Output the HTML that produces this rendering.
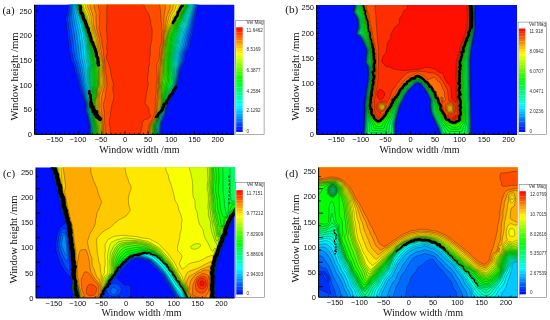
<!DOCTYPE html>
<html lang="en"><head><meta charset="utf-8"><title>Velocity magnitude contours</title>
<style>html,body{margin:0;padding:0;background:#fff}svg{display:block}</style></head>
<body>
<svg width="550" height="320" viewBox="0 0 550 320">
<rect width="550" height="320" fill="#fff"/>
<!-- panel a -->
<clipPath id="cpa"><rect x="34.5" y="4.7" width="199.8" height="129.7"/></clipPath>
<g clip-path="url(#cpa)">
<rect x="33.5" y="3.7" width="201.8" height="131.7" fill="#000fff"/>
<g stroke="#000" stroke-opacity="0.7" stroke-width="0.42" stroke-linejoin="round">
<path fill="#002eff" d="M68,1.7 199.4,1.7 199.2,4.2 197.5,8.8 195,20.5 194.2,25.7 193.5,28.6 192.8,32.7 191.1,38.2 190.2,44.7 188.7,48.7 186.5,52.6 186.1,53.7 185.5,56.9 185.3,60.2 184.9,61.7 181.5,68 181,69.3 180.4,72.7 179.5,76.2 179.2,78.7 177.7,84.7 175.4,90.7 172.5,95.5 171.3,99.2 170.2,101.2 168.5,103.3 168,104.2 166.5,110.9 165.8,115.2 165,116.8 164.2,119.2 162.5,122 162,123.6 161.7,130.7 161,134.6 160.8,137.2 89.9,137.2 89.3,134.7 89.1,133.2 89,127.2 88.3,124.2 87.5,118.4 87,116.2 85.2,112.7 84.9,111.2 84.8,109.2 85.1,105.7 85,103.7 84.5,102.1 83.2,99.2 82,95 78.8,86.2 77.5,78.6 74.8,71.2 73.5,65.3 72.9,63.7 71.8,61.7 70.9,59.7 70.4,55.2 69.2,51.2 68.6,43.2 67.6,38.7 67.5,33.2 66.5,28.7 66.2,23.2 65.7,19.2 65.9,17.2 67,13.9 67.4,11.7 67.7,1.7Z"/>
<path fill="#004dff" d="M69.5,1.7 198.1,1.7 197.9,4.2 196.2,8.7 193.5,20.8 192.7,25.7 191.3,31.7 189.5,37.7 188.4,44.7 187.1,48.2 185,52.2 184,56.2 183.6,60.2 182.3,63.7 180,68.8 178.7,75.2 178.2,78.7 176.9,84.2 174.7,90.2 171.9,95.2 170.8,98.7 169.7,100.7 167.5,103.6 164.9,114.7 164,116.4 163.3,118.7 161.5,122.2 161.1,124.2 160.7,131.2 160,134.8 159.8,137.2 90.7,137.2 89.9,132.7 89.8,127.7 89,121.7 87.5,115.1 86.4,112.7 86,111.2 85.9,109.2 86,105.2 85.8,103.2 84.2,98.7 81.5,88.9 80.4,85.7 79.1,78.2 76.9,71.2 76.1,67.2 75.3,64.2 73.2,59.2 72.6,54.7 71.4,50.7 71,43.7 69.9,38.2 69.7,33.2 68.6,27.7 67.8,19.2 67.9,17.7 69,12.2 69.1,1.7Z"/>
<path fill="#006cff" d="M70.5,1.7 197.1,1.7 197,4.2 195.4,8.7 193.5,17.2 192.3,21.2 191.5,25.7 188.2,37.2 186.8,44.7 185.8,47.7 183.8,51.7 182.8,56.2 182.3,60.2 181.2,64.2 179.3,68.7 177.6,78.7 176.4,84.2 174.2,90.2 171.5,95.2 170.8,97.7 170.2,99.2 167.1,103.7 166,107.9 165.2,112.2 164.2,114.7 163.4,116.2 162.7,118.7 161,122.3 160.6,124.2 160.1,131.2 159.4,135.2 159.2,137.2 91.1,137.2 90.4,133.2 90.2,127.2 89.4,121.7 88,115.2 86.6,111.2 86.5,105.2 86.3,102.7 84.7,98.2 82.7,88.7 81.5,84.7 81,82.2 80.5,77.7 78.7,71.2 77.9,66.7 76.7,62.2 75.3,58.7 74.8,54.2 73.7,50.2 73.4,44.2 72.4,38.7 72.1,34.7 70.9,28.2 69.8,19.2 70.4,11.7 70.2,7.7 70.3,1.7Z"/>
<path fill="#008bff" d="M71.5,1.7 196.2,1.7 196.1,4.2 194.6,8.7 192.6,16.7 191.4,20.7 190.5,25.2 187.9,32.7 186,40.2 185.3,44.7 184.5,47.2 182.5,51.7 181.6,56.2 181.3,59.7 180.8,61.7 180.5,63.7 178.6,69.2 177.2,78.7 176,84.2 173.8,90.2 171.1,95.2 170.7,97.2 170.1,98.7 169.3,100.2 167,103.4 166,106.7 164.9,112.2 163,115.8 162.2,118.7 160.7,122.2 160.3,124.2 159.6,131.7 158.7,137.2 91.4,137.2 90.6,132.2 90.5,126.7 89.7,121.7 88.9,118.2 88.1,114.2 87.4,112.2 87.1,110.7 86.7,102.7 85.2,97.7 83.8,88.2 82.4,82.7 82,77.7 81.1,73.2 80.5,71.2 80.2,67.7 78.6,61.7 77.5,58.7 76.9,53.2 76.1,50.2 75.8,44.2 74.7,38.2 74.5,34.7 73.2,28.2 71.8,19.2 71.9,16.2 71.4,7.2 71.4,1.7Z"/>
<path fill="#00aaff" d="M72.5,1.7 195.3,1.7 195.4,3.7 195.2,4.7 193.9,8.2 191.7,16.7 190.3,20.7 189.3,25.2 186.5,32.2 186,34.7 184.4,40.2 183.8,44.2 183.4,46.2 181.4,51.2 180.3,56.2 180.1,59.2 179.7,61.2 179.7,63.7 178,69.2 176.8,78.2 175.6,84.2 173.7,89.7 170.9,95.2 170.4,97.2 169.8,98.7 169,100.2 166.9,103.2 165.6,107.2 164.8,111.7 164.4,112.7 162.5,115.7 161.8,118.7 160.5,121.7 160,123.7 159.2,131.7 158.3,137.2 91.6,137.2 91,132.2 90.8,126.2 90,121.2 89.1,118.2 88.5,114.1 87.6,110.7 87.1,102.7 85.6,96.7 85.4,92.2 85,88.2 83.6,82.2 83.5,77.7 82.4,71.2 82.1,67.7 80.4,60.7 79.6,58.2 79.2,53.2 78.5,49.7 78.1,43.7 77.1,38.2 76.9,34.7 76,31.1 73.9,19.7 73.8,16.2 73.3,13.7 72.5,7.7Z"/>
<path fill="#00c9ff" d="M74,1.7 194.3,1.7 194.5,3.7 194.4,4.7 193.1,8.2 190.9,16.2 189.3,20.2 188.3,24.7 185.1,31.7 184.6,34.7 182.8,40.2 181.9,46.2 180.3,50.7 179,56.7 178.7,61.2 178.9,63.2 178.9,64.2 177.4,69.2 176.5,77.7 175.3,84.2 173.1,90.2 170.6,95.2 170.2,97.2 169.6,98.7 166.6,103.2 165.4,106.7 164.5,111.9 162,115.7 161.3,118.7 159.8,123.2 159.1,127.7 158.7,132.2 157.9,137.2 91.9,137.2 91.2,132.2 91,125.7 90.3,121.2 89.3,117.7 88.8,113.7 87.9,109.2 87.5,102.2 86.3,97.2 86.2,95.7 86.4,92.2 86.2,88.2 85.9,86.2 84.9,81.7 84.9,77.2 84.2,71.2 84.1,67.7 81.8,58.2 81.5,52.7 80.8,49.2 80.6,44.2 79.4,38.2 79.3,34.7 78.1,30.2 77.4,26.2 76,19.7 75.6,16.2 74.8,13.2 73.7,7.7 73.6,1.7Z"/>
<path fill="#00e8ff" d="M75,1.7 193.4,1.7 193.7,3.7 193.6,4.7 192.3,8.2 190.1,15.7 188.4,19.7 187.3,24.2 183.9,30.7 183.1,34.7 181.2,40.2 180.5,45.7 179.1,50.2 177.8,56.2 177.7,60.7 178.1,63.2 178.1,64.2 176.7,69.2 176.1,77.7 175,84.2 173,89.6 170.3,95.2 170,97 169.5,98.3 166.4,103.2 165.2,106.7 164.3,111.7 161.5,115.7 160.8,119.2 159.9,121.7 159.4,123.7 158.7,127.7 158.3,132.2 157.6,137.2 92.1,137.2 91.6,133.7 91.2,125.2 90.6,121.2 89.5,117.6 89.1,113.2 88.3,108.7 87.8,101.7 86.8,97.2 86.8,95.7 87.3,91.7 87.4,88.2 87.1,85.7 86.1,81.2 86.3,77.2 86.1,73.7 86.2,69.2 86,67.3 84.9,63.2 84,58.2 83.7,52.7 83.2,49.2 83,44.2 82.7,42.2 82,39.7 81.7,34.7 80.2,29.7 79.7,26.2 78.1,20.2 77.5,16.2 76.2,12.7 74.9,7.7 74.7,5.2 74.7,1.7Z"/>
<path fill="#00fff7" d="M75.5,1.7 192.5,1.7 192.8,3.7 192.6,5.2 191.4,8.2 189.3,15.2 187.3,19.7 186.3,23.7 185.5,25.4 183,29.2 182.6,30.2 181.8,34.7 180.5,37.7 179.9,39.7 179.2,45.7 178.1,49.7 176.7,56.2 176.6,60.2 177.2,64.2 176.1,69.2 175.6,77.7 174.7,84.2 171,93.3 170,95.2 169.6,97.2 169,98.7 166.3,103.2 165,106.7 164.1,111.7 161.7,114.7 161,116.2 160.4,119.2 159.2,122.7 158.4,127.2 158,132.2 157.3,137.2 92.4,137.2 91.9,133.7 91.5,125.2 90.9,121.2 89.7,117.2 89.6,113.2 88.6,108.7 88.1,104.2 88.1,101.2 87.4,97.2 87.4,95.7 88.1,91.7 88.3,88.7 88.1,85.2 87.3,80.7 87.5,77.7 87.4,73.7 87.7,67.7 87.5,66.2 86.4,62.2 85.9,58.2 85.7,52.7 85.2,48.7 85,43.2 83.9,39.2 83.7,34.2 82.2,29.7 81.5,25.7 79,17 77.2,12.2 75.7,7.2 75.4,4.7Z"/>
<path fill="#00ffd8" d="M76,1.7 191.7,1.7 191.9,4.2 191.7,5.2 190.7,7.7 188.1,15.2 186.4,19.2 185.3,23.2 181.9,29.2 180.8,34.2 179.5,37.2 178.9,39.2 178.1,45.7 175.7,56.2 175.6,60.7 176.1,63.2 176.1,64.7 175.3,69.2 175.2,77.2 174.5,83.8 170.5,93.7 169.9,94.7 169,97.9 166.3,102.7 164.9,106.2 163.8,111.7 161.4,114.7 160.5,116.7 160,119.2 158.8,123.2 157.9,127.2 157.5,132.7 157,137.2 92.7,137.2 92.2,133.7 91.8,124.7 91.2,121.2 90,117.2 90,113.2 88.8,108.2 88.4,104.2 88.4,101.2 87.9,97.7 87.9,95.7 88.8,92.2 89.1,89.7 89,85.2 88.1,80.7 88.3,77.7 88.2,73.7 88.6,67.2 87.5,62.2 87,58.7 86.8,52.7 86.2,48.2 86,42.7 85.1,39.2 84.7,34.2 83.1,29.2 82.5,25.7 79.1,15.2 77.7,11.7 76.1,6.2 75.8,4.2 75.8,1.7Z"/>
<path fill="#00ffb9" d="M76.5,1.7 191,1.7 191,4.2 190.8,5.2 185.7,18.2 184.3,22.7 181.5,27.7 180.9,29.2 179.9,33.7 178.5,37.1 178,38.7 177.4,43.7 174.8,56.7 174.7,60.7 175,64.2 174.5,68.7 174.7,76.7 174.2,83.7 169.5,94.7 168.5,98 166.3,102.2 164.6,106.2 163.8,110.7 163.5,111.7 161.1,114.7 160.2,116.7 159.6,119.7 158.2,123.7 157.4,127.2 157.2,132.7 156.8,137.2 93,137.2 92.4,133.7 92,124.2 91.5,121.2 90.4,117.7 90.4,113.2 89.2,108.7 88.7,104.2 88.8,101.2 88.3,96.7 89.5,91.7 89.7,89.7 89.6,85.2 88.8,80.7 88.8,74.7 89.2,66.7 87.8,58.2 87.6,52.2 86.8,47.2 86.8,42.7 85.9,38.7 85.5,34.2 83.8,29.2 83.1,25.2 78.6,12.7 76.4,5.7 76.2,4.2 76.2,1.7Z"/>
<path fill="#00ff9b" d="M76.5,1.7 190.3,1.7 190.2,3.7 189.8,5.2 186.7,12.7 183.3,22.2 180.7,26.7 179.1,33.2 177.3,37.7 176.6,42.7 173.9,56.7 173.7,61.2 174,64.7 173.7,68.2 173.7,72.2 174.1,76.7 174,83.2 173.5,84.7 170.9,89.7 168.5,96.6 164.4,106.2 163.4,111.2 162.8,112.2 160.8,114.7 159.8,116.7 159.2,119.7 157.6,124.2 156.9,127.2 156.8,132.7 156.5,137.2 93.4,137.2 92.8,133.7 92.3,123.7 90.9,118.2 90.8,116.7 90.8,113.2 89.5,108.7 89,104.2 89.1,101.2 88.8,96.7 90.2,91.2 90.4,85.7 89.6,81.2 89.4,75.2 89.8,65.2 88.7,58.2 88.7,55.2 88.4,51.7 87.4,47.2 87.5,42.7 86.7,38.7 86.4,35.7 86,33.6 84.6,29.2 83.5,24.5 82,20.2 80.2,16.2 76.8,5.7 76.5,4.2Z"/>
<path fill="#00ff7c" d="M77,1.7 189.6,1.7 189.1,4.7 185.6,12.7 182.6,21.2 181.6,23.2 179.7,26.2 178.4,32.2 176.4,37.2 175.8,42.2 174.9,45.7 174.4,49.7 173.2,55.7 172.7,60.7 172.9,64.2 172.7,67.7 173,72.2 173.5,77.3 173.5,83.2 173,84.7 170.2,89.7 169,93.7 166.2,100.7 165.1,104.2 164.1,106.2 163,111.2 160.5,114.7 159.7,116.2 158.9,119.7 157.1,124.2 156.3,127.7 156.5,132.3 156.2,137.2 93.8,137.2 93.1,133.7 92.7,123.7 91.3,118.2 91.3,113.2 89.8,108.7 89.3,104.2 89.5,101.2 89.3,97.2 89.6,95.7 90.9,91.2 91,85.7 90.3,81.2 90,75.7 90.2,72.2 90.1,69.2 90.6,65.7 90.6,64.2 89.5,58.2 89.5,55.2 89.1,51.2 88.1,47.2 88.2,42.7 86.9,35.2 85.1,29.2 84,24.3 82.5,20.2 80.5,16.2 78,7.7 77,5.2 76.7,3.7 76.7,1.7Z"/>
<path fill="#00ff5d" d="M77.5,1.7 189,1.7 188.4,4.7 184.9,12.2 182.2,19.7 180.8,22.7 178.9,25.7 177.8,30.7 175.3,37.2 174.9,41.2 173.9,45.2 173.5,49.2 172.3,55.2 171.7,61.2 171.7,67.7 172.8,80.2 172.6,83.2 172,84.9 169.7,88.7 168.5,93.2 166,99.9 165,103.7 163.8,106.2 162.6,111.2 159.4,116.2 158.6,119.7 156.6,124.2 155.9,127.7 156.1,131.7 155.9,137.2 94.3,137.2 93.5,133.7 93.2,123.7 91.7,117.7 91.7,113.2 90.3,108.7 89.7,104.2 89.9,97.2 91.6,91.2 91.8,85.2 91.2,81.2 90.8,75.7 91,72.2 90.9,68.7 91.4,65.7 91.4,64.2 90.3,58.2 90.3,55.2 89.9,51.7 89.5,49.7 88.7,47.2 88.7,42.7 87.3,34.7 85.3,28.2 84,22.9 83,20.2 80.7,15.7 78.5,8 77.2,4.7 77,1.7Z"/>
<path fill="#00ff3e" d="M77.5,1.7 188.4,1.7 188.1,3.7 187.6,5.2 184.4,11.7 182.2,17.7 181,20.4 179.9,22.7 178.1,25.7 177,30.1 174.3,36.7 173.7,41.2 172.8,45.2 172.5,48.7 171.4,55.2 170.6,61.7 170.9,72.7 171.5,78.2 171.5,80.7 171.1,83.2 170.7,84.7 168.7,88.2 167.7,92.7 165.8,98.2 164.8,103.2 163.6,105.7 162.4,110.7 161.7,112.2 159.1,116.2 158.3,119.7 156,124.7 155.5,127.7 155.8,132.2 155.5,137.2 94.9,137.2 94.1,133.7 93.7,123.7 92.3,118.2 92.2,113.2 90.7,108.2 90.2,104.2 90.6,97.7 92.3,91.7 92.8,85.2 92.2,81.2 91.8,75.7 92,72.2 91.8,68.7 92.3,65.2 92.2,63.2 91.1,58.2 91,55.2 90.4,50.7 89.3,46.7 89.2,42.2 87.6,34.7 85.6,28.2 85,25.2 84,21.7 83.2,19.7 81,15.7 79,8.5 77.5,4.7 77.3,1.7Z"/>
<path fill="#00ff1f" d="M78,1.7 187.7,1.7 187.5,3.7 186.9,5.7 184,11.2 182,16.4 179.5,21.7 177.4,25.2 176.3,29.2 173.8,34.7 173.2,36.7 172.8,39.7 171.9,43.7 171.4,48.7 169.5,61.7 169.7,73.2 170.1,77.7 169.7,82.7 169.4,84.2 167.6,87.7 166.9,92.2 165.2,97.7 164.5,102.7 163.2,105.7 162.4,109.7 161.3,112.2 158.8,116.2 158.2,119.2 155.8,123.7 155.5,124.7 155.1,127.2 155.4,132.2 155,137.2 95.5,137.2 94.7,133.7 94.3,123.7 92.8,118.2 92.6,113.2 91.4,108.2 90.9,104.2 91.4,97.7 92.8,92.7 93.2,87.7 93.8,84.7 93.3,81.2 92.9,76.2 93.1,72.2 92.8,68.7 93.1,65.2 93,62.7 91.9,58.2 91.7,55.2 91.1,50.7 89.9,46.7 89.5,41.7 87.9,34.7 85.9,28.2 84.3,21.7 83.5,19.7 81.1,15.2 79.5,9.2 77.8,4.7 77.6,3.7 77.6,1.7Z"/>
<path fill="#00ff00" d="M78,1.7 187.1,1.7 187,3.7 186.3,5.7 183.8,10.2 181,16.9 178.6,21.7 176.9,24.7 175.5,28.7 172.9,34.2 172.1,36.2 170.9,43.2 169.2,57.7 168.4,61.7 168.5,73.2 168.8,77.2 168.3,82.7 168,83.7 166.5,87.2 165.9,92.2 164.8,95.7 164.5,97.3 164,102.7 162.9,105.7 162.2,109.2 161,112.2 158.7,115.7 158,119 155.4,123.7 155,124.7 154.7,127.2 155,132.7 154.5,137.2 96.1,137.2 95.4,133.7 95.3,130.2 94.8,123.7 93.3,118.2 93,113.2 92,107.7 91.6,104.2 92.2,98.2 93.5,93.2 94,88.1 94.7,84.7 94,76.2 94.1,72.7 93.8,68.7 94,65.2 93.8,62.7 92.6,57.7 92.4,55.2 91.7,50.7 90.6,46.7 90,41.7 88.1,34.2 86.1,27.7 84.5,21.1 83.9,19.7 81.8,16.2 81.2,14.7 79.9,9.2 78,4.2 77.9,1.7Z"/>
<path fill="#1fff00" d="M78.5,1.7 186.5,1.7 186.4,3.7 186,5.2 183.4,9.7 181,15.4 176.3,24.2 174.7,28.2 171.7,34.2 171,36.2 169.8,42.7 168.2,57.7 167.3,61.7 167.4,69.7 167.2,73.7 167.5,77.7 166.8,82.7 165.3,87.2 165.1,91.7 164,95.7 163.7,97.2 163.6,102.2 162.6,105.2 162,108.7 160.9,111.7 158.4,115.7 158,118.2 157.6,119.2 154.7,124.2 154.3,127.2 154.6,132.7 153.9,137.2 96.7,137.2 96.1,133.7 96,129.7 95.4,123.7 93.7,117.7 93.3,111.2 92.3,104.2 92.7,99.7 94,95.2 94.8,88.2 95.7,84.7 95.2,79.2 95.2,72.7 94.6,62.2 93.3,57.7 93,54.7 92.2,50.2 91.2,46.7 90.3,41.2 89.1,37.7 87.3,30.7 86.3,27.7 84.8,21.2 84,19.2 81.9,15.7 81.3,14.2 80.2,9.2 78.4,4.2 78.2,1.7Z"/>
<path fill="#3eff00" d="M78.5,1.7 185.9,1.7 185.8,3.7 185.5,5.2 182.5,10.2 180.5,15 178.3,18.7 175.7,23.7 174,27.5 171,33 170,35.7 168.6,42.7 167.3,57.2 166.2,61.7 166.3,69.7 166,73.7 166.2,77.2 165.3,82.7 164.2,86.7 164.1,91.7 163,96.7 163,102.2 162.2,105.2 161.8,108.2 160.7,111.2 159.8,113.2 158.2,115.7 157.6,118.7 154.3,124.2 153.9,127.2 154.2,132.7 153.3,137.2 97.3,137.2 96.8,133.7 96.7,129.7 96,123.7 94.4,118.7 94.2,117.2 93.6,109.2 93,104.2 93.4,100.2 94.8,95.7 95.6,88.2 96.6,85.2 96.8,84.2 96.3,78.7 96.2,72.2 95.4,62.2 95,60.2 94,57.2 92.8,49.7 91.7,46.2 90.7,41.2 89.5,37.7 87.8,31.2 86.5,27.3 85.2,21.2 84.4,19.2 82.5,16.2 81.6,14.2 80.6,9.7 78.8,4.2Z"/>
<path fill="#5dff00" d="M79,1.7 185.3,1.7 185.3,3.7 184.8,5.2 182,9.7 179.9,14.7 177.7,18.2 173.5,26.5 171,30.7 169,35.2 167.6,42.2 166.4,56.7 165.1,61.7 165.2,68.7 164.8,73.7 164.9,76.7 164.1,80.2 163.8,82.7 163,86.7 163.1,91.7 162.5,95.2 162.3,97.2 162.6,100.7 162.6,102.2 161.8,105.2 161.4,108.2 160.2,111.7 157.9,115.7 157.7,117.7 157.4,118.7 153.9,124.2 153.6,127.2 153.8,132.7 152.8,137.2 97.8,137.2 97.4,133.2 97.3,129.7 96.6,123.7 96.3,122.2 95,118.7 94.7,117.2 94.2,109.2 93.7,104.2 94.2,99.7 95.6,95.7 96.2,88.7 97.4,85.2 97.6,84.2 97.2,78.7 97.2,72.7 96.2,61.7 95.7,59.7 94.8,57.2 93.1,48.7 91.7,44.2 91,40.7 89.7,37.2 88.1,31.2 86.9,27.7 85.5,21.2 84.8,19.2 82.5,15.5 81.9,14.2 80.8,9.2 79.1,4.2 78.9,2.2 78.9,1.7Z"/>
<path fill="#7cff00" d="M79.5,1.7 184.6,1.7 184.6,3.7 184.4,4.7 181.4,9.7 179.5,14.2 177,17.8 173.4,25.2 170,30.8 169,32.9 168.1,35.7 166.7,43.2 166.5,46.7 165.9,50.2 165.7,56.2 164.3,61.7 164.3,68.7 163.9,73.2 163.8,76.7 162.7,80.7 162.6,83.2 162.1,87.2 162.3,91.7 161.8,97.2 162.1,100.7 162,102.7 160.9,108.7 159.7,112.2 157.7,115.7 157.4,118.2 155.6,121.2 154.1,123.2 153.5,124.2 153.2,126.7 153.4,132.7 152.3,137.2 98.4,137.2 98,133.2 98,129.7 97.2,123.7 96.9,122.2 95.6,118.7 95.2,116.7 94.3,104.2 94.7,99.7 96,96.2 96.3,91.7 96.6,89.2 97.9,85.7 98.2,84.2 97.9,78.7 98,74.7 97.8,69.7 97,62.2 96.5,60 95.3,56.7 93.6,48.2 92.1,43.7 91.4,40.7 90,37 88.3,30.7 87.1,27.2 85.7,20.7 84.7,18.2 82.5,14.6 82,13.1 81.4,9.7 79.5,4.2 79.3,1.7Z"/>
<path fill="#9bff00" d="M80,1.7 183.9,1.7 183.8,3.7 183.5,4.7 180.7,9.7 178.7,14.2 176.2,17.7 174.9,20.7 173.2,24.2 169.5,30.4 168.5,32.7 167.5,35.7 166.1,43.2 165.9,46.7 165.3,50.2 164.9,56.7 163.8,61.2 163.6,64.7 163.7,68.7 163.1,76.2 161.9,80.7 161.9,83.2 161.5,87.2 161.7,91.7 161.3,97.2 161.7,101.7 160.9,107.2 159.6,111.7 157.5,115.7 157.4,117.2 157.1,118.2 155.5,120.9 153.7,123.2 153.2,124.2 152.8,126.7 153,132.7 151.8,137.2 98.9,137.2 98.6,129.2 97.8,123.2 96.3,118.7 95.9,116.7 95.3,112.2 94.8,104.2 95,100.2 96.4,96.2 96.8,90.2 97.3,88.2 98.2,86.2 98.6,84.2 98.3,78.7 98.5,75.7 98.5,69.2 97.6,62.2 97,59.7 95.8,56.7 95.1,52.7 94,47.8 92.6,43.7 91.9,40.7 90.5,37 88.8,30.7 87.5,27 86.1,20.7 85.2,18.2 83,14.4 82.5,13 81.8,9.7 80,4.2 79.7,1.7Z"/>
<path fill="#b9ff00" d="M80.5,1.7 183.1,1.7 182.7,4.2 179.7,10.2 178.5,13.2 177.6,14.7 175.6,17.2 174.5,20.2 173,23.3 169,30.3 167.1,35.7 165.6,43.2 165.5,46.2 164.7,50.2 164.3,56.7 163.3,61.2 163.1,64.7 163.2,68.7 162.6,75.2 162.3,76.7 161.3,80.7 161.3,83.7 160.9,89.2 161.1,94.2 161,98.2 161.2,102.2 160.6,107.2 159.3,111.7 157.2,115.7 157,117.9 155.4,120.7 153.4,123.2 152.9,124.2 152.4,126.7 152.5,133.2 151.4,137.2 99.3,137.2 99.2,134.2 99.3,130.2 98.6,123.7 98.3,122.2 96.9,118.2 95.9,112.2 95.4,106.2 95.3,101.2 95.6,99.2 96.7,96.2 97,94.2 97,91.7 97.3,89.7 97.7,88.2 98.5,86.6 98.8,84.7 98.7,78.7 98.9,75.7 98.8,72.2 99.1,69.2 98.9,67.2 98.1,61.7 96.2,56.7 95.5,52.2 94.5,47.7 93,43.4 90.1,33.2 88,26.7 85.8,18.2 83.3,13.2 81.8,8.2 80.7,5.2 80.3,2.7 80.2,1.7Z"/>
<path fill="#d8ff00" d="M81,1.7 182.2,1.7 182,3.2 181.4,5.2 178,12.7 177,14.3 175,16.7 174,19.7 173,21.9 168.5,30.3 166.6,35.7 165.2,43.2 164.9,46.7 164.1,50.7 163.8,56.7 163,60.7 162.7,64.2 162.8,68.7 162.2,74.2 161.7,76.7 160.9,79.2 160.7,80.7 160.8,83.7 160.4,89.7 160.8,94.2 160.6,98.2 160.8,102.2 160.6,104.7 159.5,110.3 158.8,112.2 157.2,115.2 156.9,117.7 155.1,120.7 153,123.4 152.5,124.7 152.1,126.7 152,133.2 151,137.2 99.8,137.2 99.7,134.2 100,130.7 99.5,126.7 99.3,123.7 99,122.2 97.8,118.7 97.2,114.7 96.3,111.2 95.8,106.7 95.7,101.2 95.9,99.2 97.1,96.2 97.5,90.2 97.9,88.7 98.9,86.7 99.1,85.7 99.2,83.7 99.1,79.2 99.3,75.7 99.2,72.2 99.6,69.2 99.5,67.2 98.6,61.7 96.6,56.2 95.9,51.7 94.8,47.2 92.1,38.7 90.9,33.7 87.3,22.2 86.2,17.7 83.5,11.8 81.2,5.2 80.8,3.2 80.8,1.7Z"/>
<path fill="#f7ff00" d="M81.5,1.7 181.2,1.7 180.5,5.2 179.5,7.7 177,13 174.3,16.2 173.2,19.7 172.5,21.5 168,30.2 166.2,35.7 165.5,40.4 164.9,43.2 164.6,46.2 163.5,51.7 163.3,56.7 162.2,64.7 162.3,68.7 161.7,73.7 160.1,80.7 160.4,85.2 159.9,90.2 160.4,94.7 160.3,104.7 159.1,110.7 157,115.2 156.6,117.7 155,120.5 152.8,123.2 152,125.2 151.6,127.2 151.6,133.2 150.6,137.2 100.3,137.2 100.2,134.7 100.5,130.7 100.1,126.7 99.9,123.2 98.7,119.2 97.9,114.7 96.7,110.7 96.3,107.2 96.3,103.2 96,100.7 96.4,98.7 97.4,96.2 97.8,90.2 98.3,88.7 99.1,87.2 99.4,86.2 99.6,83.7 99.5,79.2 99.7,75.7 99.6,72.7 100.2,69.2 100.1,67.2 99,61.2 97.1,56.2 96.4,51.7 95.6,48.2 92.7,38.7 91.6,33.7 87.7,21.7 86.6,16.7 84,11.1 81.9,5.2 81.5,3.7Z"/>
<path fill="#ffe800" d="M83,1.7 179.7,1.7 179.1,5.2 178,8.1 176,12.4 173.3,15.7 172,20.2 167.6,29.7 165.7,35.7 165.1,40.2 164.5,43.2 164.2,46.2 163.4,49.7 163,52.7 162.8,56.7 161.8,64.7 161.8,68.2 161.3,73.2 159.7,80.7 160,85.2 159.4,90.7 160,95.7 159.7,99.7 159.7,105.2 158.6,110.7 156.7,115.2 156.4,117.7 155,120.2 152.5,123.2 151.6,125.2 151.2,127.7 151.1,133.2 150.2,137.2 100.9,137.2 100.8,134.7 101.1,130.7 100.6,123.2 99.3,118.7 98.5,114.2 97.2,110.2 96.8,107.2 96.9,103.2 96.5,100.2 96.9,98.2 97.7,96.7 98,94.2 98,91.8 98.3,90.2 99.7,87.2 99.9,86.2 100,83.7 100,78.6 100.2,75.7 100.1,72.7 100.8,69.2 100.7,66.7 99.7,61.2 97.8,56.2 96.2,48.2 93.5,39 92.4,33.2 88.5,21.7 87.3,15.7 84.5,9.8 82.8,4.7 82.6,2.7 82.7,1.7Z"/>
<path fill="#ffc900" d="M85,1.7 176.5,1.7 176.4,4.7 175.4,8.2 174.2,11.2 172.6,13.2 171.3,15.7 170.1,20.2 168.6,24.2 167.8,27.2 167,29.3 164.9,36.2 164.7,40.2 164.1,43.2 163.8,46.2 162.9,50.2 162.5,53.2 160.7,73.2 159.3,80.7 159.7,85.2 159.5,87.7 159,90.7 159.5,95.7 159.1,100.7 159.1,105.2 158.2,110.2 156.3,115.7 156.3,117.2 156.1,117.7 154.5,120.4 152.2,123.2 151.2,125.2 150.7,128.7 150.5,133.7 149.8,137.2 101.5,137.2 101.6,130.7 101.2,123.7 100.8,121.7 99.8,118.2 99.1,114.2 97.6,109.7 97.4,107.7 97.5,103.2 97.2,100.2 97.3,98.7 98.1,96.7 98.8,90.7 100.3,87.2 100.9,84.2 100.9,73.2 101.6,69.2 101.4,65.7 100.5,60.7 98.3,54.7 96.9,47.7 93.6,33.7 90,22.2 89.4,17.7 89,15.7 88.3,13.7 85.9,8.2 85,4.2 84.9,1.7Z"/>
<path fill="#ffaa00" d="M87.5,1.7 173.2,1.7 173.4,4.7 172.6,8.7 172.3,9.7 169.8,14.2 169.1,16.2 167.2,23.7 166.7,27.2 164.2,36.2 164.1,40.7 163.4,46.2 162.5,50.2 160.1,73.2 158.9,80.7 159.3,85.7 159.1,87.7 158.6,90.2 158.5,91.7 158.9,96.2 158.3,101.2 158.3,105.2 157.6,108.7 157.6,110.2 156,115.7 156,116.9 155.7,117.7 154.5,119.9 151.9,123.2 150.9,125.2 150.2,128.7 150,133.7 149.4,137.2 102.3,137.2 101.9,124.2 99.6,113.7 98.2,109.7 98.3,103.2 98,99.2 99.4,91.7 101.4,86.7 102.2,83.7 102.3,79.7 101.8,73.7 102.4,69.7 102.1,63.7 101.3,60.2 98.8,52.7 97.3,45.7 96.2,38.7 94.6,33.2 93.2,29.2 91.8,23.7 91.4,21.7 91.3,18.2 90.8,15.7 90.1,13.2 87.9,7.7 87.4,4.2 87.3,1.7Z"/>
<path fill="#ff8b00" d="M90,1.7 169.6,1.7 170.2,5.2 170,8.2 166.7,16.7 165.8,23.2 165.6,27.2 165.2,29.7 163.6,35.7 163.6,41.7 162.9,46.2 162.1,49.7 161.2,57.2 161.1,60.2 159.7,69.2 159.5,73.2 158.6,80.7 158.8,86.2 158.6,88.2 158,91.2 158.2,96.7 157.5,101.2 157.6,104.7 156.9,108.7 156.9,110.2 156.2,114.2 155.6,115.7 155.5,117.2 154,120 151.1,123.7 150.5,125.2 149.7,129.2 149.4,133.2 148.9,137.2 103.1,137.2 103.1,134.7 102.6,130.2 102.6,124.7 100.3,113.2 99.3,110.2 99.1,108.7 99.3,103.2 99.1,98.7 99.5,95.7 100.5,92 103.3,85.2 103.6,83.7 103.6,78.7 102.8,73.7 103.1,69.7 103,63.7 101.9,58.7 100,52.9 99,48.8 98.3,45.2 97.6,38.2 94.5,28.9 93.5,24.7 93.2,22.2 93.2,17.7 92.2,13.2 90.3,7.7 90,5.2Z"/>
<path fill="#ff6c00" d="M94,1.7 164.8,1.7 165.3,4.2 165.4,8.2 164.2,14.7 163.9,19.2 164.1,30.7 162.9,35.7 163.1,41.7 161.5,49.2 160.7,56.7 160.6,60.2 159.3,64.2 158.6,68.7 158.6,73.7 158.1,80.7 158,88 157.5,90.7 157.4,96.7 156.7,101.2 156.8,104.7 156.3,108.2 156.3,110.2 155.6,114.2 154.5,117.7 153.5,119.7 150.9,123.2 150.1,124.7 149.1,129.2 148.1,137.2 104.3,137.2 103.4,130.7 103.5,125.2 102,115.2 101.9,112.7 101.1,109.2 100.9,106.7 101,104.2 101.6,97.7 102.7,92.2 104.7,86.2 105,83.7 104.7,77.2 103.8,72.7 103.8,63.7 102.9,58.7 101.7,53.7 100.2,46.2 99.3,38.7 96.4,28.2 95.9,17.7 96.1,14.7 95.6,12.2 94,7.2 93.8,1.7Z"/>
<path fill="#ff4d00" d="M98.5,1.7 158.2,1.7 159.5,3.2 159.9,7.2 160.5,10.7 161.1,20.7 161.7,24.7 161.6,27.7 162.3,31.2 161.5,36.2 161.8,41.2 160,47.7 159.1,59.7 159,60.2 157.2,63.2 156.9,64.7 156.7,69.7 157.3,77.2 157,80.6 156.2,85.2 156.3,91.2 155.2,100.7 155.5,104.2 155.1,107.7 155.1,110.7 154.5,113.7 152.5,119 149.2,124.2 147.7,130.7 146.5,137.2 106,137.2 105,131.2 105,125.2 104.3,120.7 104.2,115.2 104.4,112.2 103.5,106.7 103.4,104.7 103.5,103.7 105.4,96.7 105.6,92.7 106.8,87.2 107,82.7 106.3,75.7 105.1,71.7 105.1,65.7 104.3,58.7 103.7,55.7 103.3,50.2 102.4,46.2 101.7,39.7 100.5,35.1 100.1,32.2 99.2,28.7 99.1,27.7 99.8,23.2 99.3,18.2 99.8,15.2 99.9,13.2 99.8,11.7 98.8,8.7 98.3,6.7 98.2,1.7Z"/>
<path fill="#ff2e00" d="M107.5,1.7 143.9,1.7 143.8,4.2 143.9,5.2 146,10.2 148.6,13.7 150.6,20.2 150.9,24.7 152,28.7 152.2,30.2 152,38.2 151.5,41.7 150.3,47.2 150.3,54.7 149.2,60.2 149.6,62.7 149.6,63.7 148.5,67.7 148.5,71.2 147.7,76.7 147.7,79.2 148.3,83.7 147.4,89.2 146.4,93.2 145.8,98.7 145,102.7 145.2,103.7 145.5,104.2 147.5,106.4 148.3,107.7 148.9,109.7 149,112.7 150.6,115.2 150.7,115.7 150.3,116.7 149,118 147.5,118.8 144.5,119.8 143.5,120.5 143,121.2 142.4,123.2 142.1,126.7 141.3,129.2 140.5,133.7 139.6,137.2 111.4,137.2 111.2,134.7 110.4,131.2 110.2,127.7 109.3,124.7 109.4,120.2 109.5,119.2 110.4,116.7 110.5,112.7 111.4,108.7 111.8,104.7 113.3,100.2 114.1,95.2 113,90.9 112.8,89.2 112.8,87.7 113.4,84.7 113.4,83.7 111.8,78.2 109.8,66.7 107,60.2 106.5,58.2 106.6,56.7 107.3,51.7 106.7,47.7 106.7,46.2 107.4,42.2 107,37.7 107,34.2 106.4,29.2 106.2,26.7 106.9,21.2 106.8,10.2 107.2,1.7Z"/>
</g>
<path d="M79.5,4.0 80.1,5.4 80.6,7.1 80.3,8.8 80.4,10.2 80.9,12.6 82.3,13.6 83.0,15.3 83.2,17.4 83.8,19.6 84.4,19.9 85.5,21.8 85.5,22.4 86.6,25.5 87.1,27.2 88.1,28.4 88.4,29.7 88.5,32.0 89.4,32.7 89.9,34.7 90.1,36.6 90.8,37.4 91.2,40.3 91.6,41.3 93.0,43.1 92.9,44.3 94.1,46.3 94.1,46.9 95.2,49.2 95.3,50.0 95.8,51.6 96.3,52.5 96.4,54.3 96.4,55.9 97.2,57.0 97.8,58.0 98.0,60.2 98.3,62.1 97.9,62.7 98.5,65.0" fill="none" stroke="#000" stroke-width="3.2" stroke-linejoin="round" stroke-linecap="round"/>
<path d="M89.3,91.0 89.1,92.8 89.3,93.4 90.9,95.6 90.3,97.2 91.0,98.9 91.1,100.1 90.4,102.8 91.3,104.0" fill="none" stroke="#000" stroke-width="2.6" stroke-linejoin="round" stroke-linecap="round"/>
<path d="M91.3,104.0 91.4,106.4 92.8,107.3 93.2,109.1 93.8,110.4 93.5,111.6 96.3,112.2 95.7,114.3 97.1,115.4 96.7,116.6 98.1,117.2 100.0,119.0" fill="none" stroke="#000" stroke-width="4.3" stroke-linejoin="round" stroke-linecap="round"/>
<path d="M183.0,4.0 182.6,5.8 181.1,6.7 180.3,8.3 179.6,9.7 179.1,11.0 177.8,12.3 177.8,14.2 177.2,16.0 175.9,17.3 174.7,19.4 175.0,19.9 173.3,21.7 173.0,23.0" fill="none" stroke="#000" stroke-width="2.8" stroke-linejoin="round" stroke-linecap="round"/>
<path d="M176.0,87.0 175.0,88.6 174.0,89.5 173.4,90.3 173.0,91.4 172.8,92.8 172.0,93.8 170.6,94.9 169.1,96.7 169.1,97.3 168.5,98.7 167.3,100.4 166.7,100.8 166.4,103.0 164.8,103.6 163.7,104.8 163.9,106.5 162.5,107.8 162.9,109.1 161.3,111.0 160.9,111.8 159.8,112.4 158.5,113.8 157.9,115.1 157.2,116.1 156.0,117.0" fill="none" stroke="#000" stroke-width="2.8" stroke-linejoin="round" stroke-linecap="round"/>
</g>
<path d="M34.5,4.7V134.4H234.3" fill="none" stroke="#000" stroke-width="1"/>
<path d="M36.9,134.4v-1.6M41.6,134.4v-1.6M46.2,134.4v-1.6M50.8,134.4v-1.6M55.5,134.4v-3.2M60.1,134.4v-1.6M64.7,134.4v-1.6M69.4,134.4v-1.6M74.0,134.4v-1.6M78.7,134.4v-3.2M83.3,134.4v-1.6M87.9,134.4v-1.6M92.6,134.4v-1.6M97.2,134.4v-1.6M101.8,134.4v-3.2M106.5,134.4v-1.6M111.1,134.4v-1.6M115.7,134.4v-1.6M120.4,134.4v-1.6M125.0,134.4v-3.2M129.6,134.4v-1.6M134.3,134.4v-1.6M138.9,134.4v-1.6M143.5,134.4v-1.6M148.2,134.4v-3.2M152.8,134.4v-1.6M157.4,134.4v-1.6M162.1,134.4v-1.6M166.7,134.4v-1.6M171.3,134.4v-3.2M176.0,134.4v-1.6M180.6,134.4v-1.6M185.3,134.4v-1.6M189.9,134.4v-1.6M194.5,134.4v-3.2M199.2,134.4v-1.6M203.8,134.4v-1.6M208.4,134.4v-1.6M213.1,134.4v-1.6M217.7,134.4v-3.2M222.3,134.4v-1.6M227.0,134.4v-1.6M231.6,134.4v-1.6M34.5,129.5h1.8M34.5,124.5h1.8M34.5,119.6h1.8M34.5,114.6h1.8M34.5,109.7h3.6M34.5,104.8h1.8M34.5,99.8h1.8M34.5,94.9h1.8M34.5,89.9h1.8M34.5,85.0h3.6M34.5,80.1h1.8M34.5,75.1h1.8M34.5,70.2h1.8M34.5,65.2h1.8M34.5,60.3h3.6M34.5,55.4h1.8M34.5,50.4h1.8M34.5,45.5h1.8M34.5,40.5h1.8M34.5,35.6h3.6M34.5,30.7h1.8M34.5,25.7h1.8M34.5,20.8h1.8M34.5,15.8h1.8M34.5,10.9h3.6M34.5,6.0h1.8" stroke="#000" stroke-width="0.8" fill="none"/>
<g font-family="Liberation Sans, Arial, sans-serif" font-size="7.5" fill="#111">
<text x="54.7" y="142.3" text-anchor="middle">−150</text>
<text x="77.9" y="142.3" text-anchor="middle">−100</text>
<text x="101.0" y="142.3" text-anchor="middle">−50</text>
<text x="125.0" y="142.3" text-anchor="middle">0</text>
<text x="148.2" y="142.3" text-anchor="middle">50</text>
<text x="171.3" y="142.3" text-anchor="middle">100</text>
<text x="194.5" y="142.3" text-anchor="middle">150</text>
<text x="217.7" y="142.3" text-anchor="middle">200</text>
<text x="31.9" y="137.1" text-anchor="end">0</text>
<text x="31.9" y="112.4" text-anchor="end">50</text>
<text x="31.9" y="87.7" text-anchor="end">100</text>
<text x="31.9" y="63.0" text-anchor="end">150</text>
<text x="31.9" y="38.3" text-anchor="end">200</text>
<text x="31.9" y="13.6" text-anchor="end">250</text>
</g>
<g font-family="Liberation Serif, Times New Roman, serif" fill="#111">
<text transform="translate(139.4,152.5) scale(1,1.06)" font-size="10.0" text-anchor="middle">Window width /mm</text>
<text transform="translate(17.9,76.5) rotate(-90) scale(1,1.0)" font-size="10.7" text-anchor="middle">Window height /mm</text>
<text x="2.5" y="14" font-size="10.8">(a)</text>
</g>
<rect x="235.7" y="20.5" width="28.4" height="113.9" fill="#fff" stroke="#777" stroke-width="0.6"/>
<rect x="236.2" y="27.30" width="6.5" height="2.76" fill="#ff0d00"/>
<rect x="236.2" y="29.91" width="6.5" height="2.76" fill="#ff2600"/>
<rect x="236.2" y="32.52" width="6.5" height="2.76" fill="#ff4000"/>
<rect x="236.2" y="35.14" width="6.5" height="2.76" fill="#ff5900"/>
<rect x="236.2" y="37.75" width="6.5" height="2.76" fill="#ff7300"/>
<rect x="236.2" y="40.36" width="6.5" height="2.76" fill="#ff8c00"/>
<rect x="236.2" y="42.98" width="6.5" height="2.76" fill="#ffa600"/>
<rect x="236.2" y="45.59" width="6.5" height="2.76" fill="#ffbf00"/>
<rect x="236.2" y="48.20" width="6.5" height="2.76" fill="#ffd900"/>
<rect x="236.2" y="50.81" width="6.5" height="2.76" fill="#fff200"/>
<rect x="236.2" y="53.43" width="6.5" height="2.76" fill="#f2ff00"/>
<rect x="236.2" y="56.04" width="6.5" height="2.76" fill="#d9ff00"/>
<rect x="236.2" y="58.65" width="6.5" height="2.76" fill="#bfff00"/>
<rect x="236.2" y="61.26" width="6.5" height="2.76" fill="#a6ff00"/>
<rect x="236.2" y="63.88" width="6.5" height="2.76" fill="#8cff00"/>
<rect x="236.2" y="66.49" width="6.5" height="2.76" fill="#73ff00"/>
<rect x="236.2" y="69.10" width="6.5" height="2.76" fill="#59ff00"/>
<rect x="236.2" y="71.71" width="6.5" height="2.76" fill="#40ff00"/>
<rect x="236.2" y="74.33" width="6.5" height="2.76" fill="#26ff00"/>
<rect x="236.2" y="76.94" width="6.5" height="2.76" fill="#0dff00"/>
<rect x="236.2" y="79.55" width="6.5" height="2.76" fill="#00ff0d"/>
<rect x="236.2" y="82.16" width="6.5" height="2.76" fill="#00ff26"/>
<rect x="236.2" y="84.78" width="6.5" height="2.76" fill="#00ff40"/>
<rect x="236.2" y="87.39" width="6.5" height="2.76" fill="#00ff59"/>
<rect x="236.2" y="90.00" width="6.5" height="2.76" fill="#00ff73"/>
<rect x="236.2" y="92.61" width="6.5" height="2.76" fill="#00ff8c"/>
<rect x="236.2" y="95.23" width="6.5" height="2.76" fill="#00ffa6"/>
<rect x="236.2" y="97.84" width="6.5" height="2.76" fill="#00ffbf"/>
<rect x="236.2" y="100.45" width="6.5" height="2.76" fill="#00ffd9"/>
<rect x="236.2" y="103.06" width="6.5" height="2.76" fill="#00fff2"/>
<rect x="236.2" y="105.68" width="6.5" height="2.76" fill="#00f2ff"/>
<rect x="236.2" y="108.29" width="6.5" height="2.76" fill="#00d9ff"/>
<rect x="236.2" y="110.90" width="6.5" height="2.76" fill="#00bfff"/>
<rect x="236.2" y="113.51" width="6.5" height="2.76" fill="#00a6ff"/>
<rect x="236.2" y="116.12" width="6.5" height="2.76" fill="#008cff"/>
<rect x="236.2" y="118.74" width="6.5" height="2.76" fill="#0073ff"/>
<rect x="236.2" y="121.35" width="6.5" height="2.76" fill="#0059ff"/>
<rect x="236.2" y="123.96" width="6.5" height="2.76" fill="#0040ff"/>
<rect x="236.2" y="126.58" width="6.5" height="2.76" fill="#0026ff"/>
<rect x="236.2" y="129.19" width="6.5" height="2.76" fill="#000dff"/>
<g font-family="Liberation Sans, Arial, sans-serif" font-size="4.6" fill="#333">
<text x="263.5" y="24.1" text-anchor="end" font-size="4.7">Vel Mag</text>
<text x="246.6" y="31.9">11.6462</text>
<text x="246.6" y="51.4">8.5169</text>
<text x="246.6" y="72.0">6.3877</text>
<text x="246.6" y="92.5">4.2584</text>
<text x="246.6" y="112.1">2.1292</text>
<text x="246.6" y="132.5">0</text>
</g>
<!-- panel b -->
<clipPath id="cpb"><rect x="316.6" y="5" width="200.4" height="129.4"/></clipPath>
<g clip-path="url(#cpb)">
<rect x="315.6" y="4" width="202.4" height="131.4" fill="#000fff"/>
<g stroke="#000" stroke-opacity="0.7" stroke-width="0.42" stroke-linejoin="round">
<path fill="#002eff" d="M355.1,2 475.5,2 475.4,28.5 474.4,35.5 473.6,39 471.6,50.1 470.6,59.5 470.8,77.5 470.7,83.5 471.6,120.5 471.1,137 440.3,137 439.6,134 438.1,129.1 433.7,120 430.8,113.5 430.4,112 429.5,105.5 429.8,100 429.6,98.9 427.1,94.2 424.1,89.2 422.6,87.1 420.3,84.5 418.5,83.5 417.6,83.3 416.7,83.5 414.5,85 410.1,89.4 407.6,92.5 406.1,94.8 403.3,100.5 400.6,105.3 397.1,117.4 396.1,122.3 395.7,126 396,137 362.9,137 364.1,118 364.4,110 364.3,103.5 365.8,91.5 367.1,83.9 367.9,74.5 367.6,68.3 367.1,66.1 365.3,63 365.1,62 365.5,57 366.2,51.5 366.1,49.7 363.1,42.8 360.6,38 359.8,37 356.7,34.5 356.1,33.5 356,33 356.2,32 357.6,28.3 357.7,27.5 357.1,19.6 356.6,18.2 353.3,13 353,12 353.4,10 354.6,5.9 354.9,4 354.9,2Z"/>
<path fill="#004dff" d="M355.6,2 475,2 474.9,29 474,35 473.1,39 471.1,50.3 470.1,60 470.4,96 470.9,104 471.2,120.5 470.7,137 440.7,137 439.6,132.3 438.1,127.8 434.7,121 431.4,113.5 430.9,112 430,105.5 430.3,100 430.1,98.9 427.1,93.3 423.1,86.9 421.1,84.5 418.6,83 417.6,82.7 416.6,83 414.1,84.7 409.8,89 406.6,93 404.6,96.6 402.8,100.5 400.1,105.2 396.6,117.5 395.6,122.4 395.2,126 395.5,137 363.4,137 364.5,118.5 364.8,110 364.7,103.5 366.3,91 367.8,82 368.4,74.5 368.1,68.6 367.8,66.5 365.8,63 365.5,62 366,56.5 366.7,51.5 366.6,49.7 363.6,42.7 360.6,37.2 357.1,34.2 356.6,33.5 356.5,33 356.7,32 358.1,28.3 358.2,27.5 357.6,19.8 357.1,18.1 353.8,13 353.5,12 353.9,10 355.2,5.5 355.3,2Z"/>
<path fill="#006cff" d="M356.1,2 474.7,2 474.7,28.5 473.9,34.5 472.9,38.5 470.6,51.8 469.8,60.5 470.1,96.4 470.6,104 470.7,115.5 470.9,120.5 470.4,137 441,137 440.1,133.1 438.6,128.3 434.8,120.5 431.3,112.5 430.8,110.5 430.3,106 430.3,104 430.6,100 430.2,98.5 427.6,93.6 424.6,88.6 423.1,86.5 420.9,84 418.1,82.5 417.6,82.4 416.1,83 413.9,84.5 409.6,88.8 406.6,92.5 405.1,95 402.5,100.5 399.6,105.5 396.1,118.3 395.1,123.7 395,126 395.2,137 363.7,137 364.7,121 365.1,110.5 365,103.5 365.6,99.5 366.4,92.5 368.1,82.1 368.7,75 368.6,72.3 368.1,66.5 366.4,63.5 365.8,62 366.3,56 367.1,51.1 367,50 364.1,43.1 361.1,37.4 360.1,36.2 357.3,34 356.9,33 358.5,27.5 357.8,19.5 357.6,18.5 357.1,17.5 354.5,13.5 353.8,12 353.9,11 355.6,5 355.6,2Z"/>
<path fill="#008bff" d="M356.1,2 474.5,2 474.4,29 473.7,34 472.6,38.9 470.6,50.2 469.6,60 469.9,96.5 470.4,104 470.5,115.5 470.7,120.5 470.1,137 441.2,137 440.1,132.3 438.7,128 435.3,121 431.4,112 430.5,105.5 430.8,100 430.6,98.8 425.1,89 422.6,85.5 421.1,83.9 418.6,82.5 417.6,82.2 416.5,82.5 414.1,84 409.6,88.5 406.3,92.5 404.5,95.5 402.2,100.5 399.6,105 396,118 394.9,123.5 394.7,126 394.9,137 363.9,137 365,119 365.3,110 365.2,103.5 366.1,97.7 366.8,91 368.3,82 368.9,74.5 368.6,68.3 368.5,67 368.2,66 366.4,63 366.1,62 366.5,56.5 367.3,51.5 367.3,50.5 367.1,49.6 364.1,42.6 361.1,37 360.2,36 357.7,34 357.1,33 357.3,32 358.6,28.5 358.7,27.5 358.1,19.6 357.6,18 354.4,13 354.1,12 354.3,10.5 355.7,5.5 355.8,2Z"/>
<path fill="#00aaff" d="M356.1,2 474.3,2 474.2,18 474.3,28.5 473.4,34.5 472.5,38.5 470.4,50 469.4,60 469.6,77.5 469.5,83 469.7,88.5 469.7,96.5 470.2,104.5 470.2,115.5 470.5,120.5 469.9,137 441.4,137 440.5,133 439.1,128.5 435.3,120.5 431.6,112 430.7,105.5 431,100 430.7,98.5 425.1,88.6 423.1,85.8 421.1,83.6 418.6,82.3 417.6,82 416.2,82.5 413.8,84 409.3,88.5 406.1,92.5 404.1,95.9 402,100.5 399.4,105 395.6,118.6 394.7,123.5 394.5,126 394.7,137 364.1,137 364.7,130 365.2,119 365.5,110 365.4,103.5 366.1,99 366.9,91.5 368.6,82 369.1,74.5 368.8,68 368.4,66 366.6,63 366.3,62 366.7,56.5 367.5,51 367.3,49.5 364.1,42.1 361.3,37 360.5,36 358,34 357.4,33 357.5,32 358.6,29 358.9,27.5 358.3,19.5 357.6,17.5 354.7,13 354.3,12 354.5,10.5 356,5Z"/>
<path fill="#00c9ff" d="M356.6,2 474.2,2 474,18 474.1,29 473.3,34.5 472.3,38.5 470.2,50.5 469.2,60.5 469.5,77.5 469.3,83 469.5,88.5 469.5,96.5 470,104 470,115.5 470.3,120.5 469.8,137 441.6,137 440.6,132.7 439.1,128 435.5,120.5 431.8,112 431.4,110 430.9,105.5 431.2,100 430.9,98.5 425.1,88.2 423.1,85.5 421.2,83.5 418.6,82.1 417.6,81.8 416.1,82.3 413.6,84 409.1,88.5 406.1,92.2 404.1,95.5 402,100 399.1,105 395.6,118 394.5,123.5 394.4,126 394.5,137 364.3,137 364.9,129.5 365.4,119 365.4,114.5 365.7,110 365.6,103.5 366.3,99 367.2,91 368.7,82.5 368.9,78 369.3,74.5 369.2,72.5 368.8,66.5 366.8,63 366.5,62 366.9,56.5 367.7,51.5 367.6,50 364.6,42.7 361.5,37 360.6,35.8 358.1,33.8 357.6,33 357.7,32 359,28.5 359.1,27.5 358.5,19.5 357.8,17.5 354.9,13 354.5,12 354.7,10.5 356.1,5.5 356.2,2Z"/>
<path fill="#00e8ff" d="M356.6,2 474,2 473.8,18 473.9,29 473.1,34.4 472.1,38.5 470,50.5 469,60 469,68.5 469.3,77.5 469.1,83 469.4,88.5 469.3,96.5 469.8,104 469.9,115.5 470.1,120.5 469.6,137 441.7,137 440.7,132.5 439.3,128 435.9,121 431.9,112 431.5,110 431.1,105.5 431.4,100 431.1,98.5 425.2,88 423.3,85.5 421.5,83.5 418.6,81.9 417.6,81.6 416.6,81.9 413.6,83.7 408.8,88.5 406,92 404.1,95.1 401.8,100 398.9,105 395.4,118 394.3,123.5 394.2,126 394.3,137 364.4,137 365,129.5 365.6,119 365.6,114.5 365.8,110 365.7,104 366.6,98 367.3,91 369,82 369.1,78 369.5,74 369.2,68 368.8,66 367,63 366.7,62 367,56.5 367.9,51.5 367.9,50.5 367.7,49.5 364.7,42.5 361.6,36.8 360.6,35.6 358.1,33.5 357.8,33 357.9,32 359.2,28.5 359.3,27.5 358.7,19.5 358,17.5 355.1,13 354.7,12 354.8,10.5 356.3,5.5 356.4,2Z"/>
<path fill="#00fff7" d="M356.6,2 473.9,2 473.6,22 473.8,29 472.9,34.5 471.9,38.5 469.8,50.5 468.8,60 468.8,68.5 469.1,77.5 468.9,83 469.2,88.5 469.1,96.5 469.7,104 469.7,116 470,121 469.6,126.5 469.6,133.1 469.4,137 441.9,137 440.8,132 439.3,127.5 436.1,120.9 432.1,111.9 431.6,109.2 431.3,105.5 431.6,100 431.3,98.5 425.4,88 423.2,85 422.1,83.8 421.1,83 418.6,81.7 417.6,81.4 416.6,81.7 413.6,83.5 408.6,88.5 405.8,92 403.4,96 401.6,100.1 398.9,104.5 395.3,117.5 394.2,123 394,125.5 394.2,132.5 394.1,137 364.6,137 365.2,129.5 365.8,119 365.7,114.5 366,110 365.8,104 366.8,98 367.5,91 369.1,82 369.3,78 369.6,74 369.3,68 369,66 367.3,63 366.9,62 367.2,56.5 368.1,51.5 368.1,50.5 367.9,49.5 364.9,42.5 361.6,36.5 360.6,35.3 358.4,33.5 358,33 358.1,32.1 359.4,28.5 359.5,27.5 358.8,19.5 358.2,17.5 355.1,12.6 354.8,11.5 356.5,5.5Z"/>
<path fill="#00ffd8" d="M357.1,2 473.7,2 473.5,22 473.6,29 472.7,34.5 471.7,38.5 469.5,51 468.6,60.5 468.9,77.5 468.7,83 469,88.5 468.8,96.5 469.5,104.5 469.5,116 469.8,121 469.4,127 469.4,133 469.2,137 442.1,137 441.3,133 439.7,128 433.6,115 432.2,111.5 431.4,105.5 431.8,100 431.5,98.5 425.3,87.5 423.8,85.5 421.6,83.1 418.6,81.5 417.6,81.2 416.1,81.8 413.3,83.5 408.6,88.2 405.5,92 403.4,95.5 401.1,100.5 398.7,104.5 395,118 393.9,123.5 393.9,137 364.8,137 365,134 365.5,129.5 365.9,119 365.9,114.5 366.2,110 366,104 366.9,98.5 367.6,91.5 369.3,82 369.4,78 369.8,74 369.5,68 369.2,66 367.2,62.5 367,61.5 367.4,56 368.3,51.5 368.3,50.5 368,49.5 364.9,42 361.9,36.5 361.1,35.5 358.7,33.5 358.3,33 358.4,32 359.4,29 359.7,27.5 359,19.5 358.4,17.5 355.3,12.5 355,11.5 356.7,5.5 356.7,2Z"/>
<path fill="#00ffb9" d="M357.1,2 473.6,2 473.3,22 473.5,29 472.6,34.4 471.5,38.5 469.4,50.5 468.3,60 468.4,68.5 468.7,77.5 468.5,83 468.8,88.5 468.6,96.5 469.3,104 469.2,116 469.6,121 469.2,126.5 469.2,133.5 468.9,137 442.3,137 441.4,132.5 439.8,127.5 432.6,112 432.1,110 431.7,105.5 432,100 431.7,98.5 425.5,87.5 424,85.5 422.6,83.8 421.6,82.9 418.6,81.3 417.6,81 416.6,81.3 414.1,82.7 413.1,83.4 408.5,88 405.2,92 402.9,96 401.1,100.2 398.4,104.5 394.9,117.5 393.7,123 393.6,125.5 393.8,132.5 393.7,137 365.1,137 365.1,134.5 365.7,129.5 366.2,119 366.1,114.5 366.4,110 366.1,104 367.1,98 367.9,91 369.5,82.5 369.6,78 370,74 369.7,68 369.4,66 367.6,62.7 367.3,61.5 367.6,56.3 368.5,51.5 368.5,50.5 368.3,49.5 365.4,42.5 362.1,36.5 361.4,35.5 359.1,33.5 358.6,32.9 358.6,32.2 359.8,28.5 359.9,27.5 359.3,19.5 358.6,17.5 357.2,15 355.6,12.5 355.3,11.5 355.6,9.9 356.9,5.5 356.9,2Z"/>
<path fill="#00ff9b" d="M357.6,2 473.5,2 473.2,22 473.3,29 472.4,34.5 471.3,38.5 470.6,43 469.2,50 468.1,60.5 468.1,68.5 468.5,77.5 468.2,83 468.5,88.5 468.3,96.5 469,104.5 469,116 469.3,121 468.9,127 468.9,133 468.6,137 442.6,137 441.4,131.5 439.9,127 434.1,114.9 432.6,111.2 431.9,105 432.2,100 432,98.5 425.7,87.5 424.3,85.5 422.6,83.5 421.6,82.7 418.6,81.1 417.6,80.8 416.1,81.3 413.1,83.1 408.2,88 405.3,91.5 402.9,95.5 400.6,100.6 398.2,104.5 394.4,118.5 393.4,123.5 393.5,132.5 393.3,137 365.4,137 365.5,134 366,129.5 366.4,119 366.3,114.5 366.5,110 366.3,104 367.3,98 368.1,90.7 369.7,82.5 369.8,78 370.2,74 370,68 369.6,66 367.8,62.5 367.5,61.5 367.8,56.5 368.7,51.5 368.7,50.5 368.5,49.5 365.4,42 362.4,36.5 361.6,35.4 359.1,33 359,32.5 359.9,29 360.1,27.5 359.5,19.5 358.9,17.5 355.9,12.5 355.6,11.5 357.1,5.5 357.1,2Z"/>
<path fill="#00ff7c" d="M357.6,2 473.3,2 473.3,12.5 473,22 473.1,29 472.1,34.7 471,38.5 468.8,50.5 467.7,60 467.7,68.5 468.2,77.5 467.9,83 468.2,88.5 467.9,96.5 468.7,104 468.6,116.5 468.9,121 468.5,127 468.4,133 468.1,137 443,137 442,132 440.3,127 438.1,122.6 433.1,111.6 432.6,109.2 432.3,105 432.5,100 432.3,98.5 426,87.5 424.2,85 422.1,82.8 418.6,80.9 417.6,80.6 416.6,80.8 413.1,82.8 408.1,87.8 405,91.5 402.8,95 400.6,100 397.8,104.5 396.6,109.3 394.2,117.5 392.9,123.5 393,132.5 392.8,137 366.4,137 366.1,136.4 365.9,134.5 366.5,129.5 366.8,119 366.6,115 366.8,110 366.5,104 367.4,99 368.1,92 370,82.5 370,78 370.5,74 370.2,68 369.9,66 368.2,62.5 367.9,61.5 368.1,56.5 369,52 368.9,50 365.5,41.5 362.5,36 359.8,32.5 359.9,31 360.5,27.5 359.9,19.5 359.3,17.5 356.4,12.5 356.1,11.5 356.3,10 357.5,5.5 357.5,2Z"/>
<path fill="#00ff5d" d="M358.1,2 473.2,2 473.1,13 472.8,22 472.9,29 472,34 470.8,38 468.3,50.5 467.2,60 467.1,68.5 467.5,77.5 467.2,83 467.5,88.5 467.2,96.5 468,104.5 467.9,116.5 468.2,121.5 468,124 467.3,128 467,133.5 466.7,135 466.3,135.5 465.6,135.8 464.6,135.9 447.1,136.2 445.6,136.2 444.6,135.7 444,134.5 443.3,132 442.3,130 441.3,127 438.6,122 433.6,111 433.1,108.2 432.8,105 432.9,99.5 432.4,98 426.3,87.5 424.9,85.5 422.1,82.5 418.6,80.6 417.6,80.3 416.1,80.7 413.1,82.4 407.5,88 403.8,92.5 401.9,96 400.1,100 397.5,104 396.1,109.2 393.3,118 392,123 391.3,134 391.1,135 390.7,135.5 389.1,135.7 369.6,134.5 368.1,134.3 367.5,134 367.2,133 367.6,129 367.6,125.5 367.3,122.5 367.3,118.5 366.9,114.5 367,110 366.8,104 367.7,98.5 368.6,90.9 370.3,82.5 370.3,78 370.7,74 370.4,66.5 368.7,62.5 368.4,61 368.5,56.5 369.3,52.5 369.3,50.5 368.9,49 366.4,42.5 362.9,35.5 361.9,34 360.9,31 360.8,30 361.1,28.5 361.1,27 360.3,19 359.9,17.5 357.3,12.5 356.9,11 357,9.5 357.9,5.5 357.9,2Z"/>
<path fill="#00ff3e" d="M358.6,2 473,2 472.9,13 472.6,22 472.7,29 471.6,34.4 470.5,38 467.7,50.5 466.2,60.5 466,68.5 466.4,78 466,84 466.4,89 466.1,96.5 466.9,104.5 466.7,117 466.9,121.5 466.5,124.5 465.7,126.5 465.1,129 464.7,132.5 464.1,133.4 462.6,133.7 448.1,133.9 447.1,133.8 446.1,133 445.5,132 445,130.5 443.6,128.6 442.6,126 440.2,122.5 434.9,111 434.2,108.5 433.7,105 433.5,99.5 433,98 426.4,87 425.3,85.5 422.1,82.2 418.6,80.2 417.6,79.9 416.6,80.1 412.6,82.3 407.8,87 404.3,91 401.8,95 399.6,99.7 397.1,103.5 395.1,109.6 390.3,122.5 389.2,127.5 388.9,132 388.5,133 387.6,133.3 386.1,133.3 371.1,132.4 369.6,132 369.2,131 369.5,128 369.3,125 368.5,122 368.2,119 367.4,114.5 367.1,105.5 367.1,104 367.8,100 368.8,92 370.7,82 370.6,78 371.1,73.5 370.8,67 370.6,65.5 369.4,62.5 369.1,61 369,58.5 369.1,56 369.7,52.5 369.8,50.5 367.5,43.5 363.2,34 362.1,30.5 362.1,28 361.5,21.5 361,18 358.4,12 358,10 358.7,5.5Z"/>
<path fill="#00ff1f" d="M359.6,2 472.8,2 472.8,13.5 472.4,22 472.5,29 471.5,33.5 468.2,45 466.9,50.5 465,62 464.9,69 465.1,78 464.8,84 465.1,89 465,97.5 465.6,104.5 465.5,121.5 465.2,123.5 464,125.5 463.1,127.5 462.6,130.4 462.1,131.2 460.6,131.5 449.1,131.5 448.1,131 447.3,130 446.6,128.7 445.1,127.6 443.8,125 441.4,122 438,115 436.1,110.5 435.5,108.5 434.8,105 434.3,99.5 433.6,98 430.1,92 426.9,87 425.3,85 422.1,81.9 418.6,79.8 417.6,79.5 416.6,79.7 413.1,81.5 412.1,82.2 407.6,86.5 403.6,91 402.9,92 399.1,99.1 396.1,104 394.5,108.5 392.1,114.5 391,116.5 387.1,126 386.8,127 386.6,129.7 386.3,130.5 385.6,131 384.1,131 373.1,130.3 372.1,130.2 371.6,129.8 371.3,129 371.4,127 370.9,124 369.8,121.5 369.2,118.5 368,114.5 367.5,106.5 367.6,103.5 368.6,96 371,82 371,78 371.4,73 371.2,67 371.1,65.5 370.4,63.5 370,61.5 369.7,57.5 369.8,55.5 370.3,52.5 370.2,50.5 368.7,45 365.6,37 363.4,30.5 363.3,28 361.8,17.5 359.5,11.5 359.1,10 359.5,5.5 359.4,2Z"/>
<path fill="#00ff00" d="M360.6,2 472.7,2 472.6,14 472.2,22 472.3,29 471.1,33.5 467.1,46 465.4,53.5 463.8,62.5 463.7,65 463.8,78.5 463.5,84.5 463.8,89 463.8,97.5 464.3,104 464.4,108.5 464.4,114 464.2,117 464.1,121.5 463.8,123 461,126.5 460.4,128.5 460.1,128.9 458.6,129.3 451.1,129.3 449.6,128.6 448.1,127 446.9,126.5 446.3,126 445.1,124 442.6,121.4 439.2,114.5 436.4,107.5 435.7,104.5 435.3,101 434.8,99 430.8,92 427,86.5 424.8,84 421.6,81.2 418.6,79.4 417.6,79 417.1,79 416.1,79.4 412.6,81.2 411.6,82 407.6,85.7 402.8,91 395.8,103 393.5,108.5 391,114 389.7,116 387.6,120.2 384.6,125.5 384.1,128 383.6,128.5 382.1,128.7 375.1,128.2 374.1,128.1 373.6,127.6 373.3,125.5 372.6,123.5 371.1,121 368.8,114.5 367.9,107 368,104 368.8,97 371.5,81.5 371.5,77.5 371.8,72 371.6,65.5 371,63 370.5,58 370.5,56 370.9,52.5 370.8,51 369.4,45 366.5,36.5 364.7,30.5 362.7,17 360.3,10 360.2,2Z"/>
<path fill="#1fff00" d="M361.1,2 472.5,2 472.4,13.5 472.1,22 472.1,29 471.6,31 468.8,39.5 466.5,45.5 464.5,53.5 463.1,60 462.6,63.4 462.5,78.5 462.3,84.5 462.6,89 462.6,97.5 463,104 463.2,114 462.7,121 462.5,122 462.1,122.5 459.2,125 458.1,126.7 457.1,127.1 454.1,127.1 452.6,127 451.6,126.6 450.1,125.7 448.1,124.9 447.6,124.5 446.3,123 443.6,120.5 440.8,115 437.9,108 436.8,104.5 436.1,101 435.5,99 431.5,92 427.1,86 425.6,84.3 421.6,80.8 418.6,79 417.6,78.6 417.1,78.6 416.1,79 411.5,81.5 407.6,85 402.5,90.5 395.1,102.9 392.5,108.5 389.8,113.5 388.4,115.5 385.7,120 382.5,124 381.6,126 380.6,126.3 377.6,126.2 376.2,126 375.6,125.5 374.1,122.5 372.2,120 369.7,115 369.2,113.5 368.3,108.5 368.3,106.5 369.2,97 370.4,91.5 371.8,81.5 372.2,72 372.1,65.5 371.2,57 371.4,52 370.1,45 368.4,39.5 366,30.5 364.2,20.5 363.6,16.5 361.4,9.5 361,4.5Z"/>
<path fill="#3eff00" d="M362.1,2 472.3,2 472.3,14 471.9,22 471.8,29 471.3,31 468.3,39.5 466.1,45 463.6,54.3 462.1,60.8 461.6,64 461.3,85 462.2,114 461.6,120.5 461.1,121.5 460.6,122 456.1,124.7 455.1,124.9 454.1,124.9 449.1,123.5 444.8,120 443.8,118.5 441.9,115 438.7,107.5 437.8,105 436.6,100.5 436.1,99 431.6,91.3 425.8,84 421.6,80.3 418.6,78.6 417.6,78.2 416.2,78.5 411.5,81 407.1,84.9 402.3,90 399.4,95 395.1,101.8 392,108 389.9,111.5 384.2,119.5 382.6,121.2 379.6,123.6 379.1,123.9 378.1,123.9 376.6,122.9 373.2,119.5 370.9,116 369.9,114 368.9,110 368.6,107.5 369.4,97.5 370.7,92 371.3,87 372.2,81.5 372.6,71.5 372.4,65.5 371.7,56.5 371.8,52 370.6,45 368.9,39 365,20.5 364.4,16.5 362.2,9 361.8,6.5 361.6,4 361.6,2Z"/>
<path fill="#5dff00" d="M362.1,2 472.1,2 472.1,14.5 471.7,22 471.6,29 468.3,38.5 465.6,45.3 463.1,54.5 461.6,60.7 461.1,63.9 460.8,75 460.9,80.5 460.8,85.5 461.7,114 461,120 460.6,120.9 460.1,121.4 456.1,123.6 455.1,123.9 454.1,123.9 449.6,122.8 448.6,122.2 445.2,119.5 443.3,116.5 441.8,113.5 438.4,105 436.6,99.3 432.1,91.4 426.1,83.9 421.6,80 418.6,78.2 417.6,77.8 416.5,78 412.5,80 411.1,80.9 406.9,84.5 402.1,89.7 399,95 395.1,101 389.9,110.5 383.8,119 382.9,120 380.1,122 379.1,122.4 378.1,122.4 376.6,121.8 373.9,119.5 371.7,116.5 370.3,114 369.3,110 368.9,107.5 369.7,97 371.1,91.6 371.7,86.5 372.5,81.5 372.9,71.5 372.6,61 372.2,56.5 372.2,52 371.1,45.3 369.4,39 367.6,29.7 365.5,20.5 365,16.5 362.5,7.5 362.1,4.5Z"/>
<path fill="#7cff00" d="M362.6,2 471.9,2 471.7,7 471.9,14.5 471.5,22 471.4,29 467.8,39 466.1,43 465.1,45.9 461.6,59.2 460.9,63 460.4,74.5 460.6,81 460.4,86 461.3,114 460.6,120 460.4,120.5 459.6,121.3 456.1,123.1 455.1,123.4 454.1,123.4 449.6,122.3 445.6,119.4 444.3,117.5 442.4,114 438.8,105 437.6,101 436.6,98.6 432.1,90.8 426.1,83.5 422.1,80 418.6,77.9 417.6,77.5 417.1,77.5 416.1,77.9 411.1,80.5 406.6,84.4 401.8,89.5 398.9,94.5 394.6,101.3 389.7,110 383.4,119 382.6,119.8 380.1,121.6 379.1,121.9 378.1,121.9 376.6,121.2 374,119 371.8,116 370.7,114 369.7,110.5 369.2,107.5 369.9,97.5 371.4,91.5 371.9,87 372.8,81.5 373.2,71.5 372.9,61 372.5,56 372.5,52 371.3,45 369.8,39.5 368.1,30.1 365.8,20.5 365.3,16 362.8,7.5 362.4,5 362.3,2.5 362.3,2Z"/>
<path fill="#9bff00" d="M362.6,2 471.6,2 471.5,7 471.7,15 471.3,22 471.2,29 467.7,38.5 465.1,45 462.6,54 460.6,62.8 460.1,74.5 460.3,81 460.1,86 460.6,105.5 461,113.5 460.4,119.5 460.1,120.2 459.6,120.8 456.1,122.8 455.1,123.1 454.1,123.1 450.6,122.3 449.6,121.9 445.7,119 443.7,116 442.5,113.5 438.9,104.5 437.1,99 432.5,91 427.6,84.8 426.1,83.2 422.1,79.6 418.6,77.6 417.6,77.2 416.3,77.5 412.1,79.5 410.6,80.5 406.5,84 401.6,89.4 398.3,95 394.6,100.7 389.4,110 382.5,119.5 380.1,121.2 378.6,121.6 377.1,121.2 374.3,119 372.5,116.5 371,114 369.8,110 369.4,107.5 370.1,97.5 371.6,91.5 372.2,86.5 373,81.5 373.4,71.5 372.8,52 371.6,44.9 370,39 368.6,31 366.3,21 365.6,16.1 363,7 362.7,5Z"/>
<path fill="#b9ff00" d="M363.1,2 471.4,2 471.3,7 471.5,15 471.1,22 470.9,29 467.3,39 464.7,45.5 462.4,54 460.4,62.5 460.1,66.5 459.8,75.5 460.1,81 459.9,86.5 460.4,105.5 460.8,113.5 460.1,119.5 459.6,120.4 459.1,120.9 455.6,122.7 454.1,122.8 450.1,121.9 446,119 444.3,116.5 442.8,113.5 439.4,105 438.1,101 437.1,98.5 432.6,90.7 427.6,84.4 426.1,82.8 422.4,79.5 418.6,77.3 417.6,76.9 416.1,77.3 411.6,79.5 410.6,80.2 406.1,84 401.6,89 400.6,90.5 398.3,94.5 394.1,101.1 389.4,109.5 382.2,119.5 379.6,121.2 378.1,121.3 377.4,121 375.1,119.4 374.2,118.5 372.4,116 371.1,113.5 370,109.5 369.7,107.5 370.3,97.5 372,91 372.4,87 373.2,81.5 373.7,71.5 373,52 371.9,45 370.4,39.5 368.8,30.5 366.4,20.5 365.9,16 363.3,7 362.8,2.5 362.8,2Z"/>
<path fill="#d8ff00" d="M363.1,2 471.2,2 471.3,15.5 470.9,21.5 470.7,29 464.4,45.5 460.9,59 460.1,63.4 459.7,70 459.6,76 459.9,81 459.7,86.5 460.1,105.5 460.5,113.5 459.9,119 459.6,120 459.1,120.5 455.6,122.4 454.1,122.5 450.1,121.6 446.1,118.7 444.6,116.5 443,113.5 439.4,104.5 437.6,99 432.7,90.5 427.5,84 425.6,82 422.6,79.4 418.6,77 417.6,76.7 416.6,76.9 411.6,79.2 410.6,79.9 406.1,83.7 401.3,89 397.8,95 394.1,100.6 390.3,107.5 388.4,110.5 382.1,119.4 380.1,120.7 378.6,121.1 377.6,120.8 375.1,119.1 374.5,118.5 372.4,115.5 371.3,113.5 370.3,109.5 369.9,107 370.6,97.5 372.2,91 372.6,87 373.5,81.5 373.9,71.5 373.2,52 372.1,45 370.5,39 369.8,35.5 369,30.5 366.8,21 366.1,16 363.5,7 363,3Z"/>
<path fill="#f7ff00" d="M363.6,2 471,2 470.9,7 471,15.5 470.7,21.5 470.7,26.5 470.5,29 464.2,45.5 461.9,54 460,62.5 459.4,69.5 459.3,75.5 459.7,81 459.5,88 459.8,97 459.9,105.5 460.3,113.5 459.6,119 459.1,120.1 455.6,122.1 454.1,122.2 450.1,121.3 446.2,118.5 444.5,116 443,113 439.6,104.2 437.6,98.5 433,90.5 427.6,83.7 425.9,82 422.6,79 418.6,76.8 417.6,76.4 416.6,76.6 411.6,78.9 410.6,79.6 405.9,83.5 401.1,88.9 396.6,96.4 393.9,100.5 388.1,110.5 382.1,119.1 381.1,119.9 379.6,120.6 378.6,120.8 377.6,120.5 374.8,118.5 372.6,115.5 371.6,113.5 370.5,109.5 370.1,107 370.8,97 372.4,91 372.8,87 373.7,81.5 374.2,71 373.5,52 372.2,44.5 370.2,36.5 369.3,30.5 367,21 366.4,16 363.8,7 363.2,2Z"/>
<path fill="#ffe800" d="M363.6,2 470.8,2 470.8,16 470.4,21.5 470.4,26.5 470.2,29 464,45.5 460.4,59 459.8,62.5 459.2,69.5 459,76 459.5,81 459.2,88.5 459.6,97 459.6,106 460.1,113.5 459.4,119 459.1,119.7 458.6,120.2 455.6,121.8 454.1,122 451.6,121.5 450.1,121 446.6,118.5 444.6,115.7 443.1,112.7 437.9,98.5 432.9,90 427.6,83.3 423.6,79.5 422.1,78.4 418.6,76.5 417.6,76.2 416.6,76.4 410.6,79.2 405.6,83.4 401.1,88.5 399.8,90.5 396.6,96 393.9,100 387.8,110.5 381.9,119 379.6,120.4 378.6,120.6 378.1,120.4 375.1,118.5 372.9,115.5 371.9,113.5 370.7,109 370.4,107 371,97 372.7,91 373.1,87 373.9,81.5 374.4,71 373.7,52 372.5,44.5 370.5,36.5 369.5,30.5 367.6,22.5 366.6,16 364,7 363.4,2.5 363.4,2Z"/>
<path fill="#ffc900" d="M364.1,2 470.5,2 470.4,7 470.6,15.5 470.2,21.5 470.1,28.5 469.6,30.2 467.8,34.5 463.7,45.5 460.2,59 459.7,61.5 459.3,64.5 458.9,69.5 458.8,76 459.3,81 459,88.5 459.3,97 459.4,106 459.8,113.5 459.1,119 458.4,120 455.6,121.5 454.6,121.7 453.6,121.6 450.6,120.9 446.6,118.2 444.6,115.2 443.1,112.1 438.1,98.5 434.4,92 432.8,89.5 427.6,83 423.6,79.1 422.6,78.4 418.6,76.2 417.6,75.9 416.6,76.1 411.6,78.3 410.1,79.3 405.6,83 400.8,88.5 396.1,96.4 393.3,100.5 387.5,110.5 381.6,119 379.6,120.1 378.6,120.3 375.6,118.7 375.1,118.2 373.1,115.3 372.1,113.4 371.1,109.8 370.6,107 371.2,97.5 371.6,95.5 372.9,91 374.2,81 374.7,71 373.9,52 372.7,44.5 370.6,36.1 369.8,30.5 367.6,21.2 366.9,16 364.2,6.5 363.6,2ZM381.7,106.5 381.2,107 381.2,107.5 381.4,108 382.1,108.3 382.6,108.1 382.9,107.5 382.9,107 382.5,106.5ZM449.2,108 449,109 449.3,109.5 449.6,109.8 450.1,109.9 450.6,109.6 450.9,109 450.9,108.5 450.6,107.8 450.1,107.5 449.6,107.6Z"/>
<path fill="#ffaa00" d="M364.1,2 470.2,2 470.3,16 469.7,29 467.5,34.5 463.5,45.5 459.9,59 459.3,62 458.7,69 458.5,76 459.1,81.5 458.7,89 459.1,97 459.1,106.5 459.5,113.5 458.9,118.5 458.6,119.3 458.1,119.8 455.1,121.4 453.6,121.4 451.6,121 450.3,120.5 446.6,117.8 444.6,114.7 443.1,111.6 438.4,98.5 433.5,90 428,83 423.9,79 423.1,78.3 418.6,75.9 417.6,75.6 416.6,75.8 414.2,77 411.1,78.2 410.1,78.9 405.2,83 400.9,88 399.5,90 395.6,96.7 393.3,100 387.1,110.7 384.3,114.5 381.6,118.7 381.1,119.1 379.6,119.8 378.6,119.9 375.8,118.5 375.3,118 373.5,115.5 372.4,113.5 371.6,110.6 370.9,107 371.5,97 373.2,91 374.5,81.5 375,71 374.2,52 373,44.5 371.1,37 370,30 368.1,22.3 367.2,16 364.6,7.1 363.9,2.5 363.9,2ZM381,105.5 380.4,106 380.1,107 380.3,108 380.5,108.5 381.6,109.2 382.1,109.3 383.1,109 383.6,108.5 384.1,107.5 384,106.5 383.8,106 383.3,105.5 382.6,105.2 381.6,105.2ZM448.8,106.5 448.1,107.5 448,108.5 448.1,109.5 448.6,110.4 449.1,110.8 449.6,111 450.6,111 451.3,110.5 451.9,109.5 452,108.5 451.8,107.5 451.2,106.5 450.6,106.2 449.6,106.1Z"/>
<path fill="#ff8b00" d="M364.6,2 469.9,2 470,16 469.5,28.5 469.1,30 467.4,34 463.9,43.5 462.9,46.5 459.3,60.5 458.4,68 458.2,76.5 458.8,81.5 458.4,89.5 458.8,97.5 458.8,106.5 459.2,113.5 458.6,118.3 458.4,119 457.9,119.5 455.1,121 453.3,121 450.6,120.3 447.6,118.3 446.8,117.5 444.6,114.2 443.1,111 441.9,107 438.7,98.5 433.8,90 428,82.5 424.1,78.6 423.1,77.9 419.1,75.7 417.6,75.2 416.6,75.4 410.6,78.1 405.6,82.1 403.8,84 399.4,89.5 395.6,96.1 392.9,100 387.1,110.2 383.9,114.5 381.4,118.5 380.6,119 379.1,119.5 378.6,119.5 375.6,118 373.6,115.1 372.6,113 371.2,107 371.8,97.5 372.1,95.8 373.5,91 374.7,82 374.9,79.5 375.3,71 374.5,52 373.4,44.5 371.1,35.5 370.4,30 368.6,23.2 367.5,15.5 365,7.5 364.2,2ZM380.7,104.5 379.9,105 379.3,106 379.1,107 379.3,108 379.9,109 380.6,109.6 381.6,110.1 382.6,110 383.6,109.5 384.5,108.5 384.9,107 384.8,106 384.2,105 383.1,104.4 382.1,104.2ZM449.9,105 448.6,105.4 447.8,106 447.3,107 447,108.5 447.3,110 447.8,111 448.6,111.7 450.1,112.1 451.1,111.8 452.2,111 452.8,110 452.9,108.5 452.6,107.1 452.1,105.9 451.1,105.1Z"/>
<path fill="#ff6c00" d="M365.1,2 469.6,2 469.5,7.5 469.6,16.5 469.1,28.5 462.8,45.5 459.4,58.5 458.7,62 458,69 457.8,76 458.5,81.5 458.1,89.5 458.5,98 458.4,106.5 458.8,113.5 458.1,118.4 457.2,119.5 455.1,120.6 454.1,120.7 452.7,120.5 450.6,119.8 447.1,117.3 445.1,114.4 443.6,111.5 441.8,105.5 440.6,102.6 439.2,98.5 435.3,91.5 433.3,88.5 428.2,82 424.6,78.3 423.1,77.2 418.6,74.8 417.6,74.5 416.6,74.8 414.2,76 411.1,77.2 410.1,77.8 405.1,81.8 403.5,83.5 399.8,88 398.7,89.5 395.1,95.9 392.2,100 388.6,107 386.6,110.4 383.4,114.5 381.1,118.2 380.6,118.6 379.1,119 376.2,118 375.7,117.5 374.1,115.1 373.1,113.1 372.1,109.3 371.7,106.5 372.2,98 372.6,95.7 373.9,91 375,83.5 375.4,79 375.7,70.5 375,52 373.9,44.5 371.6,35.5 370.9,30 369.1,23.2 368,15.5 365.6,7.8 364.7,2ZM380.9,103.5 379.6,104.1 378.7,105 378.3,106.5 378.3,107.5 378.9,109 379.6,109.8 381.1,110.7 382.1,110.8 384,110 384.9,109 385.5,107.5 385.5,106 385.1,104.8 384.1,103.9 382.6,103.3ZM449.4,104 448.1,104.4 446.9,105.5 446.3,107 446.2,108.5 446.7,110.5 447.6,112 449.1,112.8 450.6,112.8 452.1,112.4 452.9,111.5 453.5,110 453.6,108.5 453,106 452.1,104.5 451.1,104Z"/>
<path fill="#ff4d00" d="M366.1,2 469.1,2 468.9,8 469.1,17 468.6,28.5 462.3,45.5 458.4,60.5 458.1,62 457.5,69 457.4,76 458,82 457.6,89.5 458.1,98 457.9,106.5 458.3,114 457.6,118 456.6,119.3 454.6,120.2 452.7,120 451.1,119.5 447.6,117 445.6,114.3 444.1,111.6 443.1,108.9 442.4,104.5 441.8,102.5 442.1,101.6 442.2,102 443.1,102.1 445.1,100.4 445.7,99.5 445.6,99 444.8,97.5 444.6,96.5 444.7,93 444.5,92 442.6,88.5 441.3,84.5 440.6,83.2 437.9,81 435.7,78.5 434.6,77.6 434.1,77.4 433.1,77.6 429.2,79 428.6,79.8 428.1,79.9 427.1,79 426.1,77.5 425.1,76.6 419.1,73.4 417.6,72.9 416.6,73.1 410.1,76.2 405.6,79.6 403.6,81.5 400.2,85.5 398.3,87.5 397.3,89 393.6,95.5 391,99.5 389,104 388.1,106.9 385.1,111.8 382,115 380.8,117.5 380.1,118.1 379.1,118.2 377.6,118 376.4,117.5 374.6,114.5 373.6,112.3 372.8,109 372.5,106.5 373.1,98.2 374.9,90 375.9,82.5 376.5,67.5 376.3,62 376.4,58.5 376.1,55 376.1,51.5 375,45 373.6,40 371.8,30 370,22.5 369.3,16.5 368.8,14.5 367.1,10.4 366.6,8.2 365.9,2ZM381.2,102.5 379.6,103.1 378.4,104 377.7,105.5 377.5,107 377.9,108.5 378.8,110 380.6,111.3 382.1,111.5 383.1,111.3 384.1,110.7 385.5,109.5 386.2,108 386.3,106.5 385.9,104.5 384.6,103 383.1,102.4ZM448.1,103 447.1,103.6 446.2,104.5 445.4,106 445.2,108 446,111 446.8,112.5 448.1,113.4 450.1,113.8 452.1,113.5 453.1,112.8 454,111 454.3,109 453.6,105.5 452.6,103.7 451.6,103 450.1,102.6ZM441.1,97 441.8,97 442.5,97.5 443.2,99 442.9,100.5 442.1,101.5 441.6,101.2 441.4,100.5 440.9,97.5Z"/>
<path fill="#ff2e00" d="M379.1,2.5 379.5,2 468.5,2 468.2,8 468.3,19 467.8,28.5 461.8,45 460.4,50 459.1,55.6 457.6,60.5 457.3,62 456.9,68.5 456.8,76 457.3,82.5 457,89.5 457.1,93.5 457.5,98.5 456.9,108.5 457.3,110 457.5,114 457,117.5 456.6,118.3 455.9,119 455.1,119.4 454.1,119.6 451.7,119 448.8,117 448.3,116.5 447.7,115.5 447.6,115 448.1,114.7 450.1,115 451.1,114.9 452.6,114.5 453.6,114 454.4,113 455,111.5 455.1,110 455.6,108.5 455.5,107 455.2,106 454.3,104.5 452.6,102.2 451.1,101.3 449.1,100.8 448.5,100.5 448.8,99 448,96.5 447.9,93 447.2,89.5 443.3,82 441,79 439.8,77 438.6,76 434.1,73.1 433.1,72.9 430.1,73 425.6,71.8 423.1,71.8 420.1,71.3 417.1,71.1 409.6,72 407.8,72.5 406.1,73.5 404.6,75.3 402.6,77.1 400.9,79 399.2,81.5 396.8,84 394.8,87.5 392.1,90.9 390.2,97 389.4,98.5 387.5,101 387.1,102.5 386.6,102.9 384.6,101.5 382.6,101.2 379.6,101.9 378.5,102.5 377.4,103.5 376.8,104.5 376.3,106.5 376.4,107.5 376.9,109 377.4,110 378.6,111.3 381.3,113 380.2,114.5 379.6,116.8 379.1,117 378.1,117 377.4,116.5 375.6,113.6 374.6,111.2 374.1,108.8 374,107 374.5,99.5 375.8,91.5 377.2,86 378.3,76.5 377.9,71.5 378.5,67 378.4,62 378.6,58.5 378.4,55.5 378.7,51.5 378.1,44.5 377.4,39.5 377,32.5 376,21 375.9,15.5 374.9,7.5 375,6 375.3,5 375.8,4.5Z"/>
<path fill="#ff0f00" d="M408.1,2 467.6,2 467.2,8 467.3,19.5 466.7,28.5 465.1,33.5 463.8,36.5 462.6,40.4 461.3,43.5 459.9,48 458.1,55.8 456.3,61.5 455.9,77.5 456.3,83.5 456.1,93.5 456.5,98.5 456.1,102.1 455.6,102.9 455.1,102.6 452.3,99.5 451.5,98 451.4,94 450.8,90.5 451.2,88 450.9,87 450.1,85.8 448.2,84 447.4,82.5 445.5,80 444.6,78.3 443.5,75 442.6,73.7 441.6,72.9 438.1,71.7 435.6,69.3 431.6,68.2 426.1,67.2 425.1,67.4 422.6,68.3 417.6,69.6 413.1,69.5 410.1,70 404.1,70.5 401.6,70.3 393.2,69 389.1,66.7 386.1,66.7 385.6,66.3 383.6,63.5 381.9,62 381.7,61 383.1,56.6 384.1,54.9 385.8,53 386.2,52 387.2,44.5 387.6,43 388.3,41.5 390.6,38.5 390.8,37.5 390.7,35 391,34 392.8,31 393.6,29 394.1,28 395.6,26.6 398.1,25 398.9,24 399.4,22.5 399.4,19.5 399.6,18.5 400.2,17.5 402.3,15 403,12.5 403.6,11.4 404.4,10.5 406.1,9.4 406.9,8.5 407.3,7.5 407.9,2ZM379.1,89.9 379.6,89.6 380.6,89.6 382.1,90.2 384.1,92.1 384.8,93.5 384.7,95 384.1,96.3 382.3,99 381.1,99.6 380.1,99.5 379.6,99.3 378.6,98.5 377.6,97 377.1,95.5 376.9,94 377.3,92.5 378.1,90.9ZM455.6,114.9 455.8,115 456.1,115.5 456.1,116 456,117 455.6,118 454.8,118.5 454.1,118.6 452.7,118 452.6,117.5 454.6,116Z"/>
</g>
<path d="M363.0,1.0 362.7,2.5 363.5,4.4 363.5,6.6 364.3,8.3 364.3,10.4 365.5,11.0 365.2,13.3 365.3,14.6 366.0,15.7 366.2,17.0 366.5,18.5 367.9,21.6 367.8,22.8 368.1,24.8 368.4,26.4 368.0,27.8 368.5,28.9 368.5,31.2 369.8,32.1 370.4,34.9 369.8,35.8 370.4,38.0 370.6,38.8 371.3,40.0 371.7,42.9 372.0,44.0" fill="none" stroke="#000" stroke-width="1.6" stroke-linejoin="round" stroke-linecap="round"/>
<path d="M372.0,44.0 372.4,45.2 372.5,47.2 373.5,49.5 373.4,50.1 373.2,51.9 374.2,53.8 373.6,55.0 374.1,57.1 373.8,58.7 374.7,60.3 374.8,62.6 374.0,64.1 373.9,65.0 373.9,66.6 374.2,68.7 374.3,70.7 372.6,72.1 373.1,73.7 373.4,75.4 374.4,76.2 373.8,78.6 372.7,80.6 373.5,81.8 372.9,85.1 372.8,84.5 372.3,86.8 372.3,88.6 371.8,90.6 371.8,91.4 371.3,93.4 371.8,95.4 370.9,96.8 370.9,99.3 370.2,100.2 370.7,101.3 370.3,103.6 369.9,105.5 370.5,107.5 370.3,108.7 371.8,109.8 371.2,112.3 371.6,113.8 372.3,115.1 373.6,115.9 373.8,117.2 374.3,118.5 375.3,119.8 377.9,121.3 379.1,121.1 380.3,120.3 380.7,120.6 381.4,119.3 383.1,117.9 383.5,116.9 384.5,116.0 386.2,113.6 386.3,112.9 386.7,111.4 388.0,110.7 388.0,109.4 389.7,108.0 389.8,107.9 391.5,105.2 391.0,104.8 391.8,103.2 392.8,102.3 392.7,99.7 394.0,99.9 395.3,97.3 396.4,97.1 396.9,95.4 398.0,94.7 398.7,93.1 399.4,91.4 399.8,90.4 400.9,88.9 402.4,88.1 403.4,86.1 404.3,85.4 404.6,84.2 406.5,83.9 407.1,81.9 408.8,81.0 410.9,79.5 410.7,78.9 413.0,78.3 414.8,78.4 415.8,76.5 416.7,76.1 419.3,76.6 420.8,77.5 422.3,78.4 422.5,78.7 423.4,79.3 425.4,81.6 427.3,82.4 427.4,83.0 429.1,85.1 429.5,86.6 431.1,86.8 432.3,89.1 432.6,90.1 434.4,92.3 435.2,92.4 434.9,94.6 435.5,95.2 435.8,97.7 437.7,98.5 438.0,99.4 438.3,101.3 438.7,103.1 439.3,103.6 440.6,105.4 440.7,106.8 440.1,108.7 441.1,110.5 441.7,110.7 443.1,113.2 443.8,113.8 444.9,115.1 445.0,116.8 445.8,118.9 447.0,119.8 449.0,119.7 449.5,121.3 451.4,122.0 452.5,122.5 455.3,122.4 455.9,121.7 457.8,121.1 459.5,120.3 459.6,119.1 459.0,116.5 460.5,114.8 460.8,113.5 460.5,111.9 460.1,110.7 460.2,108.8 461.1,107.3 459.6,106.1 460.4,104.6 460.7,101.8 460.4,101.0 459.8,98.9 458.4,96.7 460.5,94.4 459.4,93.6 459.8,92.5 458.7,90.0 459.9,87.7 459.5,87.5 460.1,85.2 458.3,83.3 459.7,81.5 459.5,81.4 459.4,77.9 459.6,76.5 459.4,75.0 459.9,73.5 459.1,71.7 459.9,69.9 460.3,68.8 459.4,67.0 460.8,66.0 459.9,64.0 459.7,61.3 460.6,60.5 461.0,58.8 461.3,57.0 461.8,56.0 462.0,54.4 461.6,52.1 463.5,51.8 463.4,49.5 463.1,48.2 464.4,45.8 464.8,45.2 465.3,42.9 465.9,41.1 467.0,40.3 466.4,39.2 468.0,36.7 469.1,34.9 468.8,34.3 468.3,32.7 469.9,30.6 470.0,29.1 470.1,27.1 470.5,25.4 471.5,23.9 470.5,22.9 470.9,21.9 471.4,19.9 470.8,18.3 471.4,17.0 470.8,14.1 472.0,13.8 471.1,11.8 470.8,9.5 470.9,8.1 470.7,5.7 470.9,4.9 470.8,2.8 471.0,1.0" fill="none" stroke="#000" stroke-width="2.5" stroke-linejoin="round" stroke-linecap="round"/>
<path d="M471.0,3.0 470.5,4.8 470.8,6.6 470.9,8.3 470.9,9.4 471.0,11.5 471.2,13.2 470.9,15.3 471.3,16.9 471.3,18.6 471.2,20.4 471.1,21.9 471.0,24.3 471.0,25.2 471.0,27.0" fill="none" stroke="#000" stroke-width="4.0" stroke-linejoin="round" stroke-linecap="round"/>
</g>
<path d="M316.6,5V134.4H517" fill="none" stroke="#000" stroke-width="1"/>
<path d="M322.4,134.4v-1.6M327.3,134.4v-1.6M332.2,134.4v-1.6M337.1,134.4v-3.2M342.0,134.4v-1.6M346.9,134.4v-1.6M351.8,134.4v-1.6M356.7,134.4v-1.6M361.6,134.4v-3.2M366.5,134.4v-1.6M371.4,134.4v-1.6M376.3,134.4v-1.6M381.2,134.4v-1.6M386.1,134.4v-3.2M391.0,134.4v-1.6M395.9,134.4v-1.6M400.8,134.4v-1.6M405.7,134.4v-1.6M410.6,134.4v-3.2M415.5,134.4v-1.6M420.4,134.4v-1.6M425.3,134.4v-1.6M430.2,134.4v-1.6M435.1,134.4v-3.2M440.0,134.4v-1.6M444.9,134.4v-1.6M449.8,134.4v-1.6M454.7,134.4v-1.6M459.6,134.4v-3.2M464.5,134.4v-1.6M469.4,134.4v-1.6M474.3,134.4v-1.6M479.2,134.4v-1.6M484.1,134.4v-3.2M489.0,134.4v-1.6M493.9,134.4v-1.6M498.8,134.4v-1.6M503.7,134.4v-1.6M508.6,134.4v-3.2M513.5,134.4v-1.6M316.6,129.4h1.8M316.6,124.4h1.8M316.6,119.3h1.8M316.6,114.3h1.8M316.6,109.2h3.6M316.6,104.1h1.8M316.6,99.1h1.8M316.6,94.0h1.8M316.6,89.0h1.8M316.6,83.9h3.6M316.6,78.8h1.8M316.6,73.8h1.8M316.6,68.7h1.8M316.6,63.7h1.8M316.6,58.6h3.6M316.6,53.5h1.8M316.6,48.5h1.8M316.6,43.4h1.8M316.6,38.4h1.8M316.6,33.3h3.6M316.6,28.2h1.8M316.6,23.2h1.8M316.6,18.1h1.8M316.6,13.1h1.8M316.6,8.0h3.6" stroke="#000" stroke-width="0.8" fill="none"/>
<g font-family="Liberation Sans, Arial, sans-serif" font-size="7.5" fill="#111">
<text x="336.3" y="142.3" text-anchor="middle">−150</text>
<text x="360.8" y="142.3" text-anchor="middle">−100</text>
<text x="385.3" y="142.3" text-anchor="middle">−50</text>
<text x="410.6" y="142.3" text-anchor="middle">0</text>
<text x="435.1" y="142.3" text-anchor="middle">50</text>
<text x="459.6" y="142.3" text-anchor="middle">100</text>
<text x="484.1" y="142.3" text-anchor="middle">150</text>
<text x="508.6" y="142.3" text-anchor="middle">200</text>
<text x="314.0" y="136.9" text-anchor="end">0</text>
<text x="314.0" y="111.6" text-anchor="end">50</text>
<text x="314.0" y="86.3" text-anchor="end">100</text>
<text x="314.0" y="61.0" text-anchor="end">150</text>
<text x="314.0" y="35.7" text-anchor="end">200</text>
<text x="314.0" y="10.4" text-anchor="end">250</text>
</g>
<g font-family="Liberation Serif, Times New Roman, serif" fill="#111">
<text transform="translate(419.5,152.6) scale(1,1.06)" font-size="10.0" text-anchor="middle">Window width /mm</text>
<text transform="translate(298.6,76.5) rotate(-90) scale(1,1.0)" font-size="10.7" text-anchor="middle">Window height /mm</text>
<text x="285.2" y="12.5" font-size="11.1">(b)</text>
</g>
<rect x="518.1" y="22.1" width="28.5" height="112.3" fill="#fff" stroke="#777" stroke-width="0.6"/>
<rect x="519" y="28.50" width="6.3" height="2.73" fill="#ff0d00"/>
<rect x="519" y="31.08" width="6.3" height="2.73" fill="#ff2600"/>
<rect x="519" y="33.66" width="6.3" height="2.73" fill="#ff4000"/>
<rect x="519" y="36.25" width="6.3" height="2.73" fill="#ff5900"/>
<rect x="519" y="38.83" width="6.3" height="2.73" fill="#ff7300"/>
<rect x="519" y="41.41" width="6.3" height="2.73" fill="#ff8c00"/>
<rect x="519" y="44.00" width="6.3" height="2.73" fill="#ffa600"/>
<rect x="519" y="46.58" width="6.3" height="2.73" fill="#ffbf00"/>
<rect x="519" y="49.16" width="6.3" height="2.73" fill="#ffd900"/>
<rect x="519" y="51.74" width="6.3" height="2.73" fill="#fff200"/>
<rect x="519" y="54.33" width="6.3" height="2.73" fill="#f2ff00"/>
<rect x="519" y="56.91" width="6.3" height="2.73" fill="#d9ff00"/>
<rect x="519" y="59.49" width="6.3" height="2.73" fill="#bfff00"/>
<rect x="519" y="62.07" width="6.3" height="2.73" fill="#a6ff00"/>
<rect x="519" y="64.66" width="6.3" height="2.73" fill="#8cff00"/>
<rect x="519" y="67.24" width="6.3" height="2.73" fill="#73ff00"/>
<rect x="519" y="69.82" width="6.3" height="2.73" fill="#59ff00"/>
<rect x="519" y="72.40" width="6.3" height="2.73" fill="#40ff00"/>
<rect x="519" y="74.99" width="6.3" height="2.73" fill="#26ff00"/>
<rect x="519" y="77.57" width="6.3" height="2.73" fill="#0dff00"/>
<rect x="519" y="80.15" width="6.3" height="2.73" fill="#00ff0d"/>
<rect x="519" y="82.73" width="6.3" height="2.73" fill="#00ff26"/>
<rect x="519" y="85.32" width="6.3" height="2.73" fill="#00ff40"/>
<rect x="519" y="87.90" width="6.3" height="2.73" fill="#00ff59"/>
<rect x="519" y="90.48" width="6.3" height="2.73" fill="#00ff73"/>
<rect x="519" y="93.06" width="6.3" height="2.73" fill="#00ff8c"/>
<rect x="519" y="95.65" width="6.3" height="2.73" fill="#00ffa6"/>
<rect x="519" y="98.23" width="6.3" height="2.73" fill="#00ffbf"/>
<rect x="519" y="100.81" width="6.3" height="2.73" fill="#00ffd9"/>
<rect x="519" y="103.39" width="6.3" height="2.73" fill="#00fff2"/>
<rect x="519" y="105.98" width="6.3" height="2.73" fill="#00f2ff"/>
<rect x="519" y="108.56" width="6.3" height="2.73" fill="#00d9ff"/>
<rect x="519" y="111.14" width="6.3" height="2.73" fill="#00bfff"/>
<rect x="519" y="113.72" width="6.3" height="2.73" fill="#00a6ff"/>
<rect x="519" y="116.31" width="6.3" height="2.73" fill="#008cff"/>
<rect x="519" y="118.89" width="6.3" height="2.73" fill="#0073ff"/>
<rect x="519" y="121.47" width="6.3" height="2.73" fill="#0059ff"/>
<rect x="519" y="124.05" width="6.3" height="2.73" fill="#0040ff"/>
<rect x="519" y="126.64" width="6.3" height="2.73" fill="#0026ff"/>
<rect x="519" y="129.22" width="6.3" height="2.73" fill="#000dff"/>
<g font-family="Liberation Sans, Arial, sans-serif" font-size="4.6" fill="#333">
<text x="546.0" y="25.7" text-anchor="end" font-size="4.7">Vel Mag</text>
<text x="529.4" y="33.1">11.918</text>
<text x="529.4" y="53.2">8.0942</text>
<text x="529.4" y="73.0">6.0707</text>
<text x="529.4" y="92.9">4.0471</text>
<text x="529.4" y="112.7">2.0236</text>
<text x="529.4" y="132.6">0</text>
</g>
<!-- panel c -->
<clipPath id="cpc"><rect x="36" y="167.6" width="198.6" height="130.4"/></clipPath>
<g clip-path="url(#cpc)">
<rect x="35" y="166.6" width="200.6" height="132.4" fill="#000fff"/>
<g stroke="#000" stroke-opacity="0.7" stroke-width="0.42" stroke-linejoin="round">
<path fill="#002eff" d="M50,164.6 237.5,164.6 237.5,213.1 235,216.1 233.5,218.3 230.7,225.1 229,228.5 227.7,233.1 225.5,238.8 223.8,245.1 219,257.4 216.5,267.8 215.4,276.6 215.3,279.6 215.8,288.6 215.8,296.1 215.4,300.6 176.6,300.6 170,288.7 165.7,282.1 162.5,276.6 161,274.5 157,270.1 153.4,266.6 150.5,263.4 148.9,262.1 143.4,259.6 140.9,259.1 138.5,258.9 136.9,259.1 132.4,260.6 127.4,264.1 122.5,269.5 117.5,276.5 117,277.6 117,278.1 117.4,278.6 122,282.6 123.5,284.6 124,284.9 125,285.1 129,285.2 130.3,285.6 130.6,286.1 130.6,287.1 130.6,294.6 129.9,296.6 129,297.7 127.5,298.4 125.5,298.8 112.4,300.1 109.4,300.6 74.1,300.6 73.3,296.6 72.8,291.1 71.8,286.1 70.5,276.4 70,276.1 69,275.9 68.5,275.6 65.7,272.6 64.5,271.1 60.9,265.1 59.8,262.6 57.7,256.6 55.9,249.6 55.8,247.1 55.9,243.6 56.7,236.6 57.8,232.6 60,227.5 60.5,226.9 64.5,224.1 64.8,223.6 64.8,223.1 64,219.8 61.2,211.1 59,199.3 57.7,194.6 56.5,188.6 55.1,184.6 52.7,176.1 51.5,170.1 50.1,166.6 49.9,164.6Z"/>
<path fill="#004dff" d="M51,164.6 237.5,164.6 237.5,211.6 234.5,215.2 233,217.3 232,219.4 229.7,225.1 228,228.4 226.8,232.6 224.5,238.5 223.2,243.6 218,257.1 215.3,268.6 214.3,277.1 214.2,279.6 214.7,288.1 214.7,296.1 214.3,300.6 179,300.6 176.2,296.6 171,287.5 167.2,281.6 163.5,275.5 162,273.5 157.5,268.5 154.5,265.6 151,261.9 149.9,261.1 145.4,259.1 143.9,258.6 138.5,257.7 136.5,258 131.5,259.3 129.4,260.6 125.5,263.4 121.5,268.1 116.7,275.1 110,284.1 109.8,284.6 110,285.1 112.5,283.4 114.5,283.3 116,283.4 117.4,284.1 119.9,286.1 121.4,289.1 121.4,290.1 120.3,293.1 119.6,294.1 119,294.5 116.5,295.9 115.5,296.2 113.5,296.4 111.5,296.1 109,294.7 108.3,294.1 106.5,290.5 106,290.8 105,292.5 101.5,299.7 101.3,300.6 75.3,300.6 74.3,295.1 74,290.8 72.1,281.1 71.2,273.1 71.1,264.1 70.7,261.1 70.1,251.1 69.7,248.1 69.5,244.3 69,241 68.7,240.1 68.5,238.4 68.1,237.1 68,233.9 67,226.9 65,219.2 62.2,210.1 60,198.3 58.7,193.6 57.5,187.7 55.7,182.6 53.9,176.1 53,171.4 52.5,169.6 51.3,166.6ZM62.5,229.1 64.5,228.7 65.5,229.1 66,230.1 66.7,233.6 67.5,235.6 67.9,236.1 68.9,247.1 69.1,252.1 69,259.8 69.8,266.1 69.6,269.6 69.5,270.1 69,270.7 68.5,270.6 68,270.2 66.5,268.7 65,266.3 60.2,255.6 59,252.1 58.2,248.1 58,243.6 58.6,237.6 60.8,231.1 61.5,229.9Z"/>
<path fill="#006cff" d="M51.5,164.6 237.5,164.6 237.5,211 237,211.4 234,215.2 232.5,217.4 229.3,225.1 227.5,228.6 226.7,231.6 224,238.8 222.6,244.1 217.5,257.5 214.9,268.6 214.4,274.1 213.9,277.1 213.9,279.6 214.4,288.1 214.3,296.1 214,300.6 180.6,300.6 180.3,300.1 178.5,298.6 177.1,296.6 171.5,287 163.5,274.4 157.6,267.6 151.5,261.6 150.1,260.6 145,258.4 142,257.7 138,257.2 131,258.7 126,262.1 124,264 120,269.1 116.2,275.1 109.5,283.5 108.2,286.1 105,291.4 102.2,297.6 101.5,298.7 100.8,300.6 75.7,300.6 74.7,295.6 74.3,290.6 72.4,280.6 71.6,272.1 71.6,264.6 70.9,258.1 70.6,250.6 69.9,244.1 67.5,227.1 65.5,219.6 62.8,210.6 60.5,198.8 58.8,192.6 58,188.1 56.3,183.1 54.3,176.1 53.1,170.1 51.6,166.1 51.4,164.6ZM62.5,232.6 63.5,232.4 64.5,232.8 66.3,235.6 66.8,237.1 67.1,241.6 67.7,246.1 68.2,254.6 67.6,259.6 67.3,260.1 66.5,260.5 66,260.5 65.3,260.1 62.6,254.6 60.5,248.7 59.9,246.1 59.7,243.6 60.5,238.1 61.8,233.6ZM113,287.5 114,287.5 115.5,288.2 116.4,289.1 117.1,290.6 117.1,291.6 116.3,293.1 115.2,294.1 114,294.6 112.5,294.2 111.6,293.6 111.1,292.6 110.7,291.1 110.8,290.1 111.3,288.6 112,288Z"/>
<path fill="#008bff" d="M52,164.6 237.5,164.6 237.5,210.5 237,210.8 234,214.7 232,217.6 229.2,224.6 227.1,228.6 226.3,232.1 223.9,238.1 222.3,244.1 217.4,257.1 214.6,268.6 214.2,273.6 213.6,277.1 213.6,279.1 214.1,288.1 214.1,296.1 213.7,300.6 182.2,300.6 181.5,299.8 179.5,298.5 178.5,297.4 164.4,274.6 162.9,272.6 158,267.1 151.6,261.1 150.1,260.1 145,258 142.5,257.4 138,256.7 131,258.2 125.3,262.1 124,263.3 119.5,269.2 116.2,274.6 109,283.7 107.8,286.1 105,290.8 102.2,297.1 101,299.2 100.5,300.6 76,300.6 75.1,296.1 74.5,290.1 72.6,280.6 71.9,271.6 71.9,264.6 71.3,259.1 71,251.6 70,242.6 68,228.2 66,220.4 62.8,209.6 61,199.9 59.2,193.1 58.5,189.1 54.6,176.1 53.5,170.6 51.9,166.1 51.7,164.6ZM64,235.1 65,235.8 65.5,236.5 65.6,237.1 65.9,241.6 66.6,246.1 66.6,249.6 67.1,254.1 67,255.2 66.5,255.6 66,255.2 64.5,252.6 62.2,247.1 61.5,244.6 61.5,243.6 63,236.1 63.5,235.2Z"/>
<path fill="#00aaff" d="M52,164.6 237.5,164.6 237.5,210 236.5,211 232,217.1 231.2,218.6 228.9,224.6 226.8,228.6 226.2,231.6 223.5,238.6 222.3,243.6 217.8,255.1 217,257.5 214.4,268.6 214,273.6 213.4,277.1 213.4,279.1 213.9,288.1 213.9,296.1 213.5,300.6 183.7,300.6 183,299.6 180,297.8 179,296.8 175.5,291.6 172.3,286.1 164.7,274.1 163.2,272.1 158,266.3 152,260.8 150.5,259.8 145.5,257.8 138.5,256.3 136.3,256.6 131,257.8 125.4,261.6 124,262.8 119.5,268.6 117.9,271.1 115.9,274.6 113.5,277.4 109,283.3 107.2,286.6 105,290.3 102.3,296.6 101,298.7 100.3,300.6 76.2,300.6 75.3,295.6 74.8,290.6 72.9,280.6 72.2,271.6 72.2,264.6 71.6,259.6 71.2,251.1 70.4,243.6 68.1,227.6 63,209.1 61,198.7 59.4,192.6 58.5,188.1 56.7,182.6 54.8,176.1 53.7,170.6 52.2,166.1Z"/>
<path fill="#00c9ff" d="M52.5,164.6 237.5,164.6 237.5,209.5 236.5,210.5 233.5,214.5 231.5,217.5 228.6,224.6 226.5,228.6 225.9,231.6 223.5,238.1 222,243.6 216.9,257.1 214.2,268.6 213.9,273.6 213.3,277.1 213.2,279.1 213.7,287.6 213.7,296.1 213.3,300.6 185.2,300.6 184.9,300.1 184,299.1 180.5,297 179.4,296.1 176,291.2 172.6,285.6 165,273.6 163.5,271.6 158,265.5 152,260.2 150.5,259.3 145.5,257.4 143,256.7 138.5,255.9 136.5,256.2 131,257.5 125,261.5 123.8,262.6 119,268.9 117.5,271.2 115.7,274.6 113.4,277.1 108.9,283.1 104.5,290.9 101.9,297.1 100.5,299.4 100.2,300.6 76.4,300.6 75.5,295.6 75,290.2 73.1,280.6 72.4,271.6 72.4,264.6 71.7,259.1 71.4,251.1 70.6,243.1 68.3,227.6 63.3,209.6 61.3,199.1 59.7,193.1 58.8,188.6 55,175.6 53.9,170.1 52.4,166.1 52.2,164.6Z"/>
<path fill="#00e8ff" d="M52.5,164.6 237.5,164.6 237.5,209.1 236.5,210.1 231.5,217.1 230.7,218.6 228.4,224.6 226.5,228.1 225.7,231.6 223.2,238.1 221.8,243.6 219.2,250.6 217.5,254.6 216.7,257.1 215.1,263.6 214.7,266.1 214,268.6 213.7,273.6 213.1,277.1 213,279.1 213.5,287.6 213.5,296.1 213.1,300.6 186.3,300.6 185.5,299.3 184.5,298.3 180.5,295.7 178.5,293.4 176,290 168.7,278.1 165.4,273.1 160,266.6 158.5,265.1 152.5,260 150.5,258.8 146.5,257.2 143.5,256.3 139,255.5 137,255.8 131,257.2 125,261.2 123.5,262.6 118.5,269.2 117.3,271.1 115.9,274.1 113.1,277.1 108.5,283.3 104.5,290.5 101.8,297.1 100.5,299 100,300.6 76.7,300.6 75.7,295.6 75.2,290.1 73.3,280.6 72.6,271.6 72.6,264.6 71.9,259.1 71.6,251.1 70.7,243.1 68.5,227.6 63.4,209.1 61.5,199.1 59.9,193.1 59,188.6 55.2,175.6 54.1,170.1 52.6,166.1Z"/>
<path fill="#00fff7" d="M53,164.6 237.5,164.6 237.5,208.6 236.5,209.6 231.2,217.1 227.9,225.1 226.2,228.1 225.5,231.6 223,238.2 221.6,243.6 218.8,251.1 217.1,255.1 216.5,257.1 215,263.3 214.6,266.1 213.8,268.6 213.6,273.6 212.9,277.1 212.9,279.1 213.4,287.6 213.3,296.1 213,300.6 186.8,300.6 186,299.1 183,295.3 178.5,291.2 177,289.6 174.5,286.1 169.3,277.6 166.3,273.1 164.8,271.1 159.6,265.1 154.5,260.8 151,258.3 144.5,255.4 143.5,255.1 141.5,255.1 138,255.3 131,256.9 130,257.4 124.7,261.1 123.6,262.1 118,269.6 117.1,271.1 115.7,274.1 113,276.9 108.5,283 104.5,290.2 101.9,296.6 100.5,298.7 99.9,300.6 76.9,300.6 75.9,295.1 75.5,290.6 73.4,280.6 72.8,271.6 72.7,264.6 72.1,259.6 71.8,251.1 70.9,243.1 68.7,227.6 63.6,209.1 61.7,199.1 60.1,193.1 59,187.9 55.4,175.6 54.2,169.6 52.7,165.6 52.6,164.6Z"/>
<path fill="#00ffd8" d="M53,164.6 237.5,164.6 237.5,208.1 236.5,209.1 230.9,217.1 227.6,225.1 225.9,228.1 225.3,231.6 222.8,238.1 221.4,243.6 216.4,256.6 214.9,263.1 214.4,266.1 213.7,268.6 213.4,271.1 213.4,273.6 212.8,277.1 212.7,279.1 213.2,287.6 213.2,296.1 212.8,300.6 187.1,300.6 181.5,291 176,284.3 172.8,279.6 169.8,274.6 167.3,271.1 162.2,265.1 159.5,262.3 157,260.1 154.1,257.6 151.9,256.1 149.7,255.1 145.5,254.1 138.5,254.8 131,256.6 130,257.1 123.7,261.6 118,269.1 117,270.8 115.5,274.1 113,276.6 108.5,282.7 104.4,290.1 101.8,296.6 100.4,298.6 99.7,300.6 77.1,300.6 76.1,295.6 75.5,290.1 73.6,280.6 72.9,271.1 72.9,264.6 72.3,259.6 72,251.6 71.1,243.1 68.9,227.6 63.8,209.1 61.9,199.1 60.2,193.1 59.2,188.1 55.6,175.6 54.5,170.1 53,165.6 52.8,164.6Z"/>
<path fill="#00ffb9" d="M53.5,164.6 237.5,164.6 237.5,207.6 236.5,208.7 230.7,217.1 227.2,225.6 225.7,228.1 225.1,231.6 222.6,238.1 221.3,243.1 216.3,256.6 214.7,263.1 214.3,266.1 213.5,268.6 213.3,271.1 213.3,273.6 212.6,277.1 212.6,279.1 212.9,282.1 213.1,287.6 213,296.1 212.7,300.6 187.4,300.6 187,299.6 185.1,296.6 181.5,289.1 174.2,279.1 171,273.4 169,270.6 167.5,268.6 161.8,262.1 158.8,259.1 153.1,255.6 150.8,254.6 146.6,253.6 145.5,253.5 139,254.4 131,256.4 130,256.8 123.5,261.5 117.8,269.1 116.8,270.6 115.5,273.9 112.7,276.6 108.4,282.6 104.2,290.1 101.7,296.6 100.3,298.6 99.6,300.6 77.3,300.6 76.3,295.1 75.8,290.6 73.8,280.6 73.1,271.1 73.1,264.6 72.5,259.6 72.2,251.6 71.3,243.1 69.1,227.6 64,209.1 62.1,199.1 60.4,193.1 59.3,187.6 55.8,175.6 54.6,169.6 53.2,165.6 53,164.6Z"/>
<path fill="#00ff9b" d="M53.5,164.6 237.5,164.6 237.5,207 236.5,208.1 230.4,217.1 227,225.6 225.4,228.1 224.9,231.6 222.4,238.1 221.1,243.1 218.4,250.6 216.7,254.6 216.1,256.6 214.5,263.1 214.1,266.1 213.3,268.6 213.1,271.1 213.2,273.6 212.5,277.1 212.4,279.1 212.7,282.1 212.9,287.6 212.9,296.1 212.5,300.6 187.6,300.6 185.2,296.1 181.8,288.6 180.1,286.6 174.7,279.1 173.2,276.6 171.5,273.3 168.5,269.1 163.7,263.6 162.2,261.6 159,258.4 153.4,255.1 150.9,254.1 145.5,253 139,254 130.5,256.3 123.5,261.1 117.5,269.1 116.6,270.6 115.5,273.7 112.5,276.5 108.2,282.6 104.1,290.1 101.6,296.6 100.2,298.6 99.4,300.6 77.4,300.6 76.5,295.1 76,290.6 74,280.6 73.3,271.1 73.3,264.6 72.7,259.6 72.4,251.6 71.4,243.1 69.2,227.1 64.2,209.1 62.1,198.6 60.6,193.1 59.3,187.1 55.9,175.1 54.8,169.6 53.4,165.6 53.3,164.6Z"/>
<path fill="#00ff7c" d="M53.5,164.6 237.5,164.6 237.5,206.5 236.5,207.6 230.1,217.1 226.7,225.6 225.4,227.6 224.6,231.6 222.2,238.1 220.9,243.1 216,256.1 214.3,263.1 214,266.1 213.1,268.6 212.9,271.1 213.1,273.6 212.3,277.1 212.3,279.1 212.6,282.1 212.8,287.6 212.7,296.1 212.4,300.6 187.8,300.6 187.4,299.6 185.7,296.6 182,288.2 180.2,286.1 174.7,278.6 173.2,276.1 172,273.6 169,269.2 163.7,263.1 162.8,261.6 161.5,260.1 159,257.8 153,254.4 150,253.4 145.5,252.6 139,253.6 130.5,256 124,260.4 123.1,261.1 117.2,269.1 116.4,270.6 115.4,273.6 112.5,276.2 108,282.6 104,290 101.5,296.6 100,298.6 99.3,300.6 77.6,300.6 76.7,295.1 76.1,290.1 74.1,280.6 73.4,271.1 73.5,265.1 72.8,259.6 72.6,251.6 71.6,243.1 69.4,227.1 64.4,209.1 62.3,198.6 60.8,193.1 59.5,187.1 56.1,175.1 55,169.6 53.6,165.6Z"/>
<path fill="#00ff5d" d="M54,164.6 237.5,164.6 237.5,205.7 229.8,217.1 226.5,225.6 225.1,227.6 224.4,231.6 222,238.1 220.7,243.1 215.8,256.1 214.1,263.1 213.8,266.1 213,268.6 212.8,271.1 212.9,273.6 212.2,277.1 212.1,279.1 212.4,281.6 212.6,287.1 212.6,296.1 212.2,300.6 188,300.6 185.7,296.1 182.4,288.1 180.5,286.1 175.4,279.1 173.8,276.6 172,273.1 169,268.6 164.2,263.1 163.3,261.6 161.5,259.4 159.5,257.5 155.5,255.1 153,253.9 150,253 145.5,252.2 139,253.3 130.5,255.6 129.5,256.2 127,258.1 124,260 123,260.8 117,269.1 116.2,270.6 115.2,273.6 112.3,276.1 107.8,282.6 103.8,290.1 101.4,296.6 100,298.4 99.2,300.6 77.8,300.6 76.9,295.1 76.3,290.1 74.3,280.6 73.6,270.6 73.6,265.1 73,260.1 72.7,251.6 69.5,227.1 64.5,208.6 62.5,198.6 60.9,193.1 59.5,186.6 56.3,175.1 55.1,169.1 53.9,165.6 53.7,164.6Z"/>
<path fill="#00ff3e" d="M54,164.6 230,164.6 230.3,189.6 230.9,200.1 231.2,200.6 232.5,201.1 237.5,201.3 237.5,204.1 236.8,206.1 234,210.6 229.5,217.1 226.5,225.1 224.9,227.6 224.6,230.1 224.1,232.1 221.8,238.1 220.6,242.6 219.5,246.1 215.6,256.1 214,263.1 213.7,266.1 212.8,268.6 212.6,271.1 212.8,273.6 212,277.1 212,279.1 212.3,281.6 212.5,287.1 212.4,296.1 212.1,300.6 188.2,300.6 185.7,295.6 182.8,288.1 180.5,285.7 175.3,278.6 173.7,276.1 172,272.6 169.3,268.6 165,263.6 161.7,259.1 159.5,257 155.5,254.6 153,253.4 151,252.8 145.5,251.7 139,252.8 135,254.1 130.5,255.2 129.5,255.7 127.1,257.6 123.5,259.9 122.7,260.6 118.3,266.6 116.7,269.1 115.9,270.6 115.5,272.6 115,273.6 112,276.1 107.7,282.6 103.9,289.6 101.3,296.6 100,298.2 99.1,300.6 78,300.6 77.1,295.1 76.4,290.1 74.5,280.6 73.7,270.1 73.8,265.1 73.2,260.1 72.9,251.6 69.7,227.1 64.7,208.6 62.7,198.6 61.1,193.1 60,187.6 56.5,175.1 55.4,169.6 54.1,165.6Z"/>
<path fill="#00ff1f" d="M54.5,164.6 222.7,164.6 223.1,177.1 223,190.1 224.1,199.1 224.7,206.6 226.5,215.1 226.9,215.6 227.6,215.6 228,215.1 228.4,206.1 228.6,204.6 229,203.6 230,203.1 231,203 236,202.8 236.5,203.1 236.7,204.6 236.3,206.1 234,210.1 229.4,216.6 228.5,219.3 226.2,225.1 224.6,227.6 224.4,230.1 223.9,232.1 221.8,237.6 220.4,242.6 219.1,246.6 216.1,254.1 215.5,256.1 213.8,263.1 213.5,266.1 212.6,268.6 212.5,271.1 212.7,273.6 211.9,277.1 211.8,279.1 212.2,281.6 212.4,287.1 212.3,296.1 211.9,300.6 188.4,300.6 185.9,295.6 183,287.8 181,285.9 177,280.6 174.5,277 172.3,272.6 169.5,268.4 165.4,263.6 162,259 159.5,256.6 155.5,254.1 153,252.8 147,251.3 145.5,251.2 138.5,252.3 134.5,253.6 130,254.7 129,255.3 126.1,257.6 124,258.9 122.5,260 116.6,268.6 115.9,270.1 115,273.4 114.5,273.9 112.7,275.1 112,275.8 107.5,282.6 103.8,289.6 101.2,296.6 99.9,298.1 98.9,300.6 78.2,300.6 76.6,290.1 74.6,280.6 74,271.1 74,265.1 73.4,260.1 73.1,251.6 69.9,227.1 64.9,208.6 62.9,198.6 61.3,193.1 60.1,187.6 56.7,175.1 55.3,168.1 54.2,165.1 54.1,164.6Z"/>
<path fill="#00ff00" d="M54.5,164.6 218.4,164.6 219,177.6 218.9,181.1 218.2,189.6 218.9,195.6 219.8,199.6 220.1,206.1 220.3,208.1 222.8,216.6 223.5,217 228,216.6 228.5,216.8 228.6,217.6 228.1,219.6 226,225 224.4,227.6 224.2,230.1 223.6,232.1 221.6,237.6 220.2,242.6 219,246.3 215.7,254.6 213.7,262.6 213.5,265.6 212.5,268.1 212.3,271.1 212.6,273.6 211.9,276.1 211.7,278.1 212.1,282.1 212.2,287.1 212.1,296.1 211.7,300.6 188.6,300.6 186,295.1 183.8,288.6 183.3,287.6 181,285.5 177,280.2 174.5,276.6 172.6,272.6 169.7,268.1 165.8,263.6 162.1,258.6 160,256.5 153.5,252.4 152,251.8 145.5,250.3 138,251 129,253.3 127.5,254.2 122,258.6 121.2,259.6 116.2,268.6 115.6,270.1 114.9,273.1 114.5,273.7 112.5,274.9 111.8,275.6 107.3,282.6 103.4,290.1 101.1,296.6 99.8,298.1 98.8,300.6 78.4,300.6 76.8,290.1 75.4,284.1 74.8,280.6 74.1,270.1 74.1,264.6 73.5,259.6 73.3,251.6 70.1,227.1 68.2,220.6 65.1,208.6 63.2,199.1 61.3,192.6 60.3,187.6 56.8,174.6 55.5,168.1 54.4,165.1 54.3,164.6ZM233,204.6 234.5,204.2 235.5,204.2 236,204.8 236,205.6 233,211 230,215.2 229.5,215.6 229.3,215.6 229,215.3 229,214.1 230.3,209.1 231,207.1 231.8,205.6Z"/>
<path fill="#1fff00" d="M55,164.6 215.7,164.6 215.7,168.6 216.2,174.1 216.2,179.1 215.6,187.6 215.6,191.1 217.2,199.6 217.6,209.1 219.5,215.6 221.1,224.6 221.5,225.4 222,225.6 223,225.6 223.5,225.1 224,219.6 224.3,218.6 224.6,218.1 225.6,217.6 227.5,217.2 228,217.4 228.2,218.1 228,219 226,224.3 225.5,225.4 224.3,227.1 223.9,230.1 223.5,231.8 221.3,237.6 220,242.6 218.7,246.6 215.5,254.6 213.5,262.6 213.3,265.6 212.4,268.1 212.1,271.1 212.5,273.6 211.6,276.6 211.5,278.6 212,282.1 212.1,287.1 212,296.1 211.6,300.6 188.8,300.6 186,294.6 184.1,288.6 183.7,287.6 183,286.8 181,285.1 176,278.4 174.5,276.1 172.9,272.6 170,268 166.3,263.6 162.5,258.7 160,256.1 153.5,251.7 147,249.5 145,249.2 138.5,249.2 136,249.4 128,251.2 127,251.6 125.5,252.6 121.5,256.1 120,258 117.9,262.6 115.3,270.1 114.7,273.1 114,273.8 112.5,274.6 111.5,275.6 107.4,282.1 103.3,290.1 101,296.6 99.7,298.1 98.6,300.6 78.6,300.6 77.1,290.6 75.6,284.1 75,280.6 74.3,270.1 74.3,264.6 73.7,259.6 73.5,251.6 72.7,247.1 72.4,243.1 71.8,240.1 71.1,233.1 70.2,227.1 68.3,220.6 65.3,208.6 63.4,199.1 61.5,192.6 60.4,187.1 57,174.6 55.7,168.1 54.6,165.1 54.6,164.6ZM232.5,209.5 232.7,209.6 232.5,210.3 231.5,212 230.5,213.2 230.5,212.6 231,211.5Z"/>
<path fill="#3eff00" d="M55,164.6 213.5,164.6 213.4,167.6 214,174.1 214,181.1 213.5,186.1 213.5,191.1 213.8,194.1 214.9,198.1 214.8,201.6 215.3,205.1 215.1,208.6 215.3,210.1 217.7,218.6 219.1,226.1 219.5,226.5 220,226.6 224.1,226.1 223.5,231.1 221.3,237.1 219.8,242.6 218.5,246.5 215.3,254.6 213.3,262.6 213.2,265.6 212.1,268.6 212,271.1 212.3,273.6 211.5,276.6 211.4,278.6 211.8,281.6 211.9,287.1 211.8,296.1 211.4,300.6 189,300.6 186,294.1 184.5,288.6 184,287.6 183.3,286.6 181,284.6 179.3,282.1 175.5,277.3 174.5,275.5 173.1,272.1 170.2,267.6 161,256.5 154,251.3 147.5,248.5 145,248 135.5,247.4 127,249.1 125.5,249.6 124,250.5 122.5,251.9 120,254.5 119,255.9 118.3,257.1 116.4,262.1 115.7,267.1 114.9,270.1 114.5,272.8 114,273.4 112.5,274.2 111.5,275.2 107.2,282.1 103.1,290.1 101,296.4 99.6,298.1 98.5,300.6 78.8,300.6 77.2,290.1 75.8,284.1 75.1,280.6 74.4,270.1 74.5,264.6 73.9,259.6 73.7,251.6 72.9,247.1 71.3,233.1 70.4,227.1 68.4,220.1 65.5,208.6 63.6,199.1 61.7,192.6 60.7,187.6 57.1,174.1 55.9,168.1 54.9,165.1 54.8,164.6ZM227,218 227.6,218.1 227.5,219.1 225.5,224.6 225,225.4 224.5,225.8 224.2,225.6 224.3,225.1 225,220.7 225.9,218.6Z"/>
<path fill="#5dff00" d="M55.5,164.6 212.4,164.6 212.3,166.6 212.8,173.6 212.9,179.6 212.3,183.6 212.3,186.6 212.7,194.1 213.6,198.1 213.4,202.1 213.9,209.1 217.6,225.6 218.1,231.1 218.5,233.6 219,235.1 219.5,234.9 219.6,234.6 220,229.1 220.2,228.1 220.5,227.7 221.6,227.1 223,226.9 223.4,227.1 223.5,227.5 223.5,229 223,231.7 221.2,236.6 219,244.4 214.9,255.1 213.2,262.6 213,265.6 211.9,268.6 211.8,271.1 212.2,273.6 211.4,276.1 211.2,278.6 211.7,281.6 211.8,287.1 211.7,296.1 211.3,300.6 189.3,300.6 187.3,296.6 186.1,293.6 184.9,288.6 184.4,287.6 183.5,286.3 181.5,284.6 179.5,281.5 177.8,279.6 177.4,278.6 176.5,277.9 175.5,276.6 174.9,275.6 173.7,272.1 172.5,270.1 171.3,268.6 170.5,267.3 166,261.6 164.5,260.1 161,256 154.5,250.7 148,247.6 146,247 141.5,246.2 135,245.4 126.5,246.8 124,247.7 122.5,248.5 121,249.9 119.8,251.1 118.3,253.1 117,255.6 115,261.6 114.8,263.6 114.9,267.1 114.1,272.6 113.7,273.1 112.5,273.7 110.8,275.6 107.2,281.6 103,290.1 101,296.2 99.4,298.1 98.3,300.6 79,300.6 77.3,290.1 75.8,283.6 75.3,280.6 74.6,270.1 74.6,264.6 74,259.6 73.8,251.6 73.1,247.1 72.7,243.1 72.1,239.6 71.5,233.1 70.6,227.1 70.1,225.1 68.5,219.9 65.6,208.1 63.8,199.1 61.8,192.6 60.7,187.1 57.4,174.1 56.2,168.1 55.1,165.1 55,164.6Z"/>
<path fill="#7cff00" d="M55.5,164.6 211.5,164.6 211.5,166.1 211.7,169.1 212,179.1 211.8,180.6 211.3,182.6 211.2,184.1 211.7,190.1 211.8,194.6 212.5,198.6 212.2,203.6 212.4,206.1 215.1,222.1 216.6,226.6 217.5,234.6 218,235.8 218.5,236.1 219.5,236.2 220,236 220.4,235.6 221,231.1 221.4,229.1 221.9,228.1 222.5,227.8 222.9,228.1 223,229.1 222.5,232.1 221.5,234.8 220.8,236.1 220.5,238 219,243.6 217,249.4 214.7,255.1 213,262.6 212.9,265.6 211.8,268.6 211.7,271.1 212.1,273.6 211.3,276.1 211.1,278.6 211.5,281.6 211.6,286.6 211.5,296.1 211.1,300.6 189.5,300.6 187.6,296.6 186.2,293.1 185.3,288.6 184.9,287.6 183.7,286.1 182,284.5 179.5,280.6 178.3,279.1 177.9,278.1 175.7,275.6 174,271.6 169.9,265.6 167.6,262.6 165,259.9 161.4,255.6 155.2,250.1 148.8,246.6 146.5,245.8 141.5,244.6 135,243.5 126,244.8 124.7,245.1 122,246.1 120.5,246.9 119.5,247.7 118.5,248.9 115.8,253.6 114.9,256.1 113.6,260.6 113.4,263.1 113.9,268.1 113.8,270.6 113.5,272.1 110.3,275.6 107.2,281.1 102.8,290.1 101,296.1 99.3,298.1 98.1,300.6 91.5,300.4 89.3,300.6 79.2,300.6 77.6,290.6 76,283.6 75.5,280.6 74.8,270.1 74.8,264.6 74.2,260.1 74,251.6 73.3,247.1 72.9,243.1 72.3,239.6 71.7,233.1 70.7,226.6 68.5,219.1 65.7,207.6 64,199.1 62,192.5 60.9,187.1 57.5,173.7 56.3,167.6 55.4,165.1 55.3,164.6Z"/>
<path fill="#9bff00" d="M56,164.6 210.6,164.6 210.5,166.1 210.8,169.6 210.7,174.6 211,179.1 210.2,182.1 210.1,183.6 210.8,190.6 210.9,195.1 211.4,198.6 210.9,204.6 211,206.6 212.2,211.6 212.5,215.6 213.2,218.6 213.5,222.1 215.5,227.7 216.6,236.1 217,236.6 217.5,236.9 220,236.9 220.2,237.6 219,242.6 218,245.9 214.7,254.6 212.8,262.6 212.7,265.6 211.8,267.6 211.6,268.6 211.5,271.1 211.9,273.6 211.1,276.1 210.9,278.6 211.4,282.1 211.5,286.6 211.4,295.6 211,300.6 190,300.6 188.9,299.1 186.4,293.1 186.1,291.6 185.7,288.6 185.4,287.6 182.3,284.1 178.9,279.1 178.5,278.1 176.3,275.1 174.5,271.5 168.5,262.6 159,252 157.5,250.5 156,249.4 149,245.5 141.5,243.5 135,242.4 125.5,243.5 121.4,244.6 120,245.2 119,245.9 117.8,247.1 116.8,248.6 114.8,252.1 113.9,254.1 112.4,260.6 112.3,263.1 112.8,267.6 112.8,271.1 112.5,272.1 109.4,276.1 107.2,280.1 105.5,284.2 102.7,290.1 100.8,296.1 100.5,296.7 99.5,297.6 98,300.4 97.7,300.6 96,300.6 94,300.3 91,300.2 87.8,300.6 79.4,300.6 77.7,290.1 76.2,283.6 75.7,280.6 74.9,270.1 75,264.6 74.4,260.1 74.2,251.6 73.4,247.1 73.1,243.1 72.5,240.1 71.9,233.1 70.9,226.6 68.6,219.1 65.9,207.6 64.2,199.1 62.1,192.1 61.2,187.6 57.8,174.1 56.7,168.1 55.5,164.6Z"/>
<path fill="#b9ff00" d="M56,164.6 209.1,164.6 209,166.6 209.3,170.1 209.3,174.6 209.6,179.1 209,183.1 208.9,187.1 209.7,191.6 209.7,195.6 210.1,199.1 209.5,206.6 210.5,211.6 210.5,215.1 211.7,219.6 212.3,224.1 213.8,231.1 216,240.1 216.5,241.1 217,241.3 217.6,241.1 217.9,240.6 218.5,238.9 219,238.1 219.2,238.6 218.5,243 217.5,246.5 214.3,255.1 213.5,259.1 212.6,262.6 212.5,265.6 211.6,267.6 211.4,268.6 211.3,271.1 211.8,273.6 211,276.1 210.8,278.1 211.3,282.1 211.4,286.6 211.2,295.6 210.8,300.6 190.9,300.6 190,300.1 189.5,299.6 189,298.7 186.5,292.6 186.2,288.6 185.8,287.6 182.5,283.6 180.5,280.6 178.8,277.6 176.4,274.1 174.9,271.1 172.4,267.6 169.1,262.1 159.5,251.1 157,248.9 151.5,245.7 149,244.5 140.5,242.2 135,241.5 130,242.1 125.5,242.3 120,243.4 119,243.9 118,244.8 115.2,248.1 112.6,253.1 112.1,254.6 111.9,258.1 111.2,261.6 111.7,267.1 111.6,271.6 111.4,272.6 110.8,273.6 108.7,276.1 107.5,278 106.5,279.1 105.5,283.2 102.3,290.6 100.9,295.6 100.5,296.5 99.3,297.6 98,300 97.5,300.5 97,300.6 94.1,300.1 91,300 88,300.3 86.6,300.6 79.6,300.6 77.8,289.6 75.9,281.1 75.1,269.6 75.2,264.6 74.6,260.1 74.4,251.6 72.7,240.1 72,233.1 71.1,226.6 68.8,219.1 66,207.3 64.4,199.1 62.4,192.6 61.3,187.1 58,173.8 56.8,167.6 55.9,165.1 55.8,164.6Z"/>
<path fill="#d8ff00" d="M56.5,164.6 207.3,164.6 207.1,167.6 207.5,170.6 207.6,175.1 208,179.6 207.3,184.6 207.1,188.1 207.2,189.1 208,191.8 208.2,193.6 208.4,200.1 207.9,207.1 208.4,211.1 208.3,215.1 210.3,221.1 210.4,222.6 210.5,226.1 211.6,231.6 214.8,241.1 216,243.2 217,244.1 217.2,245.1 217,246.6 216.5,248.2 214.1,254.6 213.5,258.1 212.3,262.6 212.3,265.6 211.4,267.6 211.2,268.6 211.2,271.1 211.6,273.6 210.8,276.1 210.6,278.1 211.1,282.1 211.2,286.6 211,296.1 210.6,300.6 192.8,300.6 190,299.7 189.5,299.1 186.8,292.6 186.6,288.6 186.3,287.6 184.3,285.1 180.6,279.6 175.7,271.1 173,267.1 171.4,264.1 169.8,261.6 167.4,258.6 162.9,253.6 160.5,250.7 158.5,248.8 155.5,246.8 152,244.8 149.5,243.6 146.5,242.6 141,241.2 134.5,240.4 130,240.6 125.5,240.5 119,241.6 118,242.1 116.7,243.1 113.5,246.4 110.8,252.1 110.2,254.1 110.1,258.1 109.7,261.6 110.1,266.6 109.8,273.1 109,274.6 107.5,276.3 106,277.1 105.2,278.1 105,279.6 104.9,283.1 104.5,284.8 102.2,290.6 100.6,296.1 99.1,297.6 98,299.8 97.5,300.2 97,300.3 94.5,300 91,299.9 87.2,300.1 85.5,300.6 79.9,300.6 78.2,290.6 76.5,283.4 76.1,280.6 75.3,269.6 75.4,264.6 74.8,260.1 74.6,251.6 73.8,247.1 73.4,243.1 72.9,240.1 72.2,233.1 71.3,226.6 69,219.1 68.2,215.1 66,206.3 64.6,199.1 62.5,192.2 61.7,188.1 58.5,174.6 57.2,167.6 56.2,164.6Z"/>
<path fill="#f7ff00" d="M57,164.6 189.7,164.6 189.5,168.6 190.9,173.6 192.3,180.6 192.8,187.1 192.7,191.1 193.1,196.1 193.5,197.6 194.6,199.6 195,200.6 195.1,206.6 195.8,209.1 197.3,212.6 197.5,216.1 198.9,222.6 199.7,224.6 202.3,228.6 203.1,230.1 203.9,234.6 205.3,238.6 208,243.1 210.5,248.6 211.5,250.4 212.5,251.3 213,251.3 213.4,250.6 213.7,249.1 214,248.7 215,248 215.5,248.4 215,250.6 214.2,252.6 213.7,254.6 213,259.1 212.2,262.1 212,263.6 212.1,265.6 211.2,267.6 211,268.6 211,271.1 211.5,273.6 210.6,276.1 210.4,278.1 210.5,279.1 211,282.1 211,286.6 210.8,290.1 210.9,295.6 210.5,300.6 194.8,300.6 191,299.7 190,299.2 188.7,295.6 187,292.1 187,288.6 186.8,287.6 184.8,285.1 183.9,283.1 182.5,281.1 176,269.5 174,266.6 172.3,263.1 168.6,258.1 161.2,249.6 159,247.7 152,243.3 147,241.2 135,238.9 125.5,237.9 123.5,238.1 116,240 111.5,242.4 110.4,243.6 109.6,246.6 108.4,250.1 107.4,256.1 107.8,260.6 107.8,266.6 107.7,270.6 107.8,274.1 107.5,274.6 107,274.9 106,275.1 105,275.7 104.5,276.1 104,277.1 103.7,279.6 103.8,285.1 101.8,291.1 100.5,296.1 99,297.6 97.9,299.6 97,300.1 90.5,299.7 86.5,300 84.5,300.6 80.1,300.6 78.2,289.6 76.3,281.1 75.5,269.7 75.6,265.1 75,260.1 74.8,251.6 74,247.1 73.6,243.1 73,239.7 72.4,232.6 71.4,226.1 69.5,220.1 68.3,214.6 66,205.3 64.8,199.1 62.7,192.1 61.8,187.1 58.5,172.9 57.7,167.6 56.8,164.6ZM194.7,244.1 193,244.8 191.3,246.1 191,246.6 190.8,247.6 191.5,248.5 192.5,248.9 194,249.2 195,249.2 196.5,248.8 198,248.2 199.5,247.1 200.1,246.6 200.7,245.6 200.5,244.6 199.5,243.9 196.5,243.7Z"/>
<path fill="#ffe800" d="M58.5,164.6 166.9,164.6 166,165.7 165.7,166.6 165.6,168.1 165.8,169.6 166.7,172.1 168.2,175.1 169.2,180.1 170.7,183.6 172,187.6 174,195.3 174.9,200.1 175.3,201.1 177.1,203.6 177.8,205.1 178.8,210.1 180.7,214.6 182.1,219.6 182.1,220.6 181.3,224.1 181.6,227.6 181.5,229.1 180,233.6 179.8,237.6 177.9,245.1 177.6,247.6 177.5,249.6 177.8,250.6 178.5,251.6 180.9,254.1 181.7,255.6 182.1,256.6 181.6,258.1 179.6,262.6 179.5,263.1 179.6,264.1 181.5,268.5 182,269.1 182.5,269 184.7,267.6 188.5,264.2 189.5,263.6 192.5,262.5 199,261.3 203.5,259 206,257.4 212.6,255.1 212.8,256.1 212.8,257.6 212.5,259.6 211.8,262.6 211.8,265.6 210.9,267.6 210.7,268.6 210.7,271.1 211.2,273.6 210.4,276.1 210.2,278.1 210.3,279.1 210.8,282.1 210.8,286.6 210.6,290.1 210.7,295.6 210.2,300.6 196.7,300.6 195.4,300.1 191.5,299.3 190.5,298.9 189.2,295.6 187.5,292.7 187.3,292.1 187.5,288.6 187.3,287.6 185,284.6 184.6,282.6 183.3,280.6 182.7,278.1 181.6,275.6 180.5,273.6 178,270.2 176.6,266.6 174.7,263.1 173.5,261.1 171,257.9 167.6,253.1 158,243.2 152.5,240.6 150,239.1 148.5,238.6 143,238.1 136,236.5 130,236.1 123.5,235.3 120,235.5 115,236.2 113,236.8 109.5,238.6 108,239.6 105.3,244.1 105,245.6 105.3,250.1 104.8,255.6 105.1,260.1 105.1,264.6 104.4,269.1 104.4,273.1 104,274.1 103,275.3 102.7,276.1 102.5,281.6 102.8,286.6 102.5,288.3 100.3,296.1 98.8,297.6 97.6,299.6 97,299.9 91.5,299.6 87.5,299.6 85,300 83.4,300.6 80.5,300.6 78.7,290.6 77,283.5 76.5,280.6 75.7,269.6 75.8,264.6 75.3,260.1 75.1,251.6 74.3,247.1 73.9,243.1 73.3,240.1 72.7,233.1 71.8,226.6 71.3,224.6 69.5,219.2 68.7,215.1 66,204.1 65.2,199.6 63,192.1 59.5,174.7 59,171.1 58.8,167.1 58.2,164.6Z"/>
<path fill="#ffc900" d="M61,164.6 124.6,164.6 125.1,168.6 126.3,175.1 127.9,178.6 128.7,182.1 130.6,185.1 131,186.1 131.1,187.6 131,189.1 129.4,193.1 128.3,199.1 128.8,205.1 130.1,209.6 130,210.6 129.5,211.6 127.4,214.6 126.5,215.6 124,217.1 119,219.8 114.3,223.6 110.5,227.3 109,228.3 105.5,230.1 102.7,232.1 99,235.6 97.2,238.1 96.7,239.1 96.6,241.6 97.3,252.6 98.3,257.6 98.6,261.1 99.8,264.1 100.2,265.6 100.4,270.6 101.2,274.6 101.3,282.6 102.1,287.6 101.9,289.1 100.3,295.6 100,296.2 98.9,297.1 97.5,299.4 97,299.7 91.5,299.4 87,299.4 84.5,299.8 81.4,300.6 81,300.3 80.8,299.6 78.7,289.1 77.5,284.3 76.9,281.1 76,269.7 76.1,265.1 75.5,260.1 75.4,251.1 74.5,246.8 74.2,243.1 73.5,239.6 72.9,232.1 71.8,225.1 70,219.9 68.8,214.1 66.5,204.8 65.3,198.6 63.5,192.5 63,189.8 62,183.1 61,167.6 60.6,165.1 60.6,164.6ZM210.5,261.5 211,261.3 211.1,261.6 211.5,265.1 211.5,265.6 210.5,268.1 210.4,270.6 211,273.6 210.2,276.1 210,278.1 210.1,279.1 210.6,282.1 210.6,286.6 210.4,290.1 210.5,295.6 210,300.6 198.8,300.6 197.5,300 191.5,298.6 190.9,298.1 189.6,295.1 187.9,292.6 187.6,291.6 187.9,288.6 187.8,287.6 187.3,286.6 185.9,285.1 185.5,284.1 185.6,282.6 184.7,279.6 184.7,278.6 185.5,276.1 186.5,273.8 187.5,272.3 188.5,271.6 197.5,268.2 201,266.6 205,264.3 209,262.5Z"/>
<path fill="#ffaa00" d="M65,165 65.8,164.6 89.9,164.6 90.7,169.1 90.9,172.6 91.2,174.1 92.5,177.1 93.4,180.6 94.8,183.1 97.2,189.1 98,192.6 100,198.1 101.6,201.6 101.5,202.6 100.4,205.1 99.5,207.8 96.8,213.1 96.6,216.1 95.6,219.6 95.5,222.6 95.2,224.1 93.5,228 91.2,231.6 89.8,234.1 87.5,241.6 87.8,244.1 88.7,248.6 90,253 92,258.6 92.1,263.6 92.5,266.2 94.2,269.6 95.2,273.1 97,277.3 97.5,278.1 98,278.5 99,278.9 99.5,279.4 100.1,283.1 101.4,288.1 101.4,289.6 100.1,295.6 98.6,297.1 97.5,298.9 97,299.3 87,299.2 82.5,299.7 82,299.7 81.5,299.3 81.2,298.6 78.8,287.6 78,284.6 77,278.4 76.4,269.6 76.5,264.6 76,260.1 75.9,251.1 75,246.9 74.7,243.1 74,239.5 73.7,234.6 72.7,227.1 72.2,224.6 70.5,219.7 69.8,215.6 67.5,206.5 66.2,199.6 64.6,192.6 64.6,191.1 65.5,187.1 65.6,185.6 63.1,166.6 63.2,166.1 63.6,165.6ZM210.5,265.6 210.6,266.1 210.1,268.1 210,270.1 210.7,273.6 210,276.1 209.8,278.1 209.8,279.1 210.4,282.1 210.3,284.6 210.4,286.6 210.2,290.1 210.2,295.6 209.6,300.6 202.4,300.6 201.1,300.1 195,298.6 192,297.7 191,296.6 190.2,295.1 188.2,292.1 188.1,291.6 188.4,287.6 188,286.6 186.7,284.6 186.6,284.1 186.8,281.1 187.6,279.1 189,276.8 189.7,276.1 193,274.4 195.5,272.8 198.6,271.1 199.3,270.6 200.2,269.6 204,268.4 210,265.6Z"/>
<path fill="#ff8b00" d="M84.5,249.6 85.5,249.6 86.2,250.1 88,255.3 89.1,260.1 90.2,269.1 90.9,272.1 91.7,273.6 95,278.8 98.5,282.7 99.4,284.6 100.3,287.6 100.6,290.1 99.6,295.6 97.7,297.6 97,298.6 96.5,298.9 84,299 83,298.8 82.7,298.6 82.5,298.2 82.1,296.1 80.5,291.5 79,285.1 78.6,281.6 77.7,277.1 77.2,269.6 77.3,262.6 78.1,259.1 78.9,254.1 80,250.9 80.5,250.3 81.5,249.8ZM205,270.1 208,270.1 209,270.5 210,272.7 210.2,273.6 209.6,276.1 209.4,278.1 210.1,282.1 209.7,295.1 209.5,297.7 208.8,300.6 207.1,300.6 205.5,300 198.8,298.6 192.5,296.8 191.5,295.9 189.3,292.6 188.9,291.6 189.4,288.6 189.8,284.1 190.4,281.6 191.1,280.1 194.6,275.6 195.7,274.6 199,272.7 201.5,271.8 203,270.4Z"/>
<path fill="#ff6c00" d="M84.5,272 85.5,271.8 87,271.9 88.3,272.6 91,275.7 93.9,280.1 96.4,282.6 97.6,284.1 98.5,286.4 98.9,288.1 98.7,291.1 98.7,293.6 98.4,295.6 98,296.2 97.5,296.4 96,296.7 94.5,297.7 92.7,298.1 89.5,298.3 86.5,298.3 85.4,298.1 85,297.6 83.6,293.6 82,290.1 81.1,280.1 81.5,278.3 83.6,274.1 84.1,272.6ZM202.5,273.6 203,273.4 204,273.5 208,275.1 208.5,276 208.8,278.6 209.6,282.1 209,289.6 208.5,291.6 206.5,295 205,297.9 204,298.5 201.6,298.1 193.1,295.6 192.5,295.1 192.2,294.1 193,284.6 196,278.1 197,276.9 199.6,275.6Z"/>
<path fill="#ff4d00" d="M203,276 204.5,276.3 205.5,276.8 206.3,277.6 207.5,280 208.2,283.1 207.5,287.6 206.5,289.7 205.5,291.1 204.5,292 203,292.9 202,293.2 201,293 198,291.9 196.7,291.1 195.6,287.6 195.4,284.6 195.9,282.6 197,279.6 197.6,278.6 198.5,277.8 200,277ZM89.5,284.4 90.5,284.3 91.5,284.5 93.4,285.1 95.5,286.4 96.1,287.1 96.5,288.1 96.7,289.1 96.6,290.1 95.7,293.1 94.5,294.6 93,295.6 90.5,295.8 89.2,295.6 87.5,294.5 87,294 86.6,293.1 86.3,291.6 86.3,290.1 87.1,287.1 87.9,285.6Z"/>
<path fill="#ff2e00" d="M200,278.6 201.5,278.1 203.5,278.4 205,279.7 205.8,281.1 206.4,283.6 206,286.1 205.1,287.6 203.5,288.7 202,288.8 200.5,288.5 199,287.5 198,286.1 197.5,284.1 197.6,282.6 198.5,280Z"/>
<path fill="#ff0f00" d="M201.5,281 202,280.9 203,281.2 203.8,282.1 204.1,283.1 204.1,284.1 203.6,285.1 203,285.8 202,286.1 201,285.8 200.5,285.4 200.1,284.6 199.9,283.6 200,282.6 200.5,281.6Z"/>
</g>
<path d="M75,286 L76,292 L77.5,299" fill="none" stroke="#0b5a18" stroke-width="6.5" stroke-linecap="round"/>
<path d="M53.3,164.0 53.6,164.6 54.5,167.2 52.9,167.3 55.1,169.7 55.4,171.5 56.2,173.4 57.1,174.7 57.1,175.6 57.1,177.4 58.2,180.7 58.3,180.7 58.4,183.0 59.0,185.1 59.8,185.1 60.4,187.8 60.0,190.3 60.6,190.7 60.6,193.0 62.0,195.3 62.0,196.1 63.2,197.8 63.5,199.7 63.3,201.1 63.7,202.7 63.6,204.4 63.9,206.3 64.6,207.6 64.8,209.3 66.1,211.0 65.5,212.5 66.5,214.2 66.6,215.9 67.2,217.8 67.7,218.6 67.5,219.8 68.7,222.9 69.3,223.9 69.6,225.2 69.4,225.9 69.4,227.7 70.4,230.4 70.0,231.6 70.6,232.8 69.9,234.5 70.2,236.4 71.0,238.2 71.2,240.2 71.1,242.1 70.9,243.4 72.0,244.8 71.3,247.1 71.9,248.9 72.7,250.3 72.6,252.4 72.9,253.3 72.9,255.7 73.1,257.2 73.0,258.8 72.8,259.9 73.9,262.0 73.6,263.3 73.6,265.2 74.9,266.8 73.2,269.3 74.2,269.5 73.9,272.5 73.3,274.0 73.7,274.9 74.0,277.0" fill="none" stroke="#000" stroke-width="4.2" stroke-linejoin="round" stroke-linecap="round"/>
<path d="M74.0,277.0 73.8,278.0 75.2,280.2 75.9,281.7 75.3,283.7 75.4,285.1 75.4,288.5 75.2,288.2 75.8,291.0 76.8,293.1 75.5,294.2 76.9,295.5 77.5,295.7 77.9,299.4 78.0,301.0" fill="none" stroke="#000" stroke-width="3.2" stroke-linejoin="round" stroke-linecap="round" stroke-dasharray="2.5 1.5"/>
<path d="M238.0,207.0 237.3,208.3 235.6,209.4 234.8,211.9 234.4,212.4 233.4,214.1 231.7,215.8 230.6,216.3 230.8,217.7 229.8,219.5 228.8,221.6 227.9,222.3 227.4,224.8 226.3,226.4 226.4,227.7 225.5,229.1 225.0,231.6 225.3,233.4 223.8,235.3 222.6,236.8 222.2,237.7 222.5,239.6 222.1,240.3 221.1,242.3 220.4,243.1 220.4,245.6 219.1,246.4 218.4,249.3 218.1,250.2 217.7,252.0 216.9,254.0 216.3,255.7 215.0,257.0 214.9,258.6 214.6,259.9 214.1,262.1 213.5,262.7 213.6,265.3 212.8,266.5 212.1,267.9 212.9,270.1 212.4,271.3 211.6,273.3 212.4,275.3 213.0,276.7 212.5,277.8 212.5,280.4 212.6,282.0 212.3,284.1 211.8,285.4 212.6,286.5 211.7,288.8 212.3,290.6 212.6,291.7 212.4,294.0 212.0,294.9 211.7,296.9 213.0,297.4 212.4,299.9 212.0,301.0" fill="none" stroke="#000" stroke-width="3.8" stroke-linejoin="round" stroke-linecap="round"/>
<path d="M229.0,176.0 229.1,177.9 229.1,179.7 229.2,181.0 229.4,183.2 229.1,185.1 229.3,186.5 229.6,187.8 229.0,190.1 229.2,191.6 229.5,193.6 228.9,195.1 229.3,197.4 228.7,198.8 229.0,200.2 229.0,201.9 229.0,204.0" fill="none" stroke="#000" stroke-width="0.9" stroke-linejoin="round" stroke-linecap="round" stroke-dasharray="1.6 2.2"/>
<path d="M99.0,301.0 100.0,299.6 100.9,297.0 100.8,296.5 101.3,294.3 103.2,293.9 102.9,291.0 104.4,290.2 104.4,289.0 105.9,287.3 108.1,286.6 107.7,285.0 109.8,283.7 108.7,281.8 110.2,279.9 111.4,279.0 112.3,277.1 113.9,275.1 114.8,274.7 115.5,272.0 117.2,271.0 116.7,271.1 117.7,269.1 117.7,267.8 120.2,267.1 120.9,265.6 122.3,263.8 122.6,264.1 123.5,262.4 125.4,261.5 126.3,260.0 128.1,258.6 129.4,257.3 130.5,256.5 132.6,256.2 133.0,255.5 135.4,254.8 137.9,255.0 139.2,253.9 140.2,254.5 141.3,253.8 143.9,252.9 145.5,252.8" fill="none" stroke="#000" stroke-width="2.3" stroke-linejoin="round" stroke-linecap="round" stroke-dasharray="2.6 1.2"/>
<path d="M145.5,252.8 146.6,253.7 148.5,252.6 150.8,253.4 150.6,254.0 153.9,255.0 155.7,255.6 156.8,256.0 158.1,257.8 159.7,258.1 159.8,259.0 161.2,260.5 162.5,261.4 163.5,263.1 164.5,263.5 167.1,264.6 166.8,266.1 168.6,267.6 168.5,268.7 169.5,270.7 171.5,271.2 172.8,272.9 172.9,274.7 174.1,274.8 175.6,277.5 176.3,278.5 176.3,280.0 178.3,281.3 179.1,282.0 179.8,284.1 179.7,284.4 180.9,286.4 182.3,287.6 183.0,289.0 183.7,290.8 184.6,292.0 185.2,293.3 186.1,294.8 187.1,296.5 187.3,297.7 187.7,299.6 188.5,301.0" fill="none" stroke="#000" stroke-width="1.4" stroke-linejoin="round" stroke-linecap="round"/>
</g>
<path d="M36,167.6V298H234.6" fill="none" stroke="#000" stroke-width="1"/>
<path d="M47.7,298v-1.6M59.6,298v-1.6M71.5,298v-1.6M83.4,298v-1.6M95.3,298v-1.6M107.2,298v-1.6M119.1,298v-1.6M131.0,298v-1.6M142.9,298v-1.6M154.8,298v-1.6M166.7,298v-1.6M178.6,298v-1.6M190.5,298v-1.6M202.4,298v-1.6M214.3,298v-1.6M226.2,298v-1.6M36,188.7h4.4M36,213.2h4.4M36,237.7h4.4M36,262.2h4.4M36,286.7h4.4M36,176.4h2.2M36,200.9h2.2M36,225.4h2.2M36,249.9h2.2M36,274.4h2.2" stroke="#000" stroke-width="0.8" fill="none"/>
<g font-family="Liberation Sans, Arial, sans-serif" font-size="7.5" fill="#111">
<text x="54.0" y="305.9" text-anchor="middle">−150</text>
<text x="77.8" y="305.9" text-anchor="middle">−100</text>
<text x="101.6" y="305.9" text-anchor="middle">−50</text>
<text x="126.2" y="305.9" text-anchor="middle">0</text>
<text x="150.0" y="305.9" text-anchor="middle">50</text>
<text x="173.8" y="305.9" text-anchor="middle">100</text>
<text x="197.6" y="305.9" text-anchor="middle">150</text>
<text x="221.4" y="305.9" text-anchor="middle">200</text>
<text x="33.4" y="301.0" text-anchor="end">0</text>
<text x="33.4" y="275.7" text-anchor="end">50</text>
<text x="33.4" y="250.4" text-anchor="end">100</text>
<text x="33.4" y="225.1" text-anchor="end">150</text>
<text x="33.4" y="199.8" text-anchor="end">200</text>
<text x="33.4" y="174.5" text-anchor="end">250</text>
</g>
<g font-family="Liberation Serif, Times New Roman, serif" fill="#111">
<text transform="translate(141.5,316.3) scale(1,1.06)" font-size="10.0" text-anchor="middle">Window width /mm</text>
<text transform="translate(16.9,239.5) rotate(-90) scale(1,1.0)" font-size="10.7" text-anchor="middle">Window height /mm</text>
<text x="3" y="177.3" font-size="10.8">(c)</text>
</g>
<rect x="235.5" y="182.6" width="28.8" height="114.7" fill="#fff" stroke="#777" stroke-width="0.6"/>
<rect x="236.3" y="190.20" width="6.5" height="2.75" fill="#ff0d00"/>
<rect x="236.3" y="192.80" width="6.5" height="2.75" fill="#ff2600"/>
<rect x="236.3" y="195.41" width="6.5" height="2.75" fill="#ff4000"/>
<rect x="236.3" y="198.01" width="6.5" height="2.75" fill="#ff5900"/>
<rect x="236.3" y="200.62" width="6.5" height="2.75" fill="#ff7300"/>
<rect x="236.3" y="203.22" width="6.5" height="2.75" fill="#ff8c00"/>
<rect x="236.3" y="205.83" width="6.5" height="2.75" fill="#ffa600"/>
<rect x="236.3" y="208.43" width="6.5" height="2.75" fill="#ffbf00"/>
<rect x="236.3" y="211.04" width="6.5" height="2.75" fill="#ffd900"/>
<rect x="236.3" y="213.64" width="6.5" height="2.75" fill="#fff200"/>
<rect x="236.3" y="216.25" width="6.5" height="2.75" fill="#f2ff00"/>
<rect x="236.3" y="218.85" width="6.5" height="2.75" fill="#d9ff00"/>
<rect x="236.3" y="221.46" width="6.5" height="2.75" fill="#bfff00"/>
<rect x="236.3" y="224.06" width="6.5" height="2.75" fill="#a6ff00"/>
<rect x="236.3" y="226.67" width="6.5" height="2.75" fill="#8cff00"/>
<rect x="236.3" y="229.27" width="6.5" height="2.75" fill="#73ff00"/>
<rect x="236.3" y="231.88" width="6.5" height="2.75" fill="#59ff00"/>
<rect x="236.3" y="234.48" width="6.5" height="2.75" fill="#40ff00"/>
<rect x="236.3" y="237.09" width="6.5" height="2.75" fill="#26ff00"/>
<rect x="236.3" y="239.69" width="6.5" height="2.75" fill="#0dff00"/>
<rect x="236.3" y="242.30" width="6.5" height="2.75" fill="#00ff0d"/>
<rect x="236.3" y="244.90" width="6.5" height="2.75" fill="#00ff26"/>
<rect x="236.3" y="247.51" width="6.5" height="2.75" fill="#00ff40"/>
<rect x="236.3" y="250.11" width="6.5" height="2.75" fill="#00ff59"/>
<rect x="236.3" y="252.72" width="6.5" height="2.75" fill="#00ff73"/>
<rect x="236.3" y="255.32" width="6.5" height="2.75" fill="#00ff8c"/>
<rect x="236.3" y="257.93" width="6.5" height="2.75" fill="#00ffa6"/>
<rect x="236.3" y="260.53" width="6.5" height="2.75" fill="#00ffbf"/>
<rect x="236.3" y="263.14" width="6.5" height="2.75" fill="#00ffd9"/>
<rect x="236.3" y="265.75" width="6.5" height="2.75" fill="#00fff2"/>
<rect x="236.3" y="268.35" width="6.5" height="2.75" fill="#00f2ff"/>
<rect x="236.3" y="270.95" width="6.5" height="2.75" fill="#00d9ff"/>
<rect x="236.3" y="273.56" width="6.5" height="2.75" fill="#00bfff"/>
<rect x="236.3" y="276.16" width="6.5" height="2.75" fill="#00a6ff"/>
<rect x="236.3" y="278.77" width="6.5" height="2.75" fill="#008cff"/>
<rect x="236.3" y="281.38" width="6.5" height="2.75" fill="#0073ff"/>
<rect x="236.3" y="283.98" width="6.5" height="2.75" fill="#0059ff"/>
<rect x="236.3" y="286.58" width="6.5" height="2.75" fill="#0040ff"/>
<rect x="236.3" y="289.19" width="6.5" height="2.75" fill="#0026ff"/>
<rect x="236.3" y="291.79" width="6.5" height="2.75" fill="#000dff"/>
<g font-family="Liberation Sans, Arial, sans-serif" font-size="4.6" fill="#333">
<text x="263.7" y="186.2" text-anchor="end" font-size="4.7">Vel Mag</text>
<text x="246.6" y="195.0">11.7151</text>
<text x="246.6" y="215.2">9.77212</text>
<text x="246.6" y="235.8">7.82909</text>
<text x="246.6" y="256.0">5.88606</text>
<text x="246.6" y="275.8">2.94303</text>
<text x="246.6" y="295.2">0</text>
</g>
<!-- panel d -->
<clipPath id="cpd"><rect x="318.6" y="167.6" width="199.0" height="129.6"/></clipPath>
<g clip-path="url(#cpd)">
<rect x="317.6" y="166.6" width="201.0" height="131.6" fill="#002eff"/>
<g stroke="#000" stroke-opacity="0.7" stroke-width="0.42" stroke-linejoin="round">
<path fill="#004dff" d="M316.1,164.6 520.6,164.6 520.6,300.1 315.6,300.1 315.6,282.2 317.1,286.7 318.1,288 319.1,289 330.1,294.2 331.1,294.4 331.2,293.6 331.1,292.8 329.8,289.6 329,284.6 328.6,283.1 328.6,282.1 329.2,281.1 329.3,280.1 328.7,276.6 328.1,275.3 326.1,272.7 325.1,271.9 323.6,271.3 322.1,271.9 320.1,271.3 315.6,269 315.6,164.6ZM322.6,273.1 324.6,274.7 326,276.6 327.8,280.6 327.9,281.1 327.6,281.3 327.1,281.4 326.6,281.1 325.4,279.1 322.9,275.6 322.2,274.1 322.2,273.6Z"/>
<path fill="#006cff" d="M316.1,164.6 520.6,164.6 520.6,300.1 456.2,300.1 457.1,299.9 457.5,299.6 457.8,299.1 457.9,298.6 456.5,295.1 456.2,292.1 455.6,290.8 453.7,288.6 453.1,287.6 452.2,283.6 451.2,281.6 449.6,279.4 445.6,275.1 443.4,271.6 442.1,270.3 438.8,267.6 433.7,260.1 433.1,259.5 432.1,259 428.6,260 427.3,260.6 425.6,261.8 422.1,264.9 418.3,267.1 417.6,268.1 416.1,271.2 412.1,275.7 411.3,277.1 409.5,282.6 407.5,285.6 406.7,287.1 406.5,288.1 406.2,293.1 405.4,296.1 405.2,298.1 405.2,298.6 405.5,299.1 406.1,299.3 412.2,300.1 338.4,300.1 337.3,298.6 335.9,295.6 334.9,291.1 331.5,283.1 331.3,280.6 330.2,276.6 327.1,270.3 325.6,268.3 325.1,268 323.1,267.9 322.6,267.7 318.6,264.4 317.1,263.6 315.6,263.4 315.6,164.6Z"/>
<path fill="#008bff" d="M316.1,164.6 520.6,164.6 520.6,300.1 464.6,300.1 463,297.6 462.1,293.6 461.6,292.2 459.7,289.1 456,281.6 453.3,277.6 451.7,274.1 451,273.1 447.6,270.5 444.8,268.1 441.1,263.1 437.5,260.1 435.6,257.1 435.1,256.6 432.6,255.6 428.1,254.3 426.1,253.5 425.1,253.4 423.6,253.7 420.1,255.2 416.6,256.1 414.8,257.1 412.9,258.6 411.6,260.1 410,262.6 407.5,266.1 404.7,271.6 401.6,275.3 400.7,277.1 399.3,281.1 397.3,284.6 396.3,286.6 393,297.1 392.9,298.1 393.4,299.1 394.1,299.6 395.6,300.1 343.5,300.1 342.4,296.6 340.6,293.1 339.5,289.1 338.8,287.1 333.7,277.6 331.3,272.1 330,268.6 328.5,265.6 323.5,258.1 322.1,256.5 321.1,256 320.1,255.8 315.6,256.1 315.6,164.6Z"/>
<path fill="#00aaff" d="M316.1,164.6 520.6,164.6 520.6,300.1 469.2,300.1 468.3,298.6 467.4,296.6 466.6,292.6 465.6,290.6 462.6,286.1 459,279.6 456.5,276.1 454.4,272.6 452.9,270.6 450.1,267.6 447.1,265 444,261.6 440.2,258.1 437.6,255.1 432.6,252.1 429.1,251.1 426.1,249.8 425.1,249.6 423.6,249.9 420.1,251.2 417.1,251.8 415.6,252.3 410.6,255.4 409.3,256.6 407.5,258.6 405.9,261.1 402.7,265.1 400.9,269.1 398.6,272.3 397.6,274.1 395.3,279.6 392.4,283.1 391.8,284.1 387.4,295.1 386.6,300.1 349,300.1 348,298.1 347.1,294.6 344.7,290.1 343.1,285.9 341.1,281.2 338.6,276.4 335.6,271.6 334.4,268.1 331.8,263.1 330.6,259.6 327.1,254.1 324.6,251.7 322.6,250.7 321.1,250.5 315.6,250.6 315.6,164.6Z"/>
<path fill="#00c9ff" d="M316.1,164.6 520.6,164.6 520.6,300.1 473.4,300.1 471.8,297.1 471.1,293.1 469.4,289.1 468.3,287.6 467.2,286.6 464.9,283.6 462.8,279.1 461.6,277.2 455.4,269.1 452.7,265.1 444.1,257.7 440.8,254.1 437.6,252.1 434.6,249.6 432.6,248.6 430.1,248 426.1,246.2 424.1,245.9 423.1,246.1 421.6,247 420.1,247.5 416.6,247.9 415.6,248.2 409.1,251.8 407.4,253.1 404.6,255.7 402.2,259.1 399.6,261.8 398.4,263.6 396.9,267.1 394.1,272.2 392.1,276.6 391.1,277.8 388.6,279.6 387.6,281.1 385.7,285.6 382,292.6 380.4,300.1 354.1,300.1 352.4,299.1 351.8,298.6 351.1,297.6 349.8,293.1 346.7,287.6 343.8,280.1 341.3,275.1 338.3,270.6 337.2,267.1 334.7,262.6 333.8,259.6 333,257.6 329.8,252.1 328.3,250.1 327.1,248.9 325.6,247.8 324.1,247.1 323.1,246.9 319.6,247.5 315.6,247.5 315.6,164.6Z"/>
<path fill="#00e8ff" d="M316.1,164.6 520.6,164.6 520.6,261.4 514.1,262.2 513.1,262.6 512.8,263.1 512,265.6 512,268.6 511.8,269.6 510.7,272.6 509.9,275.6 508.7,278.6 506.7,284.6 506.1,287.1 505.6,288.1 502.3,292.6 500.8,297.6 499.7,298.6 496.3,300.1 476.5,300.1 475.6,298.1 474.1,296.2 472.9,294.1 472,292.1 471.7,290.1 471.1,288.5 466.6,282.6 465,279.6 463.6,277.9 461.6,274.5 456.5,268.1 453.6,264.2 445.1,256.6 441.8,253.1 435.1,248.1 432.6,246.9 430.1,246.2 426.1,244.7 423.6,244.3 422.6,244.5 419.6,245.7 415.1,246.5 412.6,247.6 407.6,250.5 405.1,252.6 402.6,255 400.6,257.8 398.5,260.1 397.1,262.1 396.4,263.6 395.4,266.6 392.6,271.1 390.5,275.1 389.6,276.2 387.4,278.1 386,280.1 383.1,286.1 379.9,291.6 377.9,300.1 358.8,300.1 355.4,298.6 354.8,298.1 353.3,295.6 352.1,291.1 349,286.1 348.2,284.1 347.1,280.6 344,274.1 341.1,269.9 339.9,266.1 338,263.1 337.2,261.6 335.5,256.1 331.1,247.9 329.9,246.6 328.1,245.2 326.6,244.4 325.1,243.8 323.6,243.8 319.6,244.7 315.6,244.6 315.6,164.6Z"/>
<path fill="#00fff7" d="M316.1,164.6 520.6,164.6 520.6,260.6 515.6,261.1 513.1,261.1 512.6,261.3 512.1,261.8 510.1,266.6 509.8,269.6 509.5,270.6 507.8,274.1 506.1,277.3 504.8,281.6 503.7,284.1 502.6,285.8 498.2,290.6 496.4,294.6 495.6,295.6 493.1,297.7 491.6,298.4 486.1,299.6 484.6,300.1 481.2,300.1 480.6,299.1 479.1,298.1 477.1,295.6 473.6,292.2 473.1,291.1 473.1,289.6 472.6,288.6 467.9,282.1 466.2,279.1 464.6,277.1 463.4,274.6 462.6,273.3 457.6,267.6 454.8,264.1 448.6,258.1 445.2,255.1 442.9,252.6 438,248.6 433.4,245.6 426.1,243.5 423.6,243.1 422.1,243.1 418.6,244.2 414.1,245.1 410.4,246.6 406.2,249.1 400.9,254.1 396.1,260.3 394.9,262.6 394.2,265.6 393.7,266.6 391.4,269.6 389,273.6 386.6,276.3 384.9,278.6 382.8,282.1 380.4,286.6 377.8,290.6 375.4,300.1 362.8,300.1 358.9,298.6 357.9,297.6 355.8,294.1 354.7,290.1 352.2,286.6 350.8,284.1 349.6,280 347.4,275.6 346.2,272.6 343.6,269.1 342.1,264.6 340,261.6 338.1,255.5 336.2,251.6 334.2,246.6 333.6,245.5 329.6,241.9 326.6,240.8 324.6,240.7 321.6,241.6 319.6,241.9 315.6,241.9 315.6,164.6Z"/>
<path fill="#00ffd8" d="M316.1,164.6 520.6,164.6 520.6,259.9 515.6,260.2 513.1,260 512.1,260.2 511.5,260.6 508.5,267.1 507.3,271.1 504.9,275.1 502.9,280.6 501.1,283.7 496.2,289.6 493.9,293.6 492,295.6 491.1,296.3 489.6,296.9 486.6,297.8 485.1,297.8 481.6,296.7 480.6,296.2 475.4,290.6 474.4,288.6 468.6,280.7 464,272.6 449.1,257.1 440.5,249.1 434.3,244.6 433.3,244.1 426.1,242.4 422.6,241.9 419.6,242.1 410.6,244.5 408.2,245.6 405,247.6 400.6,251.7 398.8,253.6 395.6,257.7 394.1,260.1 393.2,262.1 392.6,265.1 392.1,266.1 390.6,268 388.7,271.1 386.1,274.1 382.2,279.6 380.6,282 378.3,286.1 375.6,289.6 372.6,300.1 366.6,300.1 362.6,299.1 361.4,298.6 360.2,297.6 358.2,294.6 357.2,292.6 356.8,290.6 356.3,289.6 354,286.6 352.5,284.1 351,279.6 348.9,275.6 347.5,272.1 345.2,268.6 343.6,264.4 341.2,260.6 339.2,254.6 337,249.6 335.6,245.5 334.8,244.1 332.3,241.1 331.4,239.6 330.8,239.1 330.1,238.9 325.1,238.4 324.1,238.5 321.1,239.4 315.6,240 315.6,164.6Z"/>
<path fill="#00ffb9" d="M316.1,164.6 520.6,164.6 520.6,259.2 516.1,259.4 512.6,258.9 511.6,259.1 510.9,259.6 510.1,260.8 505.8,270.6 503.5,274.1 501.7,278.6 500.3,281.1 495.3,287.6 493,290.1 491.3,292.6 490.1,294 488.6,294.9 486.6,295.5 485.6,295.6 482.6,294.6 481.1,293.5 476.9,288.6 471.1,279.4 465,272.1 453.1,260.5 449.1,256.2 440.4,248.1 434.6,244 433.6,243.5 425.7,241.6 421.6,241.1 419.1,241.3 410.1,243.6 407.8,244.6 404.5,246.6 398.3,252.1 394.6,256.6 393.6,258.2 389.6,267.6 388.1,270 385.1,273.4 380.5,279.6 377.1,285.1 374,288.6 373.4,289.6 370.6,297.1 369.6,297.7 366.6,298.5 364.1,298.5 362.7,298.1 362.1,297.6 359.5,293.6 358.7,292.1 357.9,289.6 356.6,287.7 355.1,285.9 353.8,283.6 352.3,279.6 349.9,275.1 348.3,271.1 346.3,267.6 344.8,264.1 342.2,259.6 340,253.6 337.9,248.6 336.4,243.6 334.2,240.1 333.1,237.5 332.1,236.8 331.1,236.4 326.1,236.3 323.6,236.6 321.6,237.2 318.1,237.6 315.6,238.2 315.6,164.6Z"/>
<path fill="#00ff9b" d="M316.1,164.6 520.6,164.6 520.6,258.5 516.6,258.5 512.6,257.8 511.1,258.1 510.1,258.7 509.4,259.6 507.6,263.6 504.8,270.6 502.6,273.9 500.7,278.1 499.6,280 493.6,287.3 491,289.1 489.1,291 487.6,292.2 486.6,292.7 485.6,292.8 484.6,292.4 480.8,289.6 478.6,288.5 477.8,287.6 475.1,282.8 472.7,279.1 471.8,278.1 457.3,263.6 453.1,259.7 449.2,255.6 445.1,252 441.6,248.6 439.1,246.6 434.9,243.6 433.6,243 426.1,241.2 421.6,240.6 419.1,240.7 410.1,243 406.9,244.6 404.4,246.1 397.4,252.1 394.1,256 393.1,257.5 392.3,259.1 391.7,261.1 390.1,264.1 388.9,267.1 388.1,268.5 386.9,270.1 384.5,272.6 382.2,275.6 379.3,279.1 376.6,283.3 375.6,284.4 373.6,286.2 372.4,287.6 371.8,288.6 368.3,295.6 367.6,296.1 366.6,296.4 364.6,296.6 363.6,296.5 362.7,295.6 360.7,292.6 358.9,288.6 355.8,284.6 354.2,280.6 350.8,274.6 349.3,270.6 347.2,266.1 342.6,257.6 338.8,247.6 337.8,242.6 336.1,239.1 335.4,236.6 334.9,235.6 334.1,234.9 332.6,234.1 331.6,233.7 330.6,233.6 326.6,234.1 321.6,235.1 318.1,235.4 315.6,236.2 315.6,164.6ZM332.3,188.1 331.5,188.6 331.1,189.4 330.9,190.6 331.2,192.1 331.6,192.6 332.6,192.9 333.1,192.8 333.7,192.1 334,191.1 334,190.1 333.6,188.6 333.1,188.2Z"/>
<path fill="#00ff7c" d="M316.1,164.6 520.6,164.6 520.6,257.8 517.1,257.7 512.6,256.8 510.6,257.1 509.1,258 508.4,259.1 506.1,264.5 504.6,268.3 503.9,270.6 502,273.6 499.1,279.1 492.3,286.6 489.3,288.1 486.6,290 485.6,290.1 482.6,288.6 479.6,287.8 478.6,287.2 475.1,281.6 472.7,278.1 457.6,263.2 453.1,259.1 449.1,255 445.1,251.5 442.7,249.1 438.6,245.8 434.8,243.1 433.5,242.6 426.1,240.8 421.1,240.2 419.1,240.3 410.6,242.5 407.1,244.1 404.1,245.9 400.1,249.4 397.7,251.1 396.6,252.1 393.7,255.6 392.7,257.1 391.9,258.6 391.1,261.1 389.4,264.1 388.3,266.6 387,268.6 384,271.6 381.6,274.7 378.5,278.1 375.6,282.3 374.6,283.2 372.7,284.6 371.6,285.7 370.1,287.7 366.1,294.1 365.1,294.7 364.1,294.5 362.6,292.6 360.1,288.1 356.9,284.1 355.7,280.6 351.7,274.1 348.6,266.1 343.3,256.6 339.8,247.1 339.1,242.3 337.9,238.1 337.2,235.1 336.6,233.6 335.6,232.7 333.1,231.4 332.1,231 331.1,231 328.1,231.5 323.6,232.8 318.1,233.2 315.6,234 315.6,164.6ZM331.8,187.1 331.1,187.5 330.6,188.1 330,189.6 329.9,191.1 330.1,192.1 330.6,193.1 331.6,194 332.6,194.2 333.6,193.9 334.6,192.6 334.9,191.1 335,189.6 334.8,188.6 334.1,187.5 333.1,187Z"/>
<path fill="#00ff5d" d="M316.1,164.6 520.6,164.6 520.6,257.1 517.6,256.8 512.6,255.7 510.6,256 508.6,256.9 507.6,258.3 505.1,264.4 503.7,268.1 503.2,270.6 498.3,278.6 491.4,285.6 486.6,287.7 485.1,287.8 479.6,286.6 478.6,285.9 474.2,279.1 473.1,277.8 457.6,262.6 453.1,258.6 448.6,254 445.1,251.1 443.1,249.1 437.6,244.7 434.5,242.6 427.6,240.7 422.1,239.9 419.1,239.9 410.6,242.1 406.6,244.1 404.1,245.6 401.1,248.2 399.1,249.8 397.6,250.7 396,252.1 392.6,256.2 391.5,258.1 390.6,260.8 387.6,266.1 386.1,268.2 383.2,271.1 380.8,274.1 377.5,277.6 374.6,281.5 371.1,284.4 365.6,291 364.6,291.5 364.1,291.5 363.6,291.3 362.1,289.8 357.9,283.6 356.6,280.3 353.9,276.1 352.3,273.1 349.1,265.2 344.4,257.1 340.4,246.1 339.7,242.1 338.9,238.6 338.4,234.6 338.1,233.6 336.6,230.6 336.6,228.1 336.3,227.6 335.6,227.1 334.6,226.8 333.6,226.7 332.6,226.9 330.6,227.4 328.1,229.2 324.6,230.6 320.6,231.1 317.6,231.3 315.6,231.7 315.6,164.6ZM331.3,186.6 330.4,187.1 329.7,188.1 329.2,190.1 329.3,192.1 330,193.6 331,194.6 332.1,195 333.1,195.1 334.1,194.5 335.3,192.6 335.8,190.1 335.7,189.1 335.1,187.7 334.1,186.6 332.6,186.4Z"/>
<path fill="#00ff3e" d="M316.1,164.6 520.6,164.6 520.6,256.3 512.6,254.7 510.1,255 508.6,255.6 507.8,256.1 506.8,257.6 503.3,266.6 502.8,268.1 502.5,270.6 497.6,277.9 494.1,281.4 490.4,284.6 486.6,286.1 485.6,286.3 484.6,286.2 480.1,285.4 479.1,284.9 478.1,283.8 474.9,279.1 473.6,277.5 462.1,266.5 458.1,262.5 453.6,258.5 448.1,253.1 445.5,251.1 443,248.6 437.4,244.1 434.6,242.3 427.1,240.2 422.1,239.5 419.1,239.5 415.1,240.5 410.6,241.8 406,244.1 404.1,245.2 400.6,248.3 398.6,249.8 397.1,250.6 395.6,251.9 392.1,256.1 390.9,258.1 390.1,260.2 386.8,265.6 385.3,267.6 382.6,270.2 380.6,272.8 376.6,277.3 374.1,280.5 371.1,283 368.1,286.6 365.6,289.2 364.6,289.9 363.6,289.9 362.6,289.3 362.1,288.7 358.7,283.1 357.3,280.1 355.4,277.1 352.3,271.6 349.6,264.8 345.1,257.1 341,245.6 339.4,239.1 338.9,234.1 337.5,230.6 337.5,227.6 337.1,226.5 333.9,224.6 332.1,223.2 331.6,223.4 328.1,227.1 326.6,227.9 324.6,228.5 315.6,229.6 315.6,164.6ZM331,186.1 329.9,186.6 329.2,187.6 328.6,190.1 328.7,192.1 329.2,193.6 330.6,195.1 331.6,195.6 333.1,195.8 334.4,195.1 335.8,193.1 336.4,190.1 336.4,189.1 335.7,187.6 334.6,186.2 334.1,186 332.6,185.9Z"/>
<path fill="#00ff1f" d="M316.1,164.6 520.6,164.6 520.6,255.2 512.1,253.8 509.6,254.1 507.6,255.1 506.6,256.2 505.8,257.6 502.3,266.6 501.7,270.6 500.1,273.1 496.6,277.6 493.6,280.3 489.6,283.5 486.6,284.8 485.1,284.8 481.1,284 479.4,283.1 474.3,277.1 462.3,266.1 458.1,261.8 453.6,258 447.5,252.1 445.6,250.8 443.6,248.7 440.6,246.5 437.6,243.8 434.6,242 430.1,240.9 426.6,239.8 421.6,239.1 419.1,239.2 417.6,239.7 415.1,240.1 410.6,241.5 405.6,244.1 403.9,245.1 400.4,248.1 398.6,249.4 397.1,250.1 395.4,251.6 392.6,254.8 390.6,257.6 388.3,261.6 385.6,265.5 382.1,269.3 379.6,272.6 373.6,279.5 370.6,282.2 367.1,286.4 364.6,288.6 363.6,288.9 363.1,288.8 362.1,287.7 354.7,274.1 352.6,270.8 349.4,263.1 347.9,260.6 346.6,258.9 345.7,257.1 344.7,253.6 343.4,250.6 342.4,247.1 341.1,244 340.1,240.1 339.4,234.1 338.1,230.2 338.3,227.6 338.1,226.1 337.6,225.4 335.1,223.6 334.4,222.6 333.9,221.1 332.6,215.1 332.1,213.6 331.6,213.6 331.1,215.4 330,222.6 329.4,223.6 328.1,225 327.1,225.7 325.6,226.1 315.6,227.6 315.6,164.6ZM330.6,185.6 329.1,186.6 328.5,187.6 328,190.1 328.2,192.6 328.8,194.1 330.3,195.6 331.6,196.3 333.1,196.4 334.7,195.6 336.2,193.6 336.5,192.6 337,190.1 337,189.1 336.4,187.6 334.6,185.6 334.1,185.4 332.1,185.2Z"/>
<path fill="#00ff00" d="M316.1,164.6 520.6,164.6 520.6,254 511.1,252.9 509.1,253.2 507.6,253.9 505.4,256.6 504.8,257.6 501.7,265.6 501.3,267.1 501.1,270.1 500.1,272 496.6,276.1 492.7,279.6 488.1,282.8 486.6,283.5 485.6,283.5 482.6,282.6 480.1,281.1 476.9,278.1 474.6,275.4 463.1,266.1 458.6,261.6 453.1,257 447.6,251.7 445.6,250.4 443.6,248.3 440.6,246.1 439.1,244.6 437.6,243.5 434.6,241.7 430.2,240.6 426.6,239.4 421.6,238.8 419.1,238.9 414.6,239.9 409.6,241.7 404.6,244.3 403.1,245.4 401.1,247.2 399.3,248.6 397.1,249.7 395,251.6 392.4,254.6 389.9,257.6 387.4,261.6 385.1,264.6 381.4,268.6 379.2,271.6 373.6,278 370.6,280.8 368.4,283.6 366.6,285.6 363.6,287.6 363.1,287.5 362.1,286.2 361,283.6 357.1,276.9 355.8,274.1 352.7,269.6 350.8,264.6 349.7,262.1 346.6,257.6 345.6,253.6 344.1,250.5 343.1,246.6 341.6,243.7 340.6,240.1 340.3,238.6 340.1,234.1 339,230.6 339.1,225.6 338.7,224.6 336.8,222.6 336,221.1 334.8,211.6 334.4,207.1 333.5,203.6 332.6,202.1 332.1,201.6 331.6,201.5 330.6,202.4 329.7,204.1 329.2,206.1 329,208.1 329,211.6 328.6,221.1 328.5,222.1 328.1,222.8 327.6,223.3 326.6,223.8 322.6,224.2 315.6,222.1 315.6,164.6ZM331,184.6 328.6,186.1 327.8,187.1 327.1,190.1 327.3,192.6 328,194.6 329.6,196.2 330.6,196.9 331.6,197.3 333.1,197.4 335.1,196.4 336.9,194.1 337.3,193.1 337.7,189.6 336.8,187.1 335.1,185.2 334.1,184.7 332.1,184.4Z"/>
<path fill="#1fff00" d="M316.1,164.6 520.6,164.6 520.6,252.8 518.1,252.5 514.6,252.4 510.6,251.9 508.6,252.4 507.1,253.2 505.8,255.1 504.4,256.6 503.9,257.6 500.9,265.1 500.3,269.6 500,270.6 499.3,271.6 495.6,275.6 491.6,278.9 487.1,281.4 486.1,281.6 485.1,281.6 483.1,280.9 481.6,280.1 477.7,277.1 475.2,274.1 470.7,270.1 467.1,268.4 465.6,267.4 462.9,265.1 458.6,260.9 451.7,255.1 448.1,251.6 445.9,250.1 443.6,247.9 441,246.1 439.1,244.2 437.1,242.7 434.6,241.4 426.6,239.1 421.6,238.5 419.1,238.5 414.1,239.7 408.6,241.9 404.1,244.2 400.1,247.6 398.6,248.6 397.1,249.1 396.6,249.5 389.7,257.1 386.1,262.3 380.7,268.1 378.6,271 373.1,277.3 370.1,280.1 367.7,283.1 366.6,284.1 365.1,284.8 364.1,284.6 363.1,283.9 361.1,281.2 358.7,277.1 357,273.1 354.6,270.1 353.7,268.6 351.1,261.6 348.5,257.6 347.2,253.1 345.6,249.6 344.7,246.1 343.3,243.6 342,240.6 341.7,239.1 341.7,237.6 342.8,234.6 343,233.1 342.4,229.6 342.5,223.6 341.6,218.9 341.1,218.2 339.8,217.1 339.4,216.1 339.2,211.1 339.3,203.6 339,198.1 339.1,194.6 338.7,192.1 338.8,190.1 338.5,188.6 337.4,186.6 336.1,185.1 335.1,184.3 334.1,183.9 332.1,183.6 330.6,183.9 329.1,184.5 327.6,185.5 325.4,186.6 323.8,187.6 322.8,188.6 320.6,192.3 319.6,193.5 317.4,194.6 317,195.6 316.1,200.5 315.6,202.2 315.6,164.6Z"/>
<path fill="#3eff00" d="M316.1,164.6 520.6,164.6 520.6,251.5 518.1,251.4 514.6,251.6 510.6,250.9 508.6,251.3 507.1,252 506.5,252.6 505.5,254.6 503.5,256.6 502.9,257.6 500.2,264.6 499.6,268.6 499.3,269.6 498.6,270.6 494.9,274.6 490.6,278 489.1,278.9 487.1,279.8 486.1,280 485.1,279.9 483.1,279.3 478.7,276.6 476.1,273.7 471.1,269.4 470.1,268.8 467.4,267.6 466.1,266.8 463.5,264.6 459.1,260.4 452.1,254.7 448.1,250.9 446.1,249.7 443.1,246.9 441.1,245.7 439.1,243.7 437.1,242.3 434.1,240.9 426.6,238.7 421.6,238.2 419.1,238.2 414.1,239.4 408.1,241.7 403.6,244 399.8,247.1 396.6,248.8 395.8,250.1 394.2,251.6 390.6,255.8 389.2,257.1 385.8,261.6 380.2,267.6 372.6,276.6 369.5,279.6 367.1,282.3 366.1,282.8 365.6,282.8 364.6,282.2 363.6,281.3 362.1,279.1 360.8,276.6 359.3,272.6 356.1,267.6 352.4,258.1 351.2,256.1 350.1,252.1 348.6,249.1 347.3,244.6 345.1,239.6 344.7,237.1 345,236.1 346.3,233.6 346.6,232.6 346,227.1 345.7,222.1 344.8,217.6 344.6,213.6 343.3,203.1 339.9,192.1 339.7,189.6 339.4,188.6 338.3,186.6 336.1,184.1 335.1,183.5 333.1,183 331.1,183.1 329,183.6 327.1,184.5 321.1,185.5 315.6,185.6 315.6,164.6Z"/>
<path fill="#5dff00" d="M316.1,164.6 520.6,164.6 520.6,250.3 518.1,250.3 514.6,250.7 510.6,249.8 508.1,250.4 506.6,251.3 506.1,251.9 504.8,254.6 503,256.1 501.9,257.6 499.4,264.1 498.7,268.1 497.6,269.9 494.1,273.7 490.1,276.8 487.1,278.4 486.1,278.7 485.1,278.6 483.6,278.1 479.6,276 476.6,273.1 474.1,271.2 471.1,268.5 467.1,266.5 464.2,264.1 459.9,260.1 452.1,253.8 448.1,250.1 445.1,248.1 443.1,246.2 441.1,245.1 439.1,243.2 437.1,241.8 433.6,240.3 429.6,239 426.6,238.4 421.1,237.9 419.1,237.9 414.6,238.9 409.6,240.8 407.6,241.3 405.7,242.1 402.7,243.6 396.6,248.1 395.3,250.1 390.6,255.3 388.6,257.1 385.6,260.9 378.8,268.1 372,276.1 367.6,280.4 366.6,281 366.1,280.9 365.1,280 363.7,278.1 363.1,276.6 361.9,272.6 359,267.6 357.6,264.7 354.8,256.6 354,254.6 353.1,251.6 351.2,247.6 350,243.6 348,238.1 347.7,236.6 348.5,233.6 348.1,229.1 347.3,221.1 346.7,218.6 346.3,215.1 345.6,211.1 344.7,202.6 343.4,198.6 341.2,193.1 340.1,188.3 338.7,186.1 336.4,183.6 335.6,183.1 333.6,182.6 331.1,182.6 327.1,183.4 320.6,184.3 315.6,184.4 315.6,164.6Z"/>
<path fill="#7cff00" d="M316.1,164.6 520.6,164.6 520.6,249 518.6,249 516.1,249.5 514.6,249.7 513.1,249.5 511.1,248.7 510.1,248.5 509.1,248.7 506.6,250.1 505.8,251.1 504.5,254.1 502,256.1 501,257.6 498.8,263.1 498,267.1 497.1,268.6 493.6,272.4 491.1,274.6 487.6,276.9 486.6,277.3 485.6,277.4 484.6,277.2 480.1,275.2 477.6,272.8 474.6,270.8 471.1,267.7 467.6,265.8 465.1,263.8 461.1,260.1 452.1,252.6 448.1,249 447.1,248.3 445.6,247.7 443.7,245.6 441.1,244.2 437.6,241.5 433.1,239.5 430.1,238.6 425.6,237.9 421.1,237.6 419.1,237.6 417.1,238 413.6,238.9 409.6,240.4 407.6,240.8 404.5,242.1 402.6,243.1 396.5,247.6 396,248.1 394.9,250.1 390.6,254.7 388.4,256.6 381.2,264.6 378.1,267.6 370.1,276.9 368.1,278.6 367.1,279 366.4,278.6 365.5,277.1 364.1,272.1 361.4,267.1 359.3,262.6 356.1,251.9 355.2,249.6 353.3,245.6 350.7,237.1 349.9,232.6 349.7,228.1 349,224.1 348.8,221.1 348.2,218.6 347.8,215.1 346.8,210.6 346,201.6 344.4,197.6 342.2,193.1 340.9,188.1 339.5,186.1 336.6,183.1 335.9,182.6 334.6,182.2 331.6,182 321.1,183.4 315.6,183.4 315.6,164.6Z"/>
<path fill="#9bff00" d="M316.1,164.6 520.6,164.6 520.6,247.1 518.6,247.2 516.1,248 514.6,248.2 512.6,248 510.1,246.8 509.6,246.8 508.6,247.2 505.6,249.9 504.4,253.1 503.8,254.1 501.1,256.1 500.3,257.1 498.1,262.2 497.3,266.1 496.4,267.6 492.7,271.6 490.1,273.8 487.1,275.8 485.6,276.2 484.6,276 480.6,274.3 478,272.1 475.1,270.4 471.6,267.2 468.7,265.6 466.1,263.5 463,260.6 452.1,251.4 448.6,248.2 447.6,247.5 446.1,246.9 444.4,245.1 443.1,244.2 441.1,243.2 437.6,240.7 432.6,238.7 430.1,238 425.1,237.4 421.1,237.2 419.1,237.3 416.6,237.7 413.1,238.7 409.6,240.1 407.6,240.4 404.8,241.6 402.1,243 396.1,247.5 395.5,248.1 394.7,249.6 392.1,252.4 386.9,257.1 380.6,264 377,267.6 370.6,274.9 369.1,276.3 368.1,276.7 367.4,276.1 366,272.1 362.5,266.1 360.8,262.6 357,250.6 354.8,245.6 353.9,243.1 352,236.6 351.2,233.1 350.9,227.6 350.3,224.1 350,221.1 349.3,218.1 349.1,215.1 348.1,210.1 347.1,201.1 345.1,196.5 343,192.6 341.5,187.6 340.4,186.1 337.1,182.7 336.2,182.1 335.1,181.8 331.6,181.6 323.6,182.6 320.1,182.8 315.6,182.7 315.6,164.6Z"/>
<path fill="#b9ff00" d="M316.1,164.6 520.6,164.6 520.6,245.2 518.6,245.4 515.1,246.6 514.1,246.8 512.6,246.7 509.6,245.4 509.1,245.5 508.1,246.1 505.1,249.2 503.5,253.6 500.2,256.1 499.4,257.1 497.4,261.6 496.5,265.1 495.6,266.6 493.6,269 491.1,271.4 487.7,274.1 486.6,274.8 485.6,275 484.6,274.9 481.6,273.7 478.6,271.5 475.1,269.5 471.6,266.4 469.5,265.1 466.6,262.9 463.6,260 460.6,257.6 449.1,247.4 446.6,246.1 445.8,245.1 444.6,244.2 441.1,242.2 438.1,240.2 433.1,238.3 430.1,237.5 426.6,237.1 421.1,236.9 417.1,237.2 413.1,238.4 410.1,239.5 407.6,240 403.1,242 402.1,242.6 399.6,244.6 396,247.1 395,248.1 394.1,249.5 391.6,252 385.7,257.1 380.2,263.1 376.2,267.1 371.1,272.8 370.1,273.7 369.1,274.1 368.6,273.7 367.6,271.6 363.7,265.6 362.9,264.1 361.9,261.6 357.6,249.1 355.7,244.6 354.2,240.1 352.4,233.1 352,228.1 351.2,221.6 350.4,218.1 350,213.1 348.9,206.6 348.3,201.1 347.8,199.6 343.7,191.6 342.3,187.6 341.1,185.8 338,182.6 337.1,181.9 336.1,181.5 331.6,181.2 324.1,182.2 320.1,182.3 315.6,182.2 315.6,164.6Z"/>
<path fill="#d8ff00" d="M316.1,164.6 520.6,164.6 520.6,243.2 517.1,244 513.6,245.3 512.1,245.2 510.1,244.1 509.1,244.1 506.8,245.6 504.3,249.1 503.7,251.6 503.1,253.1 502.2,254.1 499.2,256.1 498.4,257.1 497.2,259.6 495.7,264.1 494.9,265.6 491.6,269.3 488.3,272.1 486.3,273.6 485.1,273.9 482.1,272.9 479.1,270.9 475.6,269.1 472.1,265.9 467.1,262.2 464.4,259.6 460.7,256.6 457.1,253.1 452.8,249.6 449.6,246.6 447.6,245.5 446.1,244.2 444.1,242.9 438.6,239.7 437.1,239 430.1,237 427.1,236.6 421.1,236.5 417.1,236.8 410.1,239 408.1,239.4 402.6,241.9 399.1,244.6 395.3,247.1 393.6,249 391.1,251.4 385.3,256.1 381.9,260.1 375.9,266.1 371.6,270.8 370.6,271.5 370.1,271.7 369.6,271.4 368,269.6 364.3,264.1 361.8,257.1 355.2,240.1 353.5,233.1 353.2,229.1 352.4,222.6 351.5,218.1 351.2,212.6 350.1,206.1 349.4,200.6 346.1,193.8 344.1,190.2 342.8,187.1 341.6,185.3 338.6,182.2 337.6,181.4 336.6,181 333.6,180.8 331.1,180.8 326.6,181.6 323.6,181.9 319.6,181.9 315.6,181.6 315.6,164.6Z"/>
<path fill="#f7ff00" d="M316.1,164.6 520.6,164.6 520.6,241.3 516.1,242.5 513.1,243.8 512.1,243.8 510.1,242.8 509.1,242.8 506.1,244.6 505.2,245.6 503.8,248.1 503.1,251.6 502.6,252.8 502,253.6 498.7,255.6 497.8,256.6 496.4,259.1 495,263.1 494.2,264.6 490.1,269 486.4,272.1 485.1,272.7 484.1,272.5 482.6,272 480.1,270.5 477.1,269.1 475.6,268.2 472.6,265.4 467.8,261.6 465.1,259 461.4,256.1 457.4,252.1 453.6,249.1 450.6,246.2 446.6,243.4 443.1,241.3 437.6,238.4 430.6,236.5 427.1,236 420.6,236 417.1,236.3 408.1,238.9 402.1,241.7 398.4,244.6 394.6,247.1 390.6,250.8 384.6,255.5 383.5,256.6 381.1,259.6 371.6,269.2 370.6,269.7 370.1,269.5 369.1,268.5 365.5,263.6 363.2,257.1 360.6,251.2 358.8,246.1 356.2,239.6 354.7,233.1 354.5,229.6 353.7,223.1 352.6,218.1 352.5,213.1 352.3,210.6 351.2,205.6 350.6,200.9 350,199.1 347,193.1 344.8,189.6 343.4,186.6 342.4,185.1 338.9,181.6 337.6,180.8 335.6,180.5 331.1,180.4 326.1,181.3 323.6,181.6 315.6,181.2 315.6,164.6Z"/>
<path fill="#ffe800" d="M316.1,164.6 520.6,164.6 520.6,225.9 519.6,226.3 519.3,226.6 519.2,227.1 519.6,233.1 519.2,238.6 518.5,239.6 515.1,241 512.6,242.3 511.6,242.2 510.1,241.4 509.1,241.4 508.1,241.9 504.8,244.1 504.1,245.1 503.1,247.7 502.5,251.1 502.1,252.6 501.1,253.5 498.1,254.8 497.3,255.6 496.5,256.6 495.4,258.6 493.9,262.6 493.1,264 490.1,267.3 487.1,269.9 485.6,270.8 484.6,271.1 483.1,270.9 476.1,267.4 472.6,264.2 468.2,260.6 465.7,258.1 461.8,255.1 457.3,250.6 454.1,248.1 451.1,245.3 447.6,242.8 443.1,240.1 438.1,237.7 430.6,235.7 427.6,235.2 419.6,235.4 417.1,235.6 408.1,238.2 402.1,241 398.2,244.1 394.1,246.6 389.8,250.1 386.6,252.3 382.8,255.6 380.4,258.6 376.6,262.2 373.1,265.1 372.1,265.2 370.9,264.1 368.3,261.1 365.4,255.6 363.6,252.9 362.1,249.7 360.4,244.6 358.1,239.4 356.7,233.1 355.4,222.6 354.1,218.1 354.1,213.1 353.6,209.1 352.6,205.6 351.4,199.6 347.6,192.1 342.6,184.2 339.2,181.1 337.6,180.2 335.1,180 331.1,179.9 325.6,181 324.1,181.2 315.6,180.8 315.6,164.6ZM511.5,198.1 511.2,198.6 511.3,199.6 511.6,200 512.1,200.1 512.6,199.6 512.7,198.6 512.1,197.9ZM509.8,229.1 509.2,230.1 508.8,232.1 508.9,233.6 509.2,235.1 509.6,235.7 510.6,236.2 512.6,236.4 513.6,236.2 514.1,235.8 514.5,235.1 514.7,233.6 514.5,231.6 513.8,229.6 513.1,228.9 512.6,228.7 510.6,228.7Z"/>
<path fill="#ffc900" d="M316.1,164.6 520.6,164.6 520.6,224.2 515.1,225.2 511.6,223.9 510.6,223.8 509.6,224.2 508.4,225.1 507.8,226.1 506.9,228.6 506.1,232.6 506.4,236.6 507.4,239.6 507.4,240.1 506.6,241.1 504,243.1 503.2,244.1 502.3,247.1 501.5,252.1 501.1,252.7 500.1,253.1 499.6,253 499.3,252.6 499.2,251.6 499.4,249.6 499.6,249.1 499.6,247.8 498.3,252.1 497.1,254 495.1,256.1 492.5,262.6 490.4,265.1 488.6,266.9 486.6,268.6 485.1,269.3 484.1,269.5 483.1,269.2 477.6,266.7 476.6,266.1 466.6,257.1 462.9,254.1 458.1,249.6 454.9,247.1 452.1,244.6 448.6,242 443.6,238.9 438.6,236.6 435.1,235.5 428.1,234.1 421.1,234 418.1,234.3 411.6,235.8 407.1,237.4 401.6,240.1 397.6,243.2 393.1,245.9 389.1,249 385.1,251.5 381.6,254.6 379.1,257.2 377.6,258.5 376.6,259.1 375.6,259.1 373.8,257.6 370.9,254.1 367.8,250.6 366.3,247.6 364.1,241.6 362.4,238.1 361.4,234.1 360.4,231.6 358.9,223.1 357.1,218.1 356.4,213.1 355.5,208.6 352.3,199.1 348.2,191.1 343.1,183.7 340,181.1 338.1,179.9 335.6,179.5 331.6,179.4 330.1,179.5 325.6,180.6 324.1,180.7 315.6,180.4 315.6,164.6ZM511.9,195.1 511.1,195.4 510.6,195.9 510,197.1 509.9,198.1 510,200.1 510.3,201.6 510.6,202.1 511.6,202.7 512.6,202.6 513.5,201.6 514.1,200.3 514.3,199.1 514.1,197.7 513.6,196.4 512.6,195.2Z"/>
<path fill="#ffaa00" d="M316.1,164.6 520.6,164.6 520.6,222.7 518.6,222.7 516.7,222.1 511.6,219.6 510.4,218.6 510.2,218.1 510.3,214.1 511.1,208.6 511.8,207.6 513.6,206.6 514.4,205.6 515.3,201.6 515.6,199.6 515.2,196.6 514.1,193.3 513.6,193 513.1,192.9 510.6,193.3 509.4,194.1 508.6,195.6 508.6,199.1 508.4,201.6 507.7,204.6 507.2,209.1 506.4,212.6 505.8,217.1 504.4,223.1 504.1,229.6 503.3,234.1 502.6,237.1 502,242.1 501.4,244.6 501.1,245.2 499.6,245.5 499.1,246.1 497.6,251.5 497.1,252.5 496.1,253.4 494.6,254.3 493.8,255.1 493.1,256.8 491.8,261.1 491.3,262.1 488.1,265.6 486.1,267.3 485.1,267.8 483.6,267.6 478.6,265.5 477.1,264.6 473.6,261.6 468.3,256.6 458.6,248.2 449.6,241.1 445.1,238.2 443.1,237.1 437.1,234.6 429.1,232.9 421.6,232.5 418.6,232.8 411.6,234.2 407.1,235.8 401.1,238.9 397.1,241.8 392.6,244.7 389.1,247.4 384.6,249.8 379.6,254 378.6,254.5 378.1,254.5 377.1,253.7 372.2,248.6 370.7,246.1 368.5,240.1 366.5,236.1 365.4,232.6 364.1,229.7 362.4,222.6 360.1,217.6 359.3,214.1 357.2,207.6 352.3,196.6 349.4,191.1 348.2,189.1 343.1,182.8 341.6,181.6 338.1,179.4 335.1,179 331.1,178.8 329.6,179 324.1,180.2 315.6,180 315.6,164.6Z"/>
<path fill="#ff8b00" d="M316.1,164.6 520.6,164.6 520.6,190.1 519.1,190.8 518.1,191 517.1,191 515.1,190.4 510.6,191.4 508.6,192.3 507.3,193.6 506,198.1 504.4,202.1 504.2,203.6 504.1,206.6 503,210.6 502.9,217.1 501.9,221.1 501.5,223.1 501.2,227.1 501.3,231.1 500.7,234.6 500.6,239 500.1,241 497.9,246.1 497.1,249.8 496.6,251.3 495.7,252.1 493.6,253.2 492.5,254.1 491.8,255.6 490.8,260.1 490.1,261.6 488.6,263.3 486.1,265.6 485.3,266.1 484.6,266.2 480.6,264.7 478.6,263.8 477.1,262.8 474.4,260.6 470.1,256.2 459.3,247.1 450.1,239.9 445.6,236.9 443.6,235.8 437.1,233.1 429.6,231.7 421.1,231 418.1,231.4 414.6,232.3 412.1,232.5 410.6,232.9 406.1,234.7 401.1,237.4 394.1,242 389.3,245.6 387.6,246.7 384.1,248.1 381.6,249.8 380.6,249.9 380.1,249.7 378.6,248.4 376.3,246.1 375.1,244.3 372.6,237.8 370.6,234.2 369.5,231.1 367.7,227.6 365.7,221.6 363,216.6 361.9,213.6 358.9,206.6 357.1,203.1 354.8,199.6 353.1,195.6 348.8,188.1 346.1,185.3 343.1,181.7 338.1,178.9 335.1,178.4 331.1,178.1 329.1,178.4 323.8,179.6 315.6,179.5 315.6,164.6Z"/>
<path fill="#ff6c00" d="M316.1,164.6 520.6,164.6 520.6,188.3 516.1,188.3 510.1,189.5 507.6,190.3 506.1,191.1 505.4,191.6 504.7,192.6 503.4,195.6 501.7,200.6 500.2,209.6 499.7,216.1 498.8,221.6 497.6,226.1 497.3,230.6 495.3,239.1 493.3,246.6 490.3,254.6 489.1,260.1 488.1,261.5 487.1,262.6 485.6,263.9 484.6,264.3 483.6,264.1 481.3,263.1 479.1,262.1 477.6,261.1 475.2,259.1 471.6,255.2 465.6,250.1 450.6,238.3 445.1,234.7 436.6,231.2 433.1,230.8 429.6,230 421.6,229.1 417.6,229.7 414.5,230.6 411.1,230.9 405.1,233.3 400.6,235.8 397.3,238.1 393.6,240.3 389.4,243.6 387.1,245.1 384.1,246.2 382.9,246.1 379.5,243.6 378.6,242.5 376.3,236.6 373.8,232.1 372.5,228.6 370.3,225.1 368.3,220.1 365.6,215.6 359.9,204.1 358.3,201.6 356.1,198.9 354.2,194.6 349.9,187.1 346.6,184.1 343.6,180.6 338.1,177.9 334.6,177.3 331.1,177 328.1,177.4 323.6,178.5 315.6,178.7 315.6,164.6Z"/>
<path fill="#ff4d00" d="M512.6,171.6 514.6,171.4 520.6,171.4 520.6,185.2 511.6,185.3 507.6,186.1 505.6,186.3 503.1,186.3 502.1,185.9 501.7,185.1 501.2,182.1 500.3,179.6 500,178.1 500,175.6 500.5,173.6 501.1,173.1 501.6,173 505.6,172.8Z"/>
</g>
<ellipse cx="332.6" cy="190.3" rx="4.3" ry="5.8" fill="#06863c" fill-opacity="0.7" stroke="#013" stroke-opacity=".6" stroke-width=".5"/>
<path d="M404.0,245.0 406.0,244.5 407.4,243.0 408.5,242.7 409.6,242.1 411.1,241.7 411.4,240.9 413.9,241.0 414.5,239.9 417.0,239.9 419.1,239.2 419.8,239.8 422.0,240.2 423.5,240.2 425.0,240.1 427.0,240.2 428.1,240.3 429.8,240.7 432.1,242.7 433.4,242.0 435.1,242.6 436.5,243.5 437.7,245.2 439.4,244.1 440.2,246.0 440.1,246.6 442.3,247.6 443.8,248.1 445.0,250.0" fill="none" stroke="#000" stroke-width="2.6" stroke-linejoin="round" stroke-linecap="round"/>
<path d="M396.5,251.5 397.7,250.0 399.4,249.3 401.0,247.6 402.1,246.6 402.6,245.4 404.0,245.0" fill="none" stroke="#000" stroke-width="1.5" stroke-linejoin="round" stroke-linecap="round"/>
<path d="M445.0,250.0 446.2,251.5 448.0,252.5 448.4,254.0 450.3,255.5 451.8,255.9 452.8,258.2 453.5,259.0 454.6,260.1 457.3,261.4 456.9,262.7 458.9,264.4 459.2,264.5 461.2,265.3 463.2,266.3 463.3,267.9 464.6,270.5 466.5,271.7 467.7,271.1 468.6,272.3 469.3,274.3 470.4,276.0 471.4,277.9 473.4,278.7 474.3,279.9 474.6,281.9 474.9,282.3 476.3,283.2 477.4,284.2 478.0,286.0" fill="none" stroke="#000" stroke-width="1.3" stroke-linejoin="round" stroke-linecap="round" stroke-dasharray="2 1.5"/>
<path d="M335.0,230.0 334.1,230.2 334.3,233.0 336.7,234.6 335.4,237.1 336.2,238.1 335.3,239.5 334.4,240.4 334.8,244.0 335.9,244.3 336.0,245.6 335.8,247.6 336.1,249.9 334.1,251.0 336.3,251.6 335.0,254.0" fill="none" stroke="#000" stroke-width="1.2" stroke-linejoin="round" stroke-linecap="round" stroke-dasharray="1.6 1.8"/>
</g>
<path d="M318.6,167.6V297.2H517.6" fill="none" stroke="#000" stroke-width="1"/>
<path d="M328.6,297.2v-1.6M340.8,297.2v-1.6M352.9,297.2v-1.6M365.1,297.2v-1.6M377.2,297.2v-1.6M389.4,297.2v-1.6M401.5,297.2v-1.6M413.7,297.2v-1.6M425.8,297.2v-1.6M438.0,297.2v-1.6M450.1,297.2v-1.6M462.3,297.2v-1.6M474.4,297.2v-1.6M486.6,297.2v-1.6M498.7,297.2v-1.6M510.9,297.2v-1.6M318.6,188.7h4.4M318.6,213.2h4.4M318.6,237.7h4.4M318.6,262.2h4.4M318.6,286.7h4.4M318.6,176.4h2.2M318.6,200.9h2.2M318.6,225.4h2.2M318.6,249.9h2.2M318.6,274.4h2.2" stroke="#000" stroke-width="0.8" fill="none"/>
<g font-family="Liberation Sans, Arial, sans-serif" font-size="7.5" fill="#111">
<text x="335.1" y="305.1" text-anchor="middle">−150</text>
<text x="359.4" y="305.1" text-anchor="middle">−100</text>
<text x="383.7" y="305.1" text-anchor="middle">−50</text>
<text x="408.8" y="305.1" text-anchor="middle">0</text>
<text x="433.1" y="305.1" text-anchor="middle">50</text>
<text x="457.4" y="305.1" text-anchor="middle">100</text>
<text x="481.7" y="305.1" text-anchor="middle">150</text>
<text x="506.0" y="305.1" text-anchor="middle">200</text>
<text x="316.0" y="300.2" text-anchor="end">0</text>
<text x="316.0" y="275.0" text-anchor="end">50</text>
<text x="316.0" y="249.8" text-anchor="end">100</text>
<text x="316.0" y="224.6" text-anchor="end">150</text>
<text x="316.0" y="199.4" text-anchor="end">200</text>
<text x="316.0" y="174.2" text-anchor="end">250</text>
</g>
<g font-family="Liberation Serif, Times New Roman, serif" fill="#111">
<text transform="translate(423,316.3) scale(1,1.06)" font-size="10.0" text-anchor="middle">Window width /mm</text>
<text transform="translate(298.9,238.5) rotate(-90) scale(1,1.0)" font-size="10.7" text-anchor="middle">Window height /mm</text>
<text x="285.2" y="176.6" font-size="11.1">(d)</text>
</g>
<rect x="519.1" y="184.3" width="27.3" height="113.1" fill="#fff" stroke="#777" stroke-width="0.6"/>
<rect x="519.5" y="191.20" width="6.4" height="2.73" fill="#ff0d00"/>
<rect x="519.5" y="193.77" width="6.4" height="2.73" fill="#ff2600"/>
<rect x="519.5" y="196.35" width="6.4" height="2.73" fill="#ff4000"/>
<rect x="519.5" y="198.92" width="6.4" height="2.73" fill="#ff5900"/>
<rect x="519.5" y="201.50" width="6.4" height="2.73" fill="#ff7300"/>
<rect x="519.5" y="204.07" width="6.4" height="2.73" fill="#ff8c00"/>
<rect x="519.5" y="206.65" width="6.4" height="2.73" fill="#ffa600"/>
<rect x="519.5" y="209.22" width="6.4" height="2.73" fill="#ffbf00"/>
<rect x="519.5" y="211.80" width="6.4" height="2.73" fill="#ffd900"/>
<rect x="519.5" y="214.38" width="6.4" height="2.73" fill="#fff200"/>
<rect x="519.5" y="216.95" width="6.4" height="2.73" fill="#f2ff00"/>
<rect x="519.5" y="219.52" width="6.4" height="2.73" fill="#d9ff00"/>
<rect x="519.5" y="222.10" width="6.4" height="2.73" fill="#bfff00"/>
<rect x="519.5" y="224.67" width="6.4" height="2.73" fill="#a6ff00"/>
<rect x="519.5" y="227.25" width="6.4" height="2.73" fill="#8cff00"/>
<rect x="519.5" y="229.82" width="6.4" height="2.73" fill="#73ff00"/>
<rect x="519.5" y="232.40" width="6.4" height="2.73" fill="#59ff00"/>
<rect x="519.5" y="234.97" width="6.4" height="2.73" fill="#40ff00"/>
<rect x="519.5" y="237.55" width="6.4" height="2.73" fill="#26ff00"/>
<rect x="519.5" y="240.12" width="6.4" height="2.73" fill="#0dff00"/>
<rect x="519.5" y="242.70" width="6.4" height="2.73" fill="#00ff0d"/>
<rect x="519.5" y="245.27" width="6.4" height="2.73" fill="#00ff26"/>
<rect x="519.5" y="247.85" width="6.4" height="2.73" fill="#00ff40"/>
<rect x="519.5" y="250.42" width="6.4" height="2.73" fill="#00ff59"/>
<rect x="519.5" y="253.00" width="6.4" height="2.73" fill="#00ff73"/>
<rect x="519.5" y="255.57" width="6.4" height="2.73" fill="#00ff8c"/>
<rect x="519.5" y="258.15" width="6.4" height="2.73" fill="#00ffa6"/>
<rect x="519.5" y="260.73" width="6.4" height="2.73" fill="#00ffbf"/>
<rect x="519.5" y="263.30" width="6.4" height="2.73" fill="#00ffd9"/>
<rect x="519.5" y="265.88" width="6.4" height="2.73" fill="#00fff2"/>
<rect x="519.5" y="268.45" width="6.4" height="2.73" fill="#00f2ff"/>
<rect x="519.5" y="271.02" width="6.4" height="2.73" fill="#00d9ff"/>
<rect x="519.5" y="273.60" width="6.4" height="2.73" fill="#00bfff"/>
<rect x="519.5" y="276.18" width="6.4" height="2.73" fill="#00a6ff"/>
<rect x="519.5" y="278.75" width="6.4" height="2.73" fill="#008cff"/>
<rect x="519.5" y="281.32" width="6.4" height="2.73" fill="#0073ff"/>
<rect x="519.5" y="283.90" width="6.4" height="2.73" fill="#0059ff"/>
<rect x="519.5" y="286.48" width="6.4" height="2.73" fill="#0040ff"/>
<rect x="519.5" y="289.05" width="6.4" height="2.73" fill="#0026ff"/>
<rect x="519.5" y="291.62" width="6.4" height="2.73" fill="#000dff"/>
<g font-family="Liberation Sans, Arial, sans-serif" font-size="4.6" fill="#333">
<text x="545.8" y="187.9" text-anchor="end" font-size="4.7">Vel Mag</text>
<text x="530" y="195.6">12.0769</text>
<text x="530" y="215.5">10.7015</text>
<text x="530" y="235.5">8.02616</text>
<text x="530" y="255.0">5.35077</text>
<text x="530" y="274.8">2.67539</text>
<text x="530" y="294.4">0</text>
</g>
</svg>
</body></html>
